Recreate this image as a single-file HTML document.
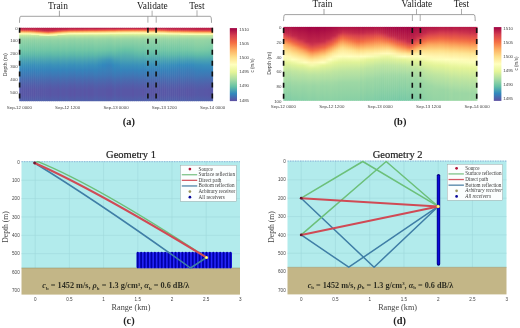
<!DOCTYPE html>
<html><head><meta charset="utf-8"><style>
html,body{margin:0;padding:0;background:#fff;width:520px;height:328px;overflow:hidden}
svg{display:block}
</style></head><body>
<svg width="520" height="328" viewBox="0 0 520 328">
<defs><linearGradient id="a0" x1="0" y1="0" x2="0" y2="1"><stop offset="0.000" stop-color="#b21747"/><stop offset="0.010" stop-color="#ba2149"/><stop offset="0.017" stop-color="#c0274a"/><stop offset="0.024" stop-color="#ca324c"/><stop offset="0.031" stop-color="#db474d"/><stop offset="0.038" stop-color="#e65848"/><stop offset="0.045" stop-color="#f57647"/><stop offset="0.052" stop-color="#fb9d59"/><stop offset="0.059" stop-color="#fdbc6d"/><stop offset="0.066" stop-color="#fed682"/><stop offset="0.073" stop-color="#fee99b"/><stop offset="0.080" stop-color="#fff9b5"/><stop offset="0.087" stop-color="#f7fcb2"/><stop offset="0.096" stop-color="#d7ef9b"/><stop offset="0.104" stop-color="#c9e99e"/><stop offset="0.113" stop-color="#bce4a0"/><stop offset="0.122" stop-color="#b5e1a2"/><stop offset="0.130" stop-color="#addea4"/><stop offset="0.139" stop-color="#a5dba4"/><stop offset="0.167" stop-color="#94d4a4"/><stop offset="0.235" stop-color="#84cea5"/><stop offset="0.303" stop-color="#73c7a5"/><stop offset="0.370" stop-color="#5fbba8"/><stop offset="0.438" stop-color="#4da6b1"/><stop offset="0.506" stop-color="#3c93b8"/><stop offset="0.576" stop-color="#3485bc"/><stop offset="0.643" stop-color="#3d7ab6"/><stop offset="0.711" stop-color="#476cb0"/><stop offset="0.779" stop-color="#5061aa"/><stop offset="0.847" stop-color="#5659a7"/><stop offset="0.915" stop-color="#5659a7"/><stop offset="1.000" stop-color="#4e63ac"/></linearGradient><linearGradient id="a1" x1="0" y1="0" x2="0" y2="1"><stop offset="0.000" stop-color="#b51a47"/><stop offset="0.010" stop-color="#bd2349"/><stop offset="0.017" stop-color="#c2294b"/><stop offset="0.024" stop-color="#cb334d"/><stop offset="0.031" stop-color="#db474d"/><stop offset="0.038" stop-color="#e75948"/><stop offset="0.045" stop-color="#f57747"/><stop offset="0.052" stop-color="#fb9d59"/><stop offset="0.059" stop-color="#fdbd6d"/><stop offset="0.066" stop-color="#fed683"/><stop offset="0.073" stop-color="#feea9b"/><stop offset="0.080" stop-color="#fffab6"/><stop offset="0.087" stop-color="#f7fcb2"/><stop offset="0.096" stop-color="#d4ee9c"/><stop offset="0.104" stop-color="#c6e89e"/><stop offset="0.113" stop-color="#bae3a1"/><stop offset="0.122" stop-color="#b2e0a3"/><stop offset="0.130" stop-color="#abdda4"/><stop offset="0.139" stop-color="#a2d9a4"/><stop offset="0.167" stop-color="#91d3a4"/><stop offset="0.235" stop-color="#81cda5"/><stop offset="0.303" stop-color="#70c6a5"/><stop offset="0.370" stop-color="#5db8a9"/><stop offset="0.438" stop-color="#4ba3b2"/><stop offset="0.506" stop-color="#3a91b9"/><stop offset="0.576" stop-color="#3683bb"/><stop offset="0.643" stop-color="#3f77b5"/><stop offset="0.711" stop-color="#496aaf"/><stop offset="0.779" stop-color="#525ea9"/><stop offset="0.847" stop-color="#5857a6"/><stop offset="0.915" stop-color="#5856a6"/><stop offset="1.000" stop-color="#5061aa"/></linearGradient><linearGradient id="a2" x1="0" y1="0" x2="0" y2="1"><stop offset="0.000" stop-color="#b41947"/><stop offset="0.010" stop-color="#bc2249"/><stop offset="0.017" stop-color="#c1284a"/><stop offset="0.024" stop-color="#c9314c"/><stop offset="0.031" stop-color="#da464d"/><stop offset="0.038" stop-color="#e65749"/><stop offset="0.045" stop-color="#f57346"/><stop offset="0.052" stop-color="#fa9a58"/><stop offset="0.059" stop-color="#fdba6b"/><stop offset="0.066" stop-color="#fed481"/><stop offset="0.073" stop-color="#fee899"/><stop offset="0.080" stop-color="#fff8b3"/><stop offset="0.087" stop-color="#f8fcb4"/><stop offset="0.096" stop-color="#d5ee9c"/><stop offset="0.104" stop-color="#c7e89e"/><stop offset="0.113" stop-color="#bae3a1"/><stop offset="0.122" stop-color="#b3e0a2"/><stop offset="0.130" stop-color="#abdda4"/><stop offset="0.139" stop-color="#a3daa4"/><stop offset="0.167" stop-color="#92d3a4"/><stop offset="0.235" stop-color="#82cda5"/><stop offset="0.303" stop-color="#71c6a5"/><stop offset="0.370" stop-color="#5eb9a9"/><stop offset="0.438" stop-color="#4ba4b1"/><stop offset="0.506" stop-color="#3b92b9"/><stop offset="0.576" stop-color="#3683bb"/><stop offset="0.643" stop-color="#3e78b5"/><stop offset="0.711" stop-color="#496aaf"/><stop offset="0.779" stop-color="#525faa"/><stop offset="0.847" stop-color="#5857a6"/><stop offset="0.915" stop-color="#5857a6"/><stop offset="1.000" stop-color="#5061ab"/></linearGradient><linearGradient id="a3" x1="0" y1="0" x2="0" y2="1"><stop offset="0.000" stop-color="#b41947"/><stop offset="0.010" stop-color="#bb2249"/><stop offset="0.017" stop-color="#c1274a"/><stop offset="0.024" stop-color="#c72f4c"/><stop offset="0.031" stop-color="#d9444d"/><stop offset="0.038" stop-color="#e55649"/><stop offset="0.045" stop-color="#f47044"/><stop offset="0.052" stop-color="#fa9756"/><stop offset="0.059" stop-color="#fdb869"/><stop offset="0.066" stop-color="#fed27f"/><stop offset="0.073" stop-color="#fee797"/><stop offset="0.080" stop-color="#fff7b1"/><stop offset="0.087" stop-color="#f9fdb6"/><stop offset="0.096" stop-color="#d5ee9b"/><stop offset="0.104" stop-color="#c7e99e"/><stop offset="0.113" stop-color="#bbe3a1"/><stop offset="0.122" stop-color="#b3e0a2"/><stop offset="0.130" stop-color="#acdda4"/><stop offset="0.139" stop-color="#a3daa4"/><stop offset="0.167" stop-color="#93d3a4"/><stop offset="0.235" stop-color="#82cda5"/><stop offset="0.303" stop-color="#72c7a5"/><stop offset="0.370" stop-color="#5eb9a9"/><stop offset="0.438" stop-color="#4ca4b1"/><stop offset="0.506" stop-color="#3b92b9"/><stop offset="0.576" stop-color="#3584bb"/><stop offset="0.643" stop-color="#3e78b6"/><stop offset="0.711" stop-color="#496baf"/><stop offset="0.779" stop-color="#515faa"/><stop offset="0.847" stop-color="#5757a6"/><stop offset="0.915" stop-color="#5757a6"/><stop offset="1.000" stop-color="#5062ab"/></linearGradient><linearGradient id="a4" x1="0" y1="0" x2="0" y2="1"><stop offset="0.000" stop-color="#b51a47"/><stop offset="0.010" stop-color="#bc2349"/><stop offset="0.017" stop-color="#c2284a"/><stop offset="0.024" stop-color="#c72f4c"/><stop offset="0.031" stop-color="#d9444e"/><stop offset="0.038" stop-color="#e45549"/><stop offset="0.045" stop-color="#f46f44"/><stop offset="0.052" stop-color="#fa9556"/><stop offset="0.059" stop-color="#fdb769"/><stop offset="0.066" stop-color="#fed17e"/><stop offset="0.073" stop-color="#fee696"/><stop offset="0.080" stop-color="#fff6b0"/><stop offset="0.087" stop-color="#f9fdb6"/><stop offset="0.096" stop-color="#d4ee9c"/><stop offset="0.104" stop-color="#c6e89e"/><stop offset="0.113" stop-color="#b9e3a1"/><stop offset="0.122" stop-color="#b2e0a3"/><stop offset="0.130" stop-color="#aadda4"/><stop offset="0.139" stop-color="#a2d9a4"/><stop offset="0.167" stop-color="#91d3a4"/><stop offset="0.235" stop-color="#80cca5"/><stop offset="0.303" stop-color="#70c6a5"/><stop offset="0.370" stop-color="#5db8a9"/><stop offset="0.438" stop-color="#4aa3b2"/><stop offset="0.506" stop-color="#3a91b9"/><stop offset="0.576" stop-color="#3682ba"/><stop offset="0.643" stop-color="#3f77b5"/><stop offset="0.711" stop-color="#4a69af"/><stop offset="0.779" stop-color="#525ea9"/><stop offset="0.847" stop-color="#5856a5"/><stop offset="0.915" stop-color="#5956a5"/><stop offset="1.000" stop-color="#5160aa"/></linearGradient><linearGradient id="a5" x1="0" y1="0" x2="0" y2="1"><stop offset="0.000" stop-color="#b41947"/><stop offset="0.010" stop-color="#bb2249"/><stop offset="0.017" stop-color="#c0274a"/><stop offset="0.024" stop-color="#c52d4b"/><stop offset="0.031" stop-color="#d7414e"/><stop offset="0.038" stop-color="#e3534a"/><stop offset="0.045" stop-color="#f26b44"/><stop offset="0.052" stop-color="#f99053"/><stop offset="0.059" stop-color="#fdb466"/><stop offset="0.066" stop-color="#fece7c"/><stop offset="0.073" stop-color="#fee492"/><stop offset="0.080" stop-color="#fff4ad"/><stop offset="0.087" stop-color="#fbfdb9"/><stop offset="0.096" stop-color="#d5ee9c"/><stop offset="0.104" stop-color="#c7e89e"/><stop offset="0.113" stop-color="#bae3a1"/><stop offset="0.122" stop-color="#b3e0a2"/><stop offset="0.130" stop-color="#abdda4"/><stop offset="0.139" stop-color="#a3daa4"/><stop offset="0.167" stop-color="#92d3a4"/><stop offset="0.235" stop-color="#81cda5"/><stop offset="0.303" stop-color="#71c6a5"/><stop offset="0.370" stop-color="#5eb9a9"/><stop offset="0.438" stop-color="#4ba4b1"/><stop offset="0.506" stop-color="#3a91b9"/><stop offset="0.576" stop-color="#3683bb"/><stop offset="0.643" stop-color="#3e78b5"/><stop offset="0.711" stop-color="#496aaf"/><stop offset="0.779" stop-color="#525faa"/><stop offset="0.847" stop-color="#5857a6"/><stop offset="0.915" stop-color="#5857a6"/><stop offset="1.000" stop-color="#5061ab"/></linearGradient><linearGradient id="a6" x1="0" y1="0" x2="0" y2="1"><stop offset="0.000" stop-color="#b41947"/><stop offset="0.010" stop-color="#bb2149"/><stop offset="0.017" stop-color="#bf264a"/><stop offset="0.024" stop-color="#c42b4b"/><stop offset="0.031" stop-color="#d33c4f"/><stop offset="0.038" stop-color="#e04e4b"/><stop offset="0.045" stop-color="#ed6346"/><stop offset="0.052" stop-color="#f7864e"/><stop offset="0.059" stop-color="#fdac60"/><stop offset="0.066" stop-color="#fdc776"/><stop offset="0.073" stop-color="#fee08b"/><stop offset="0.080" stop-color="#fff0a6"/><stop offset="0.087" stop-color="#feffbe"/><stop offset="0.096" stop-color="#eef8a5"/><stop offset="0.104" stop-color="#c7e89e"/><stop offset="0.113" stop-color="#bae3a1"/><stop offset="0.122" stop-color="#b3e0a2"/><stop offset="0.130" stop-color="#abdda4"/><stop offset="0.139" stop-color="#a3daa4"/><stop offset="0.167" stop-color="#92d3a4"/><stop offset="0.235" stop-color="#81cda5"/><stop offset="0.303" stop-color="#71c6a5"/><stop offset="0.370" stop-color="#5eb9a9"/><stop offset="0.438" stop-color="#4ba4b1"/><stop offset="0.506" stop-color="#3a91b9"/><stop offset="0.576" stop-color="#3683bb"/><stop offset="0.643" stop-color="#3e78b5"/><stop offset="0.711" stop-color="#496aaf"/><stop offset="0.779" stop-color="#525faa"/><stop offset="0.847" stop-color="#5857a6"/><stop offset="0.915" stop-color="#5857a6"/><stop offset="1.000" stop-color="#5061ab"/></linearGradient><linearGradient id="a7" x1="0" y1="0" x2="0" y2="1"><stop offset="0.000" stop-color="#b61c48"/><stop offset="0.010" stop-color="#bc2349"/><stop offset="0.017" stop-color="#c1274a"/><stop offset="0.024" stop-color="#c52c4b"/><stop offset="0.031" stop-color="#cf384e"/><stop offset="0.038" stop-color="#dd4b4c"/><stop offset="0.045" stop-color="#e95d47"/><stop offset="0.052" stop-color="#f67d4b"/><stop offset="0.059" stop-color="#fca45c"/><stop offset="0.066" stop-color="#fdc171"/><stop offset="0.073" stop-color="#fedb87"/><stop offset="0.080" stop-color="#feeda0"/><stop offset="0.087" stop-color="#fffcbb"/><stop offset="0.096" stop-color="#f1f9a9"/><stop offset="0.104" stop-color="#c5e89f"/><stop offset="0.113" stop-color="#b8e2a1"/><stop offset="0.122" stop-color="#b1dfa3"/><stop offset="0.130" stop-color="#a9dca4"/><stop offset="0.139" stop-color="#a0d9a4"/><stop offset="0.167" stop-color="#90d2a4"/><stop offset="0.235" stop-color="#7fcca5"/><stop offset="0.303" stop-color="#6fc5a5"/><stop offset="0.370" stop-color="#5cb7aa"/><stop offset="0.438" stop-color="#49a2b2"/><stop offset="0.506" stop-color="#398fba"/><stop offset="0.576" stop-color="#3781ba"/><stop offset="0.643" stop-color="#4076b4"/><stop offset="0.711" stop-color="#4a68ae"/><stop offset="0.779" stop-color="#535da9"/><stop offset="0.847" stop-color="#5955a5"/><stop offset="0.915" stop-color="#5955a5"/><stop offset="1.000" stop-color="#515faa"/></linearGradient><linearGradient id="a8" x1="0" y1="0" x2="0" y2="1"><stop offset="0.000" stop-color="#b31847"/><stop offset="0.010" stop-color="#b91f48"/><stop offset="0.017" stop-color="#bd2349"/><stop offset="0.024" stop-color="#c1284a"/><stop offset="0.031" stop-color="#c72e4c"/><stop offset="0.038" stop-color="#d9434e"/><stop offset="0.045" stop-color="#e45549"/><stop offset="0.052" stop-color="#f46f44"/><stop offset="0.059" stop-color="#fa9656"/><stop offset="0.066" stop-color="#fdb769"/><stop offset="0.073" stop-color="#fed17e"/><stop offset="0.080" stop-color="#fee696"/><stop offset="0.087" stop-color="#fff6b0"/><stop offset="0.096" stop-color="#f6fbb1"/><stop offset="0.104" stop-color="#c8e99e"/><stop offset="0.113" stop-color="#bce4a1"/><stop offset="0.122" stop-color="#b4e1a2"/><stop offset="0.130" stop-color="#addea4"/><stop offset="0.139" stop-color="#a4daa4"/><stop offset="0.167" stop-color="#93d4a4"/><stop offset="0.235" stop-color="#83cda5"/><stop offset="0.303" stop-color="#72c7a5"/><stop offset="0.370" stop-color="#5fbaa8"/><stop offset="0.438" stop-color="#4ca5b1"/><stop offset="0.506" stop-color="#3c93b9"/><stop offset="0.576" stop-color="#3584bb"/><stop offset="0.643" stop-color="#3d79b6"/><stop offset="0.711" stop-color="#486baf"/><stop offset="0.779" stop-color="#5160aa"/><stop offset="0.847" stop-color="#5758a6"/><stop offset="0.915" stop-color="#5758a6"/><stop offset="1.000" stop-color="#4f62ab"/></linearGradient><linearGradient id="a9" x1="0" y1="0" x2="0" y2="1"><stop offset="0.000" stop-color="#b31947"/><stop offset="0.010" stop-color="#b91f48"/><stop offset="0.017" stop-color="#bd2349"/><stop offset="0.024" stop-color="#c1274a"/><stop offset="0.031" stop-color="#c42b4b"/><stop offset="0.038" stop-color="#d63f4f"/><stop offset="0.045" stop-color="#e1514a"/><stop offset="0.052" stop-color="#f06744"/><stop offset="0.059" stop-color="#f88c51"/><stop offset="0.066" stop-color="#fdb163"/><stop offset="0.073" stop-color="#feca79"/><stop offset="0.080" stop-color="#fee28f"/><stop offset="0.087" stop-color="#fff2aa"/><stop offset="0.096" stop-color="#f9fdb6"/><stop offset="0.104" stop-color="#c8e99e"/><stop offset="0.113" stop-color="#bbe4a1"/><stop offset="0.122" stop-color="#b4e0a2"/><stop offset="0.130" stop-color="#acdda4"/><stop offset="0.139" stop-color="#a3daa4"/><stop offset="0.167" stop-color="#93d4a4"/><stop offset="0.235" stop-color="#82cda5"/><stop offset="0.303" stop-color="#72c7a5"/><stop offset="0.370" stop-color="#5eb9a9"/><stop offset="0.438" stop-color="#4ca5b1"/><stop offset="0.506" stop-color="#3b92b9"/><stop offset="0.576" stop-color="#3584bb"/><stop offset="0.643" stop-color="#3e79b6"/><stop offset="0.711" stop-color="#486baf"/><stop offset="0.779" stop-color="#5160aa"/><stop offset="0.847" stop-color="#5758a6"/><stop offset="0.915" stop-color="#5758a6"/><stop offset="1.000" stop-color="#4f62ab"/></linearGradient><linearGradient id="a10" x1="0" y1="0" x2="0" y2="1"><stop offset="0.000" stop-color="#b51a47"/><stop offset="0.010" stop-color="#ba2049"/><stop offset="0.017" stop-color="#be2449"/><stop offset="0.024" stop-color="#c1284a"/><stop offset="0.031" stop-color="#c52c4b"/><stop offset="0.038" stop-color="#d23a4e"/><stop offset="0.045" stop-color="#df4d4b"/><stop offset="0.052" stop-color="#ec6046"/><stop offset="0.059" stop-color="#f7824d"/><stop offset="0.066" stop-color="#fca95f"/><stop offset="0.073" stop-color="#fdc474"/><stop offset="0.080" stop-color="#fede89"/><stop offset="0.087" stop-color="#feefa3"/><stop offset="0.096" stop-color="#fcfebb"/><stop offset="0.104" stop-color="#ecf8a2"/><stop offset="0.113" stop-color="#bae3a1"/><stop offset="0.122" stop-color="#b2e0a3"/><stop offset="0.130" stop-color="#aadda4"/><stop offset="0.139" stop-color="#a2d9a4"/><stop offset="0.167" stop-color="#91d3a4"/><stop offset="0.235" stop-color="#81cca5"/><stop offset="0.303" stop-color="#70c6a5"/><stop offset="0.370" stop-color="#5db8a9"/><stop offset="0.438" stop-color="#4aa3b2"/><stop offset="0.506" stop-color="#3a91b9"/><stop offset="0.576" stop-color="#3683ba"/><stop offset="0.643" stop-color="#3f77b5"/><stop offset="0.711" stop-color="#496aaf"/><stop offset="0.779" stop-color="#525ea9"/><stop offset="0.847" stop-color="#5856a5"/><stop offset="0.915" stop-color="#5856a5"/><stop offset="1.000" stop-color="#5061aa"/></linearGradient><linearGradient id="a11" x1="0" y1="0" x2="0" y2="1"><stop offset="0.000" stop-color="#b41a47"/><stop offset="0.010" stop-color="#b91f48"/><stop offset="0.017" stop-color="#bd2349"/><stop offset="0.024" stop-color="#c0274a"/><stop offset="0.031" stop-color="#c32a4b"/><stop offset="0.038" stop-color="#cb334d"/><stop offset="0.045" stop-color="#db474d"/><stop offset="0.052" stop-color="#e75948"/><stop offset="0.059" stop-color="#f57647"/><stop offset="0.066" stop-color="#fb9d59"/><stop offset="0.073" stop-color="#fdbc6d"/><stop offset="0.080" stop-color="#fed683"/><stop offset="0.087" stop-color="#feea9b"/><stop offset="0.096" stop-color="#fffdbc"/><stop offset="0.104" stop-color="#f0f9a8"/><stop offset="0.113" stop-color="#bae3a1"/><stop offset="0.122" stop-color="#b3e0a2"/><stop offset="0.130" stop-color="#abdda4"/><stop offset="0.139" stop-color="#a2daa4"/><stop offset="0.167" stop-color="#92d3a4"/><stop offset="0.235" stop-color="#81cda5"/><stop offset="0.303" stop-color="#71c6a5"/><stop offset="0.370" stop-color="#5eb9a9"/><stop offset="0.438" stop-color="#4ba4b2"/><stop offset="0.506" stop-color="#3a91b9"/><stop offset="0.576" stop-color="#3683bb"/><stop offset="0.643" stop-color="#3f78b5"/><stop offset="0.711" stop-color="#496aaf"/><stop offset="0.779" stop-color="#525fa9"/><stop offset="0.847" stop-color="#5857a6"/><stop offset="0.915" stop-color="#5857a6"/><stop offset="1.000" stop-color="#5061ab"/></linearGradient><linearGradient id="a12" x1="0" y1="0" x2="0" y2="1"><stop offset="0.000" stop-color="#b31947"/><stop offset="0.010" stop-color="#b81e48"/><stop offset="0.017" stop-color="#bb2249"/><stop offset="0.024" stop-color="#bf254a"/><stop offset="0.031" stop-color="#c2294a"/><stop offset="0.038" stop-color="#c52c4b"/><stop offset="0.045" stop-color="#d7414e"/><stop offset="0.052" stop-color="#e3534a"/><stop offset="0.059" stop-color="#f36b44"/><stop offset="0.066" stop-color="#f99154"/><stop offset="0.073" stop-color="#fdb466"/><stop offset="0.080" stop-color="#fece7c"/><stop offset="0.087" stop-color="#fee493"/><stop offset="0.096" stop-color="#fff8b4"/><stop offset="0.104" stop-color="#f4fbaf"/><stop offset="0.113" stop-color="#bbe3a1"/><stop offset="0.122" stop-color="#b3e0a2"/><stop offset="0.130" stop-color="#acdda4"/><stop offset="0.139" stop-color="#a3daa4"/><stop offset="0.167" stop-color="#93d3a4"/><stop offset="0.235" stop-color="#82cda5"/><stop offset="0.303" stop-color="#72c7a5"/><stop offset="0.370" stop-color="#5eb9a9"/><stop offset="0.438" stop-color="#4ca5b1"/><stop offset="0.506" stop-color="#3b92b9"/><stop offset="0.576" stop-color="#3584bb"/><stop offset="0.643" stop-color="#3e79b6"/><stop offset="0.711" stop-color="#486baf"/><stop offset="0.779" stop-color="#5160aa"/><stop offset="0.847" stop-color="#5758a6"/><stop offset="0.915" stop-color="#5758a6"/><stop offset="1.000" stop-color="#4f62ab"/></linearGradient><linearGradient id="a13" x1="0" y1="0" x2="0" y2="1"><stop offset="0.000" stop-color="#b41a47"/><stop offset="0.010" stop-color="#b91f48"/><stop offset="0.017" stop-color="#bc2249"/><stop offset="0.024" stop-color="#bf254a"/><stop offset="0.031" stop-color="#c2294a"/><stop offset="0.038" stop-color="#c52c4b"/><stop offset="0.045" stop-color="#d43c4f"/><stop offset="0.052" stop-color="#e04e4b"/><stop offset="0.059" stop-color="#ee6345"/><stop offset="0.066" stop-color="#f8864f"/><stop offset="0.073" stop-color="#fdad61"/><stop offset="0.080" stop-color="#fdc776"/><stop offset="0.087" stop-color="#fee08b"/><stop offset="0.096" stop-color="#fff4ad"/><stop offset="0.104" stop-color="#f8fcb4"/><stop offset="0.113" stop-color="#bae3a1"/><stop offset="0.122" stop-color="#b3e0a2"/><stop offset="0.130" stop-color="#abdda4"/><stop offset="0.139" stop-color="#a2daa4"/><stop offset="0.167" stop-color="#92d3a4"/><stop offset="0.235" stop-color="#81cda5"/><stop offset="0.303" stop-color="#71c6a5"/><stop offset="0.370" stop-color="#5db8a9"/><stop offset="0.438" stop-color="#4ba4b2"/><stop offset="0.506" stop-color="#3a91b9"/><stop offset="0.576" stop-color="#3683bb"/><stop offset="0.643" stop-color="#3f78b5"/><stop offset="0.711" stop-color="#496aaf"/><stop offset="0.779" stop-color="#525fa9"/><stop offset="0.847" stop-color="#5857a6"/><stop offset="0.915" stop-color="#5857a6"/><stop offset="1.000" stop-color="#5061aa"/></linearGradient><linearGradient id="a14" x1="0" y1="0" x2="0" y2="1"><stop offset="0.000" stop-color="#b41a47"/><stop offset="0.010" stop-color="#b91f48"/><stop offset="0.017" stop-color="#bc2249"/><stop offset="0.024" stop-color="#bf254a"/><stop offset="0.031" stop-color="#c1284a"/><stop offset="0.038" stop-color="#c42c4b"/><stop offset="0.045" stop-color="#d0384e"/><stop offset="0.052" stop-color="#de4b4c"/><stop offset="0.059" stop-color="#ea5e47"/><stop offset="0.066" stop-color="#f77f4b"/><stop offset="0.073" stop-color="#fca65d"/><stop offset="0.080" stop-color="#fdc272"/><stop offset="0.087" stop-color="#fedc87"/><stop offset="0.096" stop-color="#fff1a8"/><stop offset="0.104" stop-color="#fafdb8"/><stop offset="0.113" stop-color="#bae3a1"/><stop offset="0.122" stop-color="#b3e0a2"/><stop offset="0.130" stop-color="#abdda4"/><stop offset="0.139" stop-color="#a2daa4"/><stop offset="0.167" stop-color="#92d3a4"/><stop offset="0.235" stop-color="#81cda5"/><stop offset="0.303" stop-color="#71c6a5"/><stop offset="0.370" stop-color="#5db8a9"/><stop offset="0.438" stop-color="#4ba4b2"/><stop offset="0.506" stop-color="#3a91b9"/><stop offset="0.576" stop-color="#3683bb"/><stop offset="0.643" stop-color="#3f78b5"/><stop offset="0.711" stop-color="#496aaf"/><stop offset="0.779" stop-color="#525fa9"/><stop offset="0.847" stop-color="#5857a6"/><stop offset="0.915" stop-color="#5857a6"/><stop offset="1.000" stop-color="#5061ab"/></linearGradient><linearGradient id="a15" x1="0" y1="0" x2="0" y2="1"><stop offset="0.000" stop-color="#b61b48"/><stop offset="0.010" stop-color="#ba2049"/><stop offset="0.017" stop-color="#bd2449"/><stop offset="0.024" stop-color="#c0274a"/><stop offset="0.031" stop-color="#c32a4b"/><stop offset="0.038" stop-color="#c62e4c"/><stop offset="0.045" stop-color="#d6404f"/><stop offset="0.052" stop-color="#e2514a"/><stop offset="0.059" stop-color="#f06744"/><stop offset="0.066" stop-color="#f88c51"/><stop offset="0.073" stop-color="#fdb164"/><stop offset="0.080" stop-color="#fecb79"/><stop offset="0.087" stop-color="#fee38f"/><stop offset="0.096" stop-color="#fff6b1"/><stop offset="0.104" stop-color="#f6fbb1"/><stop offset="0.113" stop-color="#b9e3a1"/><stop offset="0.122" stop-color="#b1dfa3"/><stop offset="0.130" stop-color="#a9dca4"/><stop offset="0.139" stop-color="#a1d9a4"/><stop offset="0.167" stop-color="#90d2a4"/><stop offset="0.235" stop-color="#7fcca5"/><stop offset="0.303" stop-color="#6fc6a5"/><stop offset="0.370" stop-color="#5cb7aa"/><stop offset="0.438" stop-color="#4aa2b2"/><stop offset="0.506" stop-color="#3990ba"/><stop offset="0.576" stop-color="#3782ba"/><stop offset="0.643" stop-color="#4076b5"/><stop offset="0.711" stop-color="#4a69ae"/><stop offset="0.779" stop-color="#535da9"/><stop offset="0.847" stop-color="#5955a5"/><stop offset="0.915" stop-color="#5955a5"/><stop offset="1.000" stop-color="#5160aa"/></linearGradient><linearGradient id="a16" x1="0" y1="0" x2="0" y2="1"><stop offset="0.000" stop-color="#b31947"/><stop offset="0.010" stop-color="#b81e48"/><stop offset="0.017" stop-color="#bb2249"/><stop offset="0.024" stop-color="#bf254a"/><stop offset="0.031" stop-color="#c2294a"/><stop offset="0.038" stop-color="#c62d4b"/><stop offset="0.045" stop-color="#d8434e"/><stop offset="0.052" stop-color="#e45449"/><stop offset="0.059" stop-color="#f46d43"/><stop offset="0.066" stop-color="#f99455"/><stop offset="0.073" stop-color="#fdb668"/><stop offset="0.080" stop-color="#fed07d"/><stop offset="0.087" stop-color="#fee695"/><stop offset="0.096" stop-color="#fffab6"/><stop offset="0.104" stop-color="#f3faad"/><stop offset="0.113" stop-color="#bbe4a1"/><stop offset="0.122" stop-color="#b3e0a2"/><stop offset="0.130" stop-color="#acdda4"/><stop offset="0.139" stop-color="#a3daa4"/><stop offset="0.167" stop-color="#93d4a4"/><stop offset="0.235" stop-color="#82cda5"/><stop offset="0.303" stop-color="#72c7a5"/><stop offset="0.370" stop-color="#5eb9a9"/><stop offset="0.438" stop-color="#4ca5b1"/><stop offset="0.506" stop-color="#3b92b9"/><stop offset="0.576" stop-color="#3584bb"/><stop offset="0.643" stop-color="#3e79b6"/><stop offset="0.711" stop-color="#486baf"/><stop offset="0.779" stop-color="#5160aa"/><stop offset="0.847" stop-color="#5758a6"/><stop offset="0.915" stop-color="#5758a6"/><stop offset="1.000" stop-color="#4f62ab"/></linearGradient><linearGradient id="a17" x1="0" y1="0" x2="0" y2="1"><stop offset="0.000" stop-color="#b41947"/><stop offset="0.010" stop-color="#b91f48"/><stop offset="0.017" stop-color="#bc2349"/><stop offset="0.024" stop-color="#c0264a"/><stop offset="0.031" stop-color="#c32a4b"/><stop offset="0.038" stop-color="#cc344d"/><stop offset="0.045" stop-color="#dc484c"/><stop offset="0.052" stop-color="#e75a48"/><stop offset="0.059" stop-color="#f67948"/><stop offset="0.066" stop-color="#fb9f5a"/><stop offset="0.073" stop-color="#fdbe6e"/><stop offset="0.080" stop-color="#fed784"/><stop offset="0.087" stop-color="#feeb9d"/><stop offset="0.096" stop-color="#fffebe"/><stop offset="0.104" stop-color="#f0f9a7"/><stop offset="0.113" stop-color="#bbe3a1"/><stop offset="0.122" stop-color="#b3e0a2"/><stop offset="0.130" stop-color="#abdda4"/><stop offset="0.139" stop-color="#a3daa4"/><stop offset="0.167" stop-color="#92d3a4"/><stop offset="0.235" stop-color="#82cda5"/><stop offset="0.303" stop-color="#71c6a5"/><stop offset="0.370" stop-color="#5eb9a9"/><stop offset="0.438" stop-color="#4ba4b1"/><stop offset="0.506" stop-color="#3b92b9"/><stop offset="0.576" stop-color="#3683bb"/><stop offset="0.643" stop-color="#3e78b5"/><stop offset="0.711" stop-color="#496aaf"/><stop offset="0.779" stop-color="#525faa"/><stop offset="0.847" stop-color="#5857a6"/><stop offset="0.915" stop-color="#5857a6"/><stop offset="1.000" stop-color="#5061ab"/></linearGradient><linearGradient id="a18" x1="0" y1="0" x2="0" y2="1"><stop offset="0.000" stop-color="#b41947"/><stop offset="0.010" stop-color="#b91f48"/><stop offset="0.017" stop-color="#bd2349"/><stop offset="0.024" stop-color="#c0274a"/><stop offset="0.031" stop-color="#c42b4b"/><stop offset="0.038" stop-color="#d33b4e"/><stop offset="0.045" stop-color="#df4e4b"/><stop offset="0.052" stop-color="#ed6246"/><stop offset="0.059" stop-color="#f7854e"/><stop offset="0.066" stop-color="#fdac60"/><stop offset="0.073" stop-color="#fdc675"/><stop offset="0.080" stop-color="#fee08b"/><stop offset="0.087" stop-color="#fff0a5"/><stop offset="0.096" stop-color="#fcfeba"/><stop offset="0.104" stop-color="#ecf7a1"/><stop offset="0.113" stop-color="#bbe3a1"/><stop offset="0.122" stop-color="#b3e0a2"/><stop offset="0.130" stop-color="#acdda4"/><stop offset="0.139" stop-color="#a3daa4"/><stop offset="0.167" stop-color="#92d3a4"/><stop offset="0.235" stop-color="#82cda5"/><stop offset="0.303" stop-color="#71c6a5"/><stop offset="0.370" stop-color="#5eb9a9"/><stop offset="0.438" stop-color="#4ba4b1"/><stop offset="0.506" stop-color="#3b92b9"/><stop offset="0.576" stop-color="#3584bb"/><stop offset="0.643" stop-color="#3e78b6"/><stop offset="0.711" stop-color="#496baf"/><stop offset="0.779" stop-color="#515faa"/><stop offset="0.847" stop-color="#5857a6"/><stop offset="0.915" stop-color="#5857a6"/><stop offset="1.000" stop-color="#5062ab"/></linearGradient><linearGradient id="a19" x1="0" y1="0" x2="0" y2="1"><stop offset="0.000" stop-color="#b61b48"/><stop offset="0.010" stop-color="#bc2249"/><stop offset="0.017" stop-color="#bf264a"/><stop offset="0.024" stop-color="#c32a4b"/><stop offset="0.031" stop-color="#c72f4c"/><stop offset="0.038" stop-color="#d9444e"/><stop offset="0.045" stop-color="#e45549"/><stop offset="0.052" stop-color="#f46e43"/><stop offset="0.059" stop-color="#f99455"/><stop offset="0.066" stop-color="#fdb768"/><stop offset="0.073" stop-color="#fed07e"/><stop offset="0.080" stop-color="#fee695"/><stop offset="0.087" stop-color="#fff6b0"/><stop offset="0.096" stop-color="#f6fcb1"/><stop offset="0.104" stop-color="#c5e89f"/><stop offset="0.113" stop-color="#b9e3a1"/><stop offset="0.122" stop-color="#b1dfa3"/><stop offset="0.130" stop-color="#a9dca4"/><stop offset="0.139" stop-color="#a1d9a4"/><stop offset="0.167" stop-color="#90d2a4"/><stop offset="0.235" stop-color="#7fcca5"/><stop offset="0.303" stop-color="#6fc5a5"/><stop offset="0.370" stop-color="#5cb7aa"/><stop offset="0.438" stop-color="#49a2b2"/><stop offset="0.506" stop-color="#3990ba"/><stop offset="0.576" stop-color="#3782ba"/><stop offset="0.643" stop-color="#4076b5"/><stop offset="0.711" stop-color="#4a69ae"/><stop offset="0.779" stop-color="#535da9"/><stop offset="0.847" stop-color="#5955a5"/><stop offset="0.915" stop-color="#5955a5"/><stop offset="1.000" stop-color="#515faa"/></linearGradient><linearGradient id="a20" x1="0" y1="0" x2="0" y2="1"><stop offset="0.000" stop-color="#b21747"/><stop offset="0.010" stop-color="#b91e48"/><stop offset="0.017" stop-color="#bd2349"/><stop offset="0.024" stop-color="#c1284a"/><stop offset="0.031" stop-color="#cb324d"/><stop offset="0.038" stop-color="#db474d"/><stop offset="0.045" stop-color="#e65848"/><stop offset="0.052" stop-color="#f57747"/><stop offset="0.059" stop-color="#fb9d59"/><stop offset="0.066" stop-color="#fdbc6d"/><stop offset="0.073" stop-color="#fed683"/><stop offset="0.080" stop-color="#feea9b"/><stop offset="0.087" stop-color="#fff9b6"/><stop offset="0.096" stop-color="#f4faad"/><stop offset="0.104" stop-color="#c9e99e"/><stop offset="0.113" stop-color="#bce4a0"/><stop offset="0.122" stop-color="#b5e1a2"/><stop offset="0.130" stop-color="#addea4"/><stop offset="0.139" stop-color="#a5dba4"/><stop offset="0.167" stop-color="#94d4a4"/><stop offset="0.235" stop-color="#84cea5"/><stop offset="0.303" stop-color="#73c7a5"/><stop offset="0.370" stop-color="#5fbba8"/><stop offset="0.438" stop-color="#4da6b1"/><stop offset="0.506" stop-color="#3c93b8"/><stop offset="0.576" stop-color="#3485bc"/><stop offset="0.643" stop-color="#3d7ab6"/><stop offset="0.711" stop-color="#476cb0"/><stop offset="0.779" stop-color="#5061aa"/><stop offset="0.847" stop-color="#5659a7"/><stop offset="0.915" stop-color="#5659a7"/><stop offset="1.000" stop-color="#4e63ac"/></linearGradient><linearGradient id="a21" x1="0" y1="0" x2="0" y2="1"><stop offset="0.000" stop-color="#b41947"/><stop offset="0.010" stop-color="#bb2149"/><stop offset="0.017" stop-color="#bf264a"/><stop offset="0.024" stop-color="#c42b4b"/><stop offset="0.031" stop-color="#d33b4e"/><stop offset="0.038" stop-color="#df4e4b"/><stop offset="0.045" stop-color="#ed6246"/><stop offset="0.052" stop-color="#f7854e"/><stop offset="0.059" stop-color="#fdab60"/><stop offset="0.066" stop-color="#fdc675"/><stop offset="0.073" stop-color="#fedf8a"/><stop offset="0.080" stop-color="#feefa5"/><stop offset="0.087" stop-color="#ffffbf"/><stop offset="0.096" stop-color="#eff9a6"/><stop offset="0.104" stop-color="#c7e89e"/><stop offset="0.113" stop-color="#bbe3a1"/><stop offset="0.122" stop-color="#b3e0a2"/><stop offset="0.130" stop-color="#abdda4"/><stop offset="0.139" stop-color="#a3daa4"/><stop offset="0.167" stop-color="#92d3a4"/><stop offset="0.235" stop-color="#82cda5"/><stop offset="0.303" stop-color="#71c6a5"/><stop offset="0.370" stop-color="#5eb9a9"/><stop offset="0.438" stop-color="#4ba4b1"/><stop offset="0.506" stop-color="#3b92b9"/><stop offset="0.576" stop-color="#3583bb"/><stop offset="0.643" stop-color="#3e78b5"/><stop offset="0.711" stop-color="#496baf"/><stop offset="0.779" stop-color="#525faa"/><stop offset="0.847" stop-color="#5857a6"/><stop offset="0.915" stop-color="#5857a6"/><stop offset="1.000" stop-color="#5061ab"/></linearGradient><linearGradient id="a22" x1="0" y1="0" x2="0" y2="1"><stop offset="0.000" stop-color="#b41a47"/><stop offset="0.010" stop-color="#bc2249"/><stop offset="0.017" stop-color="#c1274a"/><stop offset="0.024" stop-color="#c52d4b"/><stop offset="0.031" stop-color="#d7404e"/><stop offset="0.038" stop-color="#e2524a"/><stop offset="0.045" stop-color="#f16944"/><stop offset="0.052" stop-color="#f98e52"/><stop offset="0.059" stop-color="#fdb365"/><stop offset="0.066" stop-color="#fecc7a"/><stop offset="0.073" stop-color="#fee391"/><stop offset="0.080" stop-color="#fff3ab"/><stop offset="0.087" stop-color="#fcfeba"/><stop offset="0.096" stop-color="#ecf7a1"/><stop offset="0.104" stop-color="#c7e89e"/><stop offset="0.113" stop-color="#bae3a1"/><stop offset="0.122" stop-color="#b2e0a2"/><stop offset="0.130" stop-color="#abdda4"/><stop offset="0.139" stop-color="#a2daa4"/><stop offset="0.167" stop-color="#91d3a4"/><stop offset="0.235" stop-color="#81cda5"/><stop offset="0.303" stop-color="#70c6a5"/><stop offset="0.370" stop-color="#5db8a9"/><stop offset="0.438" stop-color="#4ba4b2"/><stop offset="0.506" stop-color="#3a91b9"/><stop offset="0.576" stop-color="#3683bb"/><stop offset="0.643" stop-color="#3f78b5"/><stop offset="0.711" stop-color="#496aaf"/><stop offset="0.779" stop-color="#525fa9"/><stop offset="0.847" stop-color="#5857a6"/><stop offset="0.915" stop-color="#5857a6"/><stop offset="1.000" stop-color="#5061aa"/></linearGradient><linearGradient id="a23" x1="0" y1="0" x2="0" y2="1"><stop offset="0.000" stop-color="#b21747"/><stop offset="0.010" stop-color="#ba2049"/><stop offset="0.017" stop-color="#bf254a"/><stop offset="0.024" stop-color="#c52c4b"/><stop offset="0.031" stop-color="#d8424e"/><stop offset="0.038" stop-color="#e35449"/><stop offset="0.045" stop-color="#f46d43"/><stop offset="0.052" stop-color="#f99455"/><stop offset="0.059" stop-color="#fdb668"/><stop offset="0.066" stop-color="#fecf7d"/><stop offset="0.073" stop-color="#fee694"/><stop offset="0.080" stop-color="#fff5af"/><stop offset="0.087" stop-color="#fafdb7"/><stop offset="0.096" stop-color="#d7ef9b"/><stop offset="0.104" stop-color="#c9e99e"/><stop offset="0.113" stop-color="#bde4a0"/><stop offset="0.122" stop-color="#b5e1a2"/><stop offset="0.130" stop-color="#aedea3"/><stop offset="0.139" stop-color="#a5dba4"/><stop offset="0.167" stop-color="#95d4a4"/><stop offset="0.235" stop-color="#84cea5"/><stop offset="0.303" stop-color="#74c7a5"/><stop offset="0.370" stop-color="#60bba8"/><stop offset="0.438" stop-color="#4da6b0"/><stop offset="0.506" stop-color="#3d94b8"/><stop offset="0.576" stop-color="#3486bc"/><stop offset="0.643" stop-color="#3d7ab6"/><stop offset="0.711" stop-color="#476db0"/><stop offset="0.779" stop-color="#5061ab"/><stop offset="0.847" stop-color="#5659a7"/><stop offset="0.915" stop-color="#5659a7"/><stop offset="1.000" stop-color="#4e64ac"/></linearGradient><linearGradient id="a24" x1="0" y1="0" x2="0" y2="1"><stop offset="0.000" stop-color="#b41947"/><stop offset="0.010" stop-color="#bc2349"/><stop offset="0.017" stop-color="#c2294a"/><stop offset="0.024" stop-color="#cc344d"/><stop offset="0.031" stop-color="#dc484c"/><stop offset="0.038" stop-color="#e75a48"/><stop offset="0.045" stop-color="#f67848"/><stop offset="0.052" stop-color="#fb9f5a"/><stop offset="0.059" stop-color="#fdbe6e"/><stop offset="0.066" stop-color="#fed784"/><stop offset="0.073" stop-color="#feea9c"/><stop offset="0.080" stop-color="#fffab7"/><stop offset="0.087" stop-color="#f6fbb1"/><stop offset="0.096" stop-color="#d5ee9c"/><stop offset="0.104" stop-color="#c7e89e"/><stop offset="0.113" stop-color="#bae3a1"/><stop offset="0.122" stop-color="#b3e0a2"/><stop offset="0.130" stop-color="#abdda4"/><stop offset="0.139" stop-color="#a3daa4"/><stop offset="0.167" stop-color="#92d3a4"/><stop offset="0.235" stop-color="#81cda5"/><stop offset="0.303" stop-color="#71c6a5"/><stop offset="0.370" stop-color="#5eb9a9"/><stop offset="0.438" stop-color="#4ba4b1"/><stop offset="0.506" stop-color="#3a91b9"/><stop offset="0.576" stop-color="#3683bb"/><stop offset="0.643" stop-color="#3e78b5"/><stop offset="0.711" stop-color="#496aaf"/><stop offset="0.779" stop-color="#525faa"/><stop offset="0.847" stop-color="#5857a6"/><stop offset="0.915" stop-color="#5857a6"/><stop offset="1.000" stop-color="#5061ab"/></linearGradient><linearGradient id="a25" x1="0" y1="0" x2="0" y2="1"><stop offset="0.000" stop-color="#b61b48"/><stop offset="0.010" stop-color="#be254a"/><stop offset="0.017" stop-color="#c42b4b"/><stop offset="0.024" stop-color="#cf384e"/><stop offset="0.031" stop-color="#dd4b4c"/><stop offset="0.038" stop-color="#e95d47"/><stop offset="0.045" stop-color="#f67d4b"/><stop offset="0.052" stop-color="#fca45c"/><stop offset="0.059" stop-color="#fdc171"/><stop offset="0.066" stop-color="#fedb87"/><stop offset="0.073" stop-color="#feeda0"/><stop offset="0.080" stop-color="#fffcbb"/><stop offset="0.087" stop-color="#f4fbae"/><stop offset="0.096" stop-color="#d3ed9c"/><stop offset="0.104" stop-color="#c5e89f"/><stop offset="0.113" stop-color="#b9e3a1"/><stop offset="0.122" stop-color="#b1dfa3"/><stop offset="0.130" stop-color="#a9dca4"/><stop offset="0.139" stop-color="#a1d9a4"/><stop offset="0.167" stop-color="#90d2a4"/><stop offset="0.235" stop-color="#7fcca5"/><stop offset="0.303" stop-color="#6fc6a5"/><stop offset="0.370" stop-color="#5cb7aa"/><stop offset="0.438" stop-color="#4aa2b2"/><stop offset="0.506" stop-color="#3990ba"/><stop offset="0.576" stop-color="#3782ba"/><stop offset="0.643" stop-color="#4076b5"/><stop offset="0.711" stop-color="#4a69ae"/><stop offset="0.779" stop-color="#535da9"/><stop offset="0.847" stop-color="#5955a5"/><stop offset="0.915" stop-color="#5955a5"/><stop offset="1.000" stop-color="#5160aa"/></linearGradient><linearGradient id="a26" x1="0" y1="0" x2="0" y2="1"><stop offset="0.000" stop-color="#b41a47"/><stop offset="0.010" stop-color="#bd2349"/><stop offset="0.017" stop-color="#c32a4b"/><stop offset="0.024" stop-color="#cf374e"/><stop offset="0.031" stop-color="#dd4a4c"/><stop offset="0.038" stop-color="#e95d47"/><stop offset="0.045" stop-color="#f67d4b"/><stop offset="0.052" stop-color="#fca45c"/><stop offset="0.059" stop-color="#fdc171"/><stop offset="0.066" stop-color="#fedb86"/><stop offset="0.073" stop-color="#feeda0"/><stop offset="0.080" stop-color="#fffcbb"/><stop offset="0.087" stop-color="#f4fbae"/><stop offset="0.096" stop-color="#d4ee9c"/><stop offset="0.104" stop-color="#c7e89e"/><stop offset="0.113" stop-color="#bae3a1"/><stop offset="0.122" stop-color="#b2e0a3"/><stop offset="0.130" stop-color="#abdda4"/><stop offset="0.139" stop-color="#a2daa4"/><stop offset="0.167" stop-color="#91d3a4"/><stop offset="0.235" stop-color="#81cda5"/><stop offset="0.303" stop-color="#70c6a5"/><stop offset="0.370" stop-color="#5db8a9"/><stop offset="0.438" stop-color="#4ba4b2"/><stop offset="0.506" stop-color="#3a91b9"/><stop offset="0.576" stop-color="#3683bb"/><stop offset="0.643" stop-color="#3f77b5"/><stop offset="0.711" stop-color="#496aaf"/><stop offset="0.779" stop-color="#525fa9"/><stop offset="0.847" stop-color="#5857a6"/><stop offset="0.915" stop-color="#5857a6"/><stop offset="1.000" stop-color="#5061aa"/></linearGradient><linearGradient id="a27" x1="0" y1="0" x2="0" y2="1"><stop offset="0.000" stop-color="#b71c48"/><stop offset="0.010" stop-color="#bf264a"/><stop offset="0.017" stop-color="#c52c4b"/><stop offset="0.024" stop-color="#d23a4e"/><stop offset="0.031" stop-color="#df4d4b"/><stop offset="0.038" stop-color="#eb6046"/><stop offset="0.045" stop-color="#f7814c"/><stop offset="0.052" stop-color="#fca85e"/><stop offset="0.059" stop-color="#fdc473"/><stop offset="0.066" stop-color="#fedd89"/><stop offset="0.073" stop-color="#feeea3"/><stop offset="0.080" stop-color="#fffebd"/><stop offset="0.087" stop-color="#f3faac"/><stop offset="0.096" stop-color="#d2ed9c"/><stop offset="0.104" stop-color="#c4e79f"/><stop offset="0.113" stop-color="#b8e2a1"/><stop offset="0.122" stop-color="#b0dfa3"/><stop offset="0.130" stop-color="#a8dca4"/><stop offset="0.139" stop-color="#9fd8a4"/><stop offset="0.167" stop-color="#8fd2a4"/><stop offset="0.235" stop-color="#7ecca5"/><stop offset="0.303" stop-color="#6ec5a5"/><stop offset="0.370" stop-color="#5bb6aa"/><stop offset="0.438" stop-color="#49a1b3"/><stop offset="0.506" stop-color="#388fba"/><stop offset="0.576" stop-color="#3881ba"/><stop offset="0.643" stop-color="#4075b4"/><stop offset="0.711" stop-color="#4b68ae"/><stop offset="0.779" stop-color="#545ca8"/><stop offset="0.847" stop-color="#5a54a5"/><stop offset="0.915" stop-color="#5a54a5"/><stop offset="1.000" stop-color="#525fa9"/></linearGradient><linearGradient id="a28" x1="0" y1="0" x2="0" y2="1"><stop offset="0.000" stop-color="#b31847"/><stop offset="0.010" stop-color="#bc2249"/><stop offset="0.017" stop-color="#c2284a"/><stop offset="0.024" stop-color="#cf374e"/><stop offset="0.031" stop-color="#dd4a4c"/><stop offset="0.038" stop-color="#ea5e47"/><stop offset="0.045" stop-color="#f67e4b"/><stop offset="0.052" stop-color="#fca55d"/><stop offset="0.059" stop-color="#fdc271"/><stop offset="0.066" stop-color="#fedb87"/><stop offset="0.073" stop-color="#feeda0"/><stop offset="0.080" stop-color="#fffdbb"/><stop offset="0.087" stop-color="#f4fbae"/><stop offset="0.096" stop-color="#d6ee9b"/><stop offset="0.104" stop-color="#c8e99e"/><stop offset="0.113" stop-color="#bce4a1"/><stop offset="0.122" stop-color="#b4e1a2"/><stop offset="0.130" stop-color="#addea4"/><stop offset="0.139" stop-color="#a4daa4"/><stop offset="0.167" stop-color="#93d4a4"/><stop offset="0.235" stop-color="#83cda5"/><stop offset="0.303" stop-color="#72c7a5"/><stop offset="0.370" stop-color="#5fbaa8"/><stop offset="0.438" stop-color="#4ca5b1"/><stop offset="0.506" stop-color="#3c93b9"/><stop offset="0.576" stop-color="#3585bb"/><stop offset="0.643" stop-color="#3d79b6"/><stop offset="0.711" stop-color="#486cb0"/><stop offset="0.779" stop-color="#5160aa"/><stop offset="0.847" stop-color="#5758a6"/><stop offset="0.915" stop-color="#5758a6"/><stop offset="1.000" stop-color="#4f62ab"/></linearGradient><linearGradient id="a29" x1="0" y1="0" x2="0" y2="1"><stop offset="0.000" stop-color="#b41a47"/><stop offset="0.010" stop-color="#bd2449"/><stop offset="0.017" stop-color="#c32a4b"/><stop offset="0.024" stop-color="#d13a4e"/><stop offset="0.031" stop-color="#df4c4b"/><stop offset="0.038" stop-color="#eb6046"/><stop offset="0.045" stop-color="#f7824d"/><stop offset="0.052" stop-color="#fca95e"/><stop offset="0.059" stop-color="#fdc473"/><stop offset="0.066" stop-color="#fede89"/><stop offset="0.073" stop-color="#feeea3"/><stop offset="0.080" stop-color="#fffebe"/><stop offset="0.087" stop-color="#f3faac"/><stop offset="0.096" stop-color="#d4ee9c"/><stop offset="0.104" stop-color="#c7e89e"/><stop offset="0.113" stop-color="#bae3a1"/><stop offset="0.122" stop-color="#b2e0a3"/><stop offset="0.130" stop-color="#abdda4"/><stop offset="0.139" stop-color="#a2d9a4"/><stop offset="0.167" stop-color="#91d3a4"/><stop offset="0.235" stop-color="#81cda5"/><stop offset="0.303" stop-color="#70c6a5"/><stop offset="0.370" stop-color="#5db8a9"/><stop offset="0.438" stop-color="#4ba3b2"/><stop offset="0.506" stop-color="#3a91b9"/><stop offset="0.576" stop-color="#3683bb"/><stop offset="0.643" stop-color="#3f77b5"/><stop offset="0.711" stop-color="#496aaf"/><stop offset="0.779" stop-color="#525fa9"/><stop offset="0.847" stop-color="#5857a6"/><stop offset="0.915" stop-color="#5857a6"/><stop offset="1.000" stop-color="#5061aa"/></linearGradient><linearGradient id="a30" x1="0" y1="0" x2="0" y2="1"><stop offset="0.000" stop-color="#b51a47"/><stop offset="0.010" stop-color="#be244a"/><stop offset="0.017" stop-color="#c42b4b"/><stop offset="0.024" stop-color="#d23b4e"/><stop offset="0.031" stop-color="#df4d4b"/><stop offset="0.038" stop-color="#ec6146"/><stop offset="0.045" stop-color="#f7844d"/><stop offset="0.052" stop-color="#fdaa5f"/><stop offset="0.059" stop-color="#fdc575"/><stop offset="0.066" stop-color="#fedf8a"/><stop offset="0.073" stop-color="#feefa4"/><stop offset="0.080" stop-color="#ffffbf"/><stop offset="0.087" stop-color="#f2faab"/><stop offset="0.096" stop-color="#d4ee9c"/><stop offset="0.104" stop-color="#c6e89e"/><stop offset="0.113" stop-color="#b9e3a1"/><stop offset="0.122" stop-color="#b2e0a3"/><stop offset="0.130" stop-color="#aadda4"/><stop offset="0.139" stop-color="#a2d9a4"/><stop offset="0.167" stop-color="#91d3a4"/><stop offset="0.235" stop-color="#80cca5"/><stop offset="0.303" stop-color="#70c6a5"/><stop offset="0.370" stop-color="#5db8a9"/><stop offset="0.438" stop-color="#4aa3b2"/><stop offset="0.506" stop-color="#3a91b9"/><stop offset="0.576" stop-color="#3682ba"/><stop offset="0.643" stop-color="#3f77b5"/><stop offset="0.711" stop-color="#4a69af"/><stop offset="0.779" stop-color="#525ea9"/><stop offset="0.847" stop-color="#5856a5"/><stop offset="0.915" stop-color="#5856a5"/><stop offset="1.000" stop-color="#5160aa"/></linearGradient><linearGradient id="a31" x1="0" y1="0" x2="0" y2="1"><stop offset="0.000" stop-color="#b31847"/><stop offset="0.010" stop-color="#bc2249"/><stop offset="0.017" stop-color="#c2294b"/><stop offset="0.024" stop-color="#d13a4e"/><stop offset="0.031" stop-color="#de4c4b"/><stop offset="0.038" stop-color="#ec6146"/><stop offset="0.045" stop-color="#f7834d"/><stop offset="0.052" stop-color="#fcaa5f"/><stop offset="0.059" stop-color="#fdc474"/><stop offset="0.066" stop-color="#fede89"/><stop offset="0.073" stop-color="#feefa3"/><stop offset="0.080" stop-color="#fffebe"/><stop offset="0.087" stop-color="#f3faac"/><stop offset="0.096" stop-color="#d6ee9b"/><stop offset="0.104" stop-color="#c8e99e"/><stop offset="0.113" stop-color="#bce4a1"/><stop offset="0.122" stop-color="#b4e1a2"/><stop offset="0.130" stop-color="#addea4"/><stop offset="0.139" stop-color="#a4daa4"/><stop offset="0.167" stop-color="#93d4a4"/><stop offset="0.235" stop-color="#83cda5"/><stop offset="0.303" stop-color="#72c7a5"/><stop offset="0.370" stop-color="#5fbaa8"/><stop offset="0.438" stop-color="#4ca5b1"/><stop offset="0.506" stop-color="#3c93b9"/><stop offset="0.576" stop-color="#3585bb"/><stop offset="0.643" stop-color="#3d79b6"/><stop offset="0.711" stop-color="#486cb0"/><stop offset="0.779" stop-color="#5160aa"/><stop offset="0.847" stop-color="#5758a6"/><stop offset="0.915" stop-color="#5758a6"/><stop offset="1.000" stop-color="#4f62ab"/></linearGradient><linearGradient id="a32" x1="0" y1="0" x2="0" y2="1"><stop offset="0.000" stop-color="#b61b48"/><stop offset="0.010" stop-color="#bf264a"/><stop offset="0.017" stop-color="#c52d4b"/><stop offset="0.024" stop-color="#d53e4f"/><stop offset="0.031" stop-color="#e1504b"/><stop offset="0.038" stop-color="#ee6445"/><stop offset="0.045" stop-color="#f8884f"/><stop offset="0.052" stop-color="#fdae61"/><stop offset="0.059" stop-color="#fec877"/><stop offset="0.066" stop-color="#fee18d"/><stop offset="0.073" stop-color="#fff1a7"/><stop offset="0.080" stop-color="#fefebd"/><stop offset="0.087" stop-color="#f1f9a9"/><stop offset="0.096" stop-color="#d3ed9c"/><stop offset="0.104" stop-color="#c5e89f"/><stop offset="0.113" stop-color="#b8e2a1"/><stop offset="0.122" stop-color="#b1dfa3"/><stop offset="0.130" stop-color="#a9dca4"/><stop offset="0.139" stop-color="#a0d9a4"/><stop offset="0.167" stop-color="#90d2a4"/><stop offset="0.235" stop-color="#7fcca5"/><stop offset="0.303" stop-color="#6fc5a5"/><stop offset="0.370" stop-color="#5cb7aa"/><stop offset="0.438" stop-color="#49a2b2"/><stop offset="0.506" stop-color="#3990ba"/><stop offset="0.576" stop-color="#3781ba"/><stop offset="0.643" stop-color="#4076b5"/><stop offset="0.711" stop-color="#4a68ae"/><stop offset="0.779" stop-color="#535da9"/><stop offset="0.847" stop-color="#5955a5"/><stop offset="0.915" stop-color="#5955a5"/><stop offset="1.000" stop-color="#515faa"/></linearGradient><linearGradient id="a33" x1="0" y1="0" x2="0" y2="1"><stop offset="0.000" stop-color="#b31947"/><stop offset="0.010" stop-color="#bd2349"/><stop offset="0.017" stop-color="#c32a4b"/><stop offset="0.024" stop-color="#d33c4f"/><stop offset="0.031" stop-color="#e04e4b"/><stop offset="0.038" stop-color="#ee6345"/><stop offset="0.045" stop-color="#f8864f"/><stop offset="0.052" stop-color="#fdad61"/><stop offset="0.059" stop-color="#fdc776"/><stop offset="0.066" stop-color="#fee08b"/><stop offset="0.073" stop-color="#fff0a6"/><stop offset="0.080" stop-color="#feffbe"/><stop offset="0.087" stop-color="#f1faaa"/><stop offset="0.096" stop-color="#d5ee9b"/><stop offset="0.104" stop-color="#c8e99e"/><stop offset="0.113" stop-color="#bbe4a1"/><stop offset="0.122" stop-color="#b3e0a2"/><stop offset="0.130" stop-color="#acdda4"/><stop offset="0.139" stop-color="#a3daa4"/><stop offset="0.167" stop-color="#93d3a4"/><stop offset="0.235" stop-color="#82cda5"/><stop offset="0.303" stop-color="#72c7a5"/><stop offset="0.370" stop-color="#5eb9a9"/><stop offset="0.438" stop-color="#4ca4b1"/><stop offset="0.506" stop-color="#3b92b9"/><stop offset="0.576" stop-color="#3584bb"/><stop offset="0.643" stop-color="#3e79b6"/><stop offset="0.711" stop-color="#486baf"/><stop offset="0.779" stop-color="#5160aa"/><stop offset="0.847" stop-color="#5758a6"/><stop offset="0.915" stop-color="#5758a6"/><stop offset="1.000" stop-color="#4f62ab"/></linearGradient><linearGradient id="a34" x1="0" y1="0" x2="0" y2="1"><stop offset="0.000" stop-color="#b61c48"/><stop offset="0.010" stop-color="#c0274a"/><stop offset="0.017" stop-color="#c62e4b"/><stop offset="0.024" stop-color="#d6404f"/><stop offset="0.031" stop-color="#e2514a"/><stop offset="0.038" stop-color="#f06745"/><stop offset="0.045" stop-color="#f88b51"/><stop offset="0.052" stop-color="#fdb163"/><stop offset="0.059" stop-color="#feca79"/><stop offset="0.066" stop-color="#fee28f"/><stop offset="0.073" stop-color="#fff2aa"/><stop offset="0.080" stop-color="#fcfebb"/><stop offset="0.087" stop-color="#f0f9a7"/><stop offset="0.096" stop-color="#d2ed9c"/><stop offset="0.104" stop-color="#c5e79f"/><stop offset="0.113" stop-color="#b8e2a1"/><stop offset="0.122" stop-color="#b0dfa3"/><stop offset="0.130" stop-color="#a9dca4"/><stop offset="0.139" stop-color="#a0d9a4"/><stop offset="0.167" stop-color="#8fd2a4"/><stop offset="0.235" stop-color="#7fcca5"/><stop offset="0.303" stop-color="#6ec5a5"/><stop offset="0.370" stop-color="#5bb6aa"/><stop offset="0.438" stop-color="#49a1b3"/><stop offset="0.506" stop-color="#388fba"/><stop offset="0.576" stop-color="#3781ba"/><stop offset="0.643" stop-color="#4076b4"/><stop offset="0.711" stop-color="#4b68ae"/><stop offset="0.779" stop-color="#535da8"/><stop offset="0.847" stop-color="#5a55a5"/><stop offset="0.915" stop-color="#5a55a5"/><stop offset="1.000" stop-color="#525faa"/></linearGradient><linearGradient id="a35" x1="0" y1="0" x2="0" y2="1"><stop offset="0.000" stop-color="#b51a47"/><stop offset="0.010" stop-color="#be254a"/><stop offset="0.017" stop-color="#c52c4b"/><stop offset="0.024" stop-color="#d63f4f"/><stop offset="0.031" stop-color="#e1514a"/><stop offset="0.038" stop-color="#f06745"/><stop offset="0.045" stop-color="#f88b51"/><stop offset="0.052" stop-color="#fdb063"/><stop offset="0.059" stop-color="#feca79"/><stop offset="0.066" stop-color="#fee28f"/><stop offset="0.073" stop-color="#fff2a9"/><stop offset="0.080" stop-color="#fdfebb"/><stop offset="0.087" stop-color="#f0f9a7"/><stop offset="0.096" stop-color="#d4ee9c"/><stop offset="0.104" stop-color="#c6e89e"/><stop offset="0.113" stop-color="#bae3a1"/><stop offset="0.122" stop-color="#b2e0a3"/><stop offset="0.130" stop-color="#aadda4"/><stop offset="0.139" stop-color="#a2d9a4"/><stop offset="0.167" stop-color="#91d3a4"/><stop offset="0.235" stop-color="#81cca5"/><stop offset="0.303" stop-color="#70c6a5"/><stop offset="0.370" stop-color="#5db8a9"/><stop offset="0.438" stop-color="#4aa3b2"/><stop offset="0.506" stop-color="#3990ba"/><stop offset="0.576" stop-color="#3682ba"/><stop offset="0.643" stop-color="#3f77b5"/><stop offset="0.711" stop-color="#496aaf"/><stop offset="0.779" stop-color="#525ea9"/><stop offset="0.847" stop-color="#5856a5"/><stop offset="0.915" stop-color="#5856a5"/><stop offset="1.000" stop-color="#5160aa"/></linearGradient><linearGradient id="a36" x1="0" y1="0" x2="0" y2="1"><stop offset="0.000" stop-color="#b51b48"/><stop offset="0.010" stop-color="#bf264a"/><stop offset="0.017" stop-color="#c62d4b"/><stop offset="0.024" stop-color="#d6404e"/><stop offset="0.031" stop-color="#e2524a"/><stop offset="0.038" stop-color="#f16844"/><stop offset="0.045" stop-color="#f88d52"/><stop offset="0.052" stop-color="#fdb264"/><stop offset="0.059" stop-color="#fecc7a"/><stop offset="0.066" stop-color="#fee390"/><stop offset="0.073" stop-color="#fff3ab"/><stop offset="0.080" stop-color="#fcfeba"/><stop offset="0.087" stop-color="#eff9a6"/><stop offset="0.096" stop-color="#d3ed9c"/><stop offset="0.104" stop-color="#c6e89f"/><stop offset="0.113" stop-color="#b9e3a1"/><stop offset="0.122" stop-color="#b1e0a3"/><stop offset="0.130" stop-color="#aadca4"/><stop offset="0.139" stop-color="#a1d9a4"/><stop offset="0.167" stop-color="#90d3a4"/><stop offset="0.235" stop-color="#80cca5"/><stop offset="0.303" stop-color="#6fc6a5"/><stop offset="0.370" stop-color="#5cb7aa"/><stop offset="0.438" stop-color="#49a1b3"/><stop offset="0.506" stop-color="#388fba"/><stop offset="0.576" stop-color="#3782ba"/><stop offset="0.643" stop-color="#3f77b5"/><stop offset="0.711" stop-color="#4a69ae"/><stop offset="0.779" stop-color="#535ea9"/><stop offset="0.847" stop-color="#5956a5"/><stop offset="0.915" stop-color="#5956a5"/><stop offset="1.000" stop-color="#5160aa"/></linearGradient><linearGradient id="a37" x1="0" y1="0" x2="0" y2="1"><stop offset="0.000" stop-color="#b21847"/><stop offset="0.010" stop-color="#bc2349"/><stop offset="0.017" stop-color="#c32a4b"/><stop offset="0.024" stop-color="#d53e4f"/><stop offset="0.031" stop-color="#e1504a"/><stop offset="0.038" stop-color="#f06745"/><stop offset="0.045" stop-color="#f88b51"/><stop offset="0.052" stop-color="#fdb063"/><stop offset="0.059" stop-color="#feca78"/><stop offset="0.066" stop-color="#fee28f"/><stop offset="0.073" stop-color="#fff2a9"/><stop offset="0.080" stop-color="#fdfebb"/><stop offset="0.087" stop-color="#f0f9a8"/><stop offset="0.096" stop-color="#d6ef9b"/><stop offset="0.104" stop-color="#c9e99e"/><stop offset="0.113" stop-color="#bce4a1"/><stop offset="0.122" stop-color="#b5e1a2"/><stop offset="0.130" stop-color="#addea4"/><stop offset="0.139" stop-color="#a5dba4"/><stop offset="0.167" stop-color="#94d4a4"/><stop offset="0.235" stop-color="#83cea5"/><stop offset="0.303" stop-color="#73c7a5"/><stop offset="0.370" stop-color="#5ebaa8"/><stop offset="0.438" stop-color="#4ba3b2"/><stop offset="0.506" stop-color="#3a91b9"/><stop offset="0.576" stop-color="#3584bb"/><stop offset="0.643" stop-color="#3d7ab6"/><stop offset="0.711" stop-color="#486cb0"/><stop offset="0.779" stop-color="#5061aa"/><stop offset="0.847" stop-color="#5759a7"/><stop offset="0.915" stop-color="#5759a7"/><stop offset="1.000" stop-color="#4f63ab"/></linearGradient><linearGradient id="a38" x1="0" y1="0" x2="0" y2="1"><stop offset="0.000" stop-color="#b21747"/><stop offset="0.010" stop-color="#bc2249"/><stop offset="0.017" stop-color="#c32a4b"/><stop offset="0.024" stop-color="#d63f4f"/><stop offset="0.031" stop-color="#e1504a"/><stop offset="0.038" stop-color="#f06844"/><stop offset="0.045" stop-color="#f88c51"/><stop offset="0.052" stop-color="#fdb164"/><stop offset="0.059" stop-color="#fecb79"/><stop offset="0.066" stop-color="#fee38f"/><stop offset="0.073" stop-color="#fff2aa"/><stop offset="0.080" stop-color="#fcfebb"/><stop offset="0.087" stop-color="#f0f9a7"/><stop offset="0.096" stop-color="#d7ef9b"/><stop offset="0.104" stop-color="#c9e99e"/><stop offset="0.113" stop-color="#bce4a0"/><stop offset="0.122" stop-color="#b5e1a2"/><stop offset="0.130" stop-color="#addea4"/><stop offset="0.139" stop-color="#a5dba4"/><stop offset="0.167" stop-color="#94d4a4"/><stop offset="0.235" stop-color="#84cea5"/><stop offset="0.303" stop-color="#73c7a5"/><stop offset="0.370" stop-color="#5eb9a9"/><stop offset="0.438" stop-color="#4aa2b2"/><stop offset="0.506" stop-color="#3990ba"/><stop offset="0.576" stop-color="#3584bb"/><stop offset="0.643" stop-color="#3d7ab6"/><stop offset="0.711" stop-color="#476cb0"/><stop offset="0.779" stop-color="#5061ab"/><stop offset="0.847" stop-color="#5659a7"/><stop offset="0.915" stop-color="#5659a7"/><stop offset="1.000" stop-color="#4e63ac"/></linearGradient><linearGradient id="a39" x1="0" y1="0" x2="0" y2="1"><stop offset="0.000" stop-color="#b41a47"/><stop offset="0.010" stop-color="#bf254a"/><stop offset="0.017" stop-color="#c52d4b"/><stop offset="0.024" stop-color="#d7424e"/><stop offset="0.031" stop-color="#e3534a"/><stop offset="0.038" stop-color="#f26b44"/><stop offset="0.045" stop-color="#f99153"/><stop offset="0.052" stop-color="#fdb466"/><stop offset="0.059" stop-color="#fece7c"/><stop offset="0.066" stop-color="#fee493"/><stop offset="0.073" stop-color="#fff4ad"/><stop offset="0.080" stop-color="#fbfdb9"/><stop offset="0.087" stop-color="#eef8a5"/><stop offset="0.096" stop-color="#d4ee9c"/><stop offset="0.104" stop-color="#c7e89e"/><stop offset="0.113" stop-color="#bae3a1"/><stop offset="0.122" stop-color="#b2e0a2"/><stop offset="0.130" stop-color="#abdda4"/><stop offset="0.139" stop-color="#a2daa4"/><stop offset="0.167" stop-color="#92d3a4"/><stop offset="0.235" stop-color="#81cda5"/><stop offset="0.303" stop-color="#70c6a5"/><stop offset="0.370" stop-color="#5bb6aa"/><stop offset="0.438" stop-color="#469eb4"/><stop offset="0.506" stop-color="#368cbb"/><stop offset="0.576" stop-color="#3781ba"/><stop offset="0.643" stop-color="#3f77b5"/><stop offset="0.711" stop-color="#496aaf"/><stop offset="0.779" stop-color="#525fa9"/><stop offset="0.847" stop-color="#5857a6"/><stop offset="0.915" stop-color="#5857a6"/><stop offset="1.000" stop-color="#5061aa"/></linearGradient><linearGradient id="a40" x1="0" y1="0" x2="0" y2="1"><stop offset="0.000" stop-color="#b31847"/><stop offset="0.010" stop-color="#be2449"/><stop offset="0.017" stop-color="#c42c4b"/><stop offset="0.024" stop-color="#d7414e"/><stop offset="0.031" stop-color="#e3534a"/><stop offset="0.038" stop-color="#f36b44"/><stop offset="0.045" stop-color="#f99153"/><stop offset="0.052" stop-color="#fdb466"/><stop offset="0.059" stop-color="#fece7b"/><stop offset="0.066" stop-color="#fee492"/><stop offset="0.073" stop-color="#fff4ad"/><stop offset="0.080" stop-color="#fbfdb9"/><stop offset="0.087" stop-color="#eef8a5"/><stop offset="0.096" stop-color="#d6ee9b"/><stop offset="0.104" stop-color="#c8e99e"/><stop offset="0.113" stop-color="#bbe4a1"/><stop offset="0.122" stop-color="#b4e1a2"/><stop offset="0.130" stop-color="#acdea4"/><stop offset="0.139" stop-color="#a4daa4"/><stop offset="0.167" stop-color="#93d4a4"/><stop offset="0.235" stop-color="#83cda5"/><stop offset="0.303" stop-color="#72c7a5"/><stop offset="0.370" stop-color="#5cb7aa"/><stop offset="0.438" stop-color="#459db4"/><stop offset="0.506" stop-color="#358cbc"/><stop offset="0.576" stop-color="#3782ba"/><stop offset="0.643" stop-color="#3e79b6"/><stop offset="0.711" stop-color="#486baf"/><stop offset="0.779" stop-color="#5160aa"/><stop offset="0.847" stop-color="#5758a6"/><stop offset="0.915" stop-color="#5758a6"/><stop offset="1.000" stop-color="#4f62ab"/></linearGradient><linearGradient id="a41" x1="0" y1="0" x2="0" y2="1"><stop offset="0.000" stop-color="#b41a47"/><stop offset="0.010" stop-color="#bf254a"/><stop offset="0.017" stop-color="#c62d4b"/><stop offset="0.024" stop-color="#d8434e"/><stop offset="0.031" stop-color="#e45449"/><stop offset="0.038" stop-color="#f46d43"/><stop offset="0.045" stop-color="#f99355"/><stop offset="0.052" stop-color="#fdb668"/><stop offset="0.059" stop-color="#fed07d"/><stop offset="0.066" stop-color="#fee694"/><stop offset="0.073" stop-color="#fff5af"/><stop offset="0.080" stop-color="#fafdb7"/><stop offset="0.087" stop-color="#edf8a3"/><stop offset="0.096" stop-color="#d4ee9c"/><stop offset="0.104" stop-color="#c7e89e"/><stop offset="0.113" stop-color="#bae3a1"/><stop offset="0.122" stop-color="#b3e0a2"/><stop offset="0.130" stop-color="#abdda4"/><stop offset="0.139" stop-color="#a2daa4"/><stop offset="0.167" stop-color="#92d3a4"/><stop offset="0.235" stop-color="#81cda5"/><stop offset="0.303" stop-color="#70c6a5"/><stop offset="0.370" stop-color="#5ab5ab"/><stop offset="0.438" stop-color="#429ab6"/><stop offset="0.506" stop-color="#3288bd"/><stop offset="0.576" stop-color="#3880b9"/><stop offset="0.643" stop-color="#3f77b5"/><stop offset="0.711" stop-color="#496aaf"/><stop offset="0.779" stop-color="#525fa9"/><stop offset="0.847" stop-color="#5857a6"/><stop offset="0.915" stop-color="#5857a6"/><stop offset="1.000" stop-color="#5061ab"/></linearGradient><linearGradient id="a42" x1="0" y1="0" x2="0" y2="1"><stop offset="0.000" stop-color="#b31947"/><stop offset="0.010" stop-color="#be254a"/><stop offset="0.017" stop-color="#c62d4b"/><stop offset="0.024" stop-color="#d8434e"/><stop offset="0.031" stop-color="#e45449"/><stop offset="0.038" stop-color="#f46d43"/><stop offset="0.045" stop-color="#f99455"/><stop offset="0.052" stop-color="#fdb668"/><stop offset="0.059" stop-color="#fed07d"/><stop offset="0.066" stop-color="#fee695"/><stop offset="0.073" stop-color="#fff6af"/><stop offset="0.080" stop-color="#fafdb7"/><stop offset="0.087" stop-color="#edf8a3"/><stop offset="0.096" stop-color="#d5ee9b"/><stop offset="0.104" stop-color="#c8e99e"/><stop offset="0.113" stop-color="#bbe4a1"/><stop offset="0.122" stop-color="#b4e0a2"/><stop offset="0.130" stop-color="#acdda4"/><stop offset="0.139" stop-color="#a3daa4"/><stop offset="0.167" stop-color="#93d4a4"/><stop offset="0.235" stop-color="#82cda5"/><stop offset="0.303" stop-color="#71c6a5"/><stop offset="0.370" stop-color="#5ab5ab"/><stop offset="0.438" stop-color="#4199b6"/><stop offset="0.506" stop-color="#3288bd"/><stop offset="0.576" stop-color="#3881ba"/><stop offset="0.643" stop-color="#3e78b6"/><stop offset="0.711" stop-color="#486baf"/><stop offset="0.779" stop-color="#5160aa"/><stop offset="0.847" stop-color="#5758a6"/><stop offset="0.915" stop-color="#5758a6"/><stop offset="1.000" stop-color="#4f62ab"/></linearGradient><linearGradient id="a43" x1="0" y1="0" x2="0" y2="1"><stop offset="0.000" stop-color="#b51a47"/><stop offset="0.010" stop-color="#c0264a"/><stop offset="0.017" stop-color="#c8304c"/><stop offset="0.024" stop-color="#d9454d"/><stop offset="0.031" stop-color="#e55649"/><stop offset="0.038" stop-color="#f47145"/><stop offset="0.045" stop-color="#fa9756"/><stop offset="0.052" stop-color="#fdb96a"/><stop offset="0.059" stop-color="#fed27f"/><stop offset="0.066" stop-color="#fee797"/><stop offset="0.073" stop-color="#fff7b2"/><stop offset="0.080" stop-color="#f9fcb5"/><stop offset="0.087" stop-color="#ecf7a1"/><stop offset="0.096" stop-color="#d4ee9c"/><stop offset="0.104" stop-color="#c6e89e"/><stop offset="0.113" stop-color="#b9e3a1"/><stop offset="0.122" stop-color="#b2e0a3"/><stop offset="0.130" stop-color="#aadda4"/><stop offset="0.139" stop-color="#a2d9a4"/><stop offset="0.167" stop-color="#91d3a4"/><stop offset="0.235" stop-color="#80cca5"/><stop offset="0.303" stop-color="#6fc5a5"/><stop offset="0.370" stop-color="#58b3ab"/><stop offset="0.438" stop-color="#3f96b7"/><stop offset="0.506" stop-color="#3485bc"/><stop offset="0.576" stop-color="#397fb9"/><stop offset="0.643" stop-color="#3f77b5"/><stop offset="0.711" stop-color="#4a69af"/><stop offset="0.779" stop-color="#525ea9"/><stop offset="0.847" stop-color="#5856a5"/><stop offset="0.915" stop-color="#5956a5"/><stop offset="1.000" stop-color="#5160aa"/></linearGradient><linearGradient id="a44" x1="0" y1="0" x2="0" y2="1"><stop offset="0.000" stop-color="#b61b48"/><stop offset="0.010" stop-color="#c1284a"/><stop offset="0.017" stop-color="#ca324c"/><stop offset="0.024" stop-color="#da464d"/><stop offset="0.031" stop-color="#e65848"/><stop offset="0.038" stop-color="#f57346"/><stop offset="0.045" stop-color="#fa9a58"/><stop offset="0.052" stop-color="#fdbb6c"/><stop offset="0.059" stop-color="#fed481"/><stop offset="0.066" stop-color="#fee899"/><stop offset="0.073" stop-color="#fff8b4"/><stop offset="0.080" stop-color="#f8fcb4"/><stop offset="0.087" stop-color="#ebf7a0"/><stop offset="0.096" stop-color="#d3ed9c"/><stop offset="0.104" stop-color="#c5e89f"/><stop offset="0.113" stop-color="#b8e2a1"/><stop offset="0.122" stop-color="#b1dfa3"/><stop offset="0.130" stop-color="#a9dca4"/><stop offset="0.139" stop-color="#a0d9a4"/><stop offset="0.167" stop-color="#90d2a4"/><stop offset="0.235" stop-color="#7fcca5"/><stop offset="0.303" stop-color="#6dc5a5"/><stop offset="0.370" stop-color="#57b1ac"/><stop offset="0.438" stop-color="#3e95b8"/><stop offset="0.506" stop-color="#3584bb"/><stop offset="0.576" stop-color="#3a7eb8"/><stop offset="0.643" stop-color="#4076b4"/><stop offset="0.711" stop-color="#4a68ae"/><stop offset="0.779" stop-color="#535da9"/><stop offset="0.847" stop-color="#5955a5"/><stop offset="0.915" stop-color="#5955a5"/><stop offset="1.000" stop-color="#515faa"/></linearGradient><linearGradient id="a45" x1="0" y1="0" x2="0" y2="1"><stop offset="0.000" stop-color="#b61c48"/><stop offset="0.010" stop-color="#c1284a"/><stop offset="0.017" stop-color="#cb334d"/><stop offset="0.024" stop-color="#db474d"/><stop offset="0.031" stop-color="#e75948"/><stop offset="0.038" stop-color="#f57647"/><stop offset="0.045" stop-color="#fb9c59"/><stop offset="0.052" stop-color="#fdbc6d"/><stop offset="0.059" stop-color="#fed682"/><stop offset="0.066" stop-color="#fee99b"/><stop offset="0.073" stop-color="#fff9b5"/><stop offset="0.080" stop-color="#f7fcb2"/><stop offset="0.087" stop-color="#e0f399"/><stop offset="0.096" stop-color="#d2ed9c"/><stop offset="0.104" stop-color="#c5e89f"/><stop offset="0.113" stop-color="#b8e2a1"/><stop offset="0.122" stop-color="#b1dfa3"/><stop offset="0.130" stop-color="#a9dca4"/><stop offset="0.139" stop-color="#a0d9a4"/><stop offset="0.167" stop-color="#8fd2a4"/><stop offset="0.235" stop-color="#7fcca5"/><stop offset="0.303" stop-color="#6cc4a5"/><stop offset="0.370" stop-color="#57b1ac"/><stop offset="0.438" stop-color="#3e96b7"/><stop offset="0.506" stop-color="#3585bb"/><stop offset="0.576" stop-color="#3a7eb8"/><stop offset="0.643" stop-color="#4076b4"/><stop offset="0.711" stop-color="#4a68ae"/><stop offset="0.779" stop-color="#535da9"/><stop offset="0.847" stop-color="#5955a5"/><stop offset="0.915" stop-color="#5955a5"/><stop offset="1.000" stop-color="#525faa"/></linearGradient><linearGradient id="a46" x1="0" y1="0" x2="0" y2="1"><stop offset="0.000" stop-color="#b41947"/><stop offset="0.010" stop-color="#bf264a"/><stop offset="0.017" stop-color="#cb334d"/><stop offset="0.024" stop-color="#db474d"/><stop offset="0.031" stop-color="#e65848"/><stop offset="0.038" stop-color="#f57647"/><stop offset="0.045" stop-color="#fb9d59"/><stop offset="0.052" stop-color="#fdbc6d"/><stop offset="0.059" stop-color="#fed682"/><stop offset="0.066" stop-color="#fee99b"/><stop offset="0.073" stop-color="#fff9b5"/><stop offset="0.080" stop-color="#f7fcb2"/><stop offset="0.087" stop-color="#e3f499"/><stop offset="0.096" stop-color="#d5ee9b"/><stop offset="0.104" stop-color="#c7e99e"/><stop offset="0.113" stop-color="#bbe3a1"/><stop offset="0.122" stop-color="#b3e0a2"/><stop offset="0.130" stop-color="#acdda4"/><stop offset="0.139" stop-color="#a3daa4"/><stop offset="0.167" stop-color="#92d3a4"/><stop offset="0.235" stop-color="#81cda5"/><stop offset="0.303" stop-color="#6fc5a5"/><stop offset="0.370" stop-color="#59b4ab"/><stop offset="0.438" stop-color="#429ab6"/><stop offset="0.506" stop-color="#3389bd"/><stop offset="0.576" stop-color="#3881ba"/><stop offset="0.643" stop-color="#3e78b5"/><stop offset="0.711" stop-color="#496baf"/><stop offset="0.779" stop-color="#515faa"/><stop offset="0.847" stop-color="#5757a6"/><stop offset="0.915" stop-color="#5857a6"/><stop offset="1.000" stop-color="#5062ab"/></linearGradient><linearGradient id="a47" x1="0" y1="0" x2="0" y2="1"><stop offset="0.000" stop-color="#b21747"/><stop offset="0.010" stop-color="#be244a"/><stop offset="0.017" stop-color="#cb324d"/><stop offset="0.024" stop-color="#db474d"/><stop offset="0.031" stop-color="#e65848"/><stop offset="0.038" stop-color="#f57748"/><stop offset="0.045" stop-color="#fb9e5a"/><stop offset="0.052" stop-color="#fdbd6d"/><stop offset="0.059" stop-color="#fed683"/><stop offset="0.066" stop-color="#feea9b"/><stop offset="0.073" stop-color="#fffab6"/><stop offset="0.080" stop-color="#f7fcb2"/><stop offset="0.087" stop-color="#e5f598"/><stop offset="0.096" stop-color="#d7ef9b"/><stop offset="0.104" stop-color="#cae99e"/><stop offset="0.113" stop-color="#bde4a0"/><stop offset="0.122" stop-color="#b5e1a2"/><stop offset="0.130" stop-color="#aedea3"/><stop offset="0.139" stop-color="#a6dba4"/><stop offset="0.167" stop-color="#95d4a4"/><stop offset="0.235" stop-color="#84cea5"/><stop offset="0.303" stop-color="#70c6a5"/><stop offset="0.370" stop-color="#5bb6aa"/><stop offset="0.438" stop-color="#469eb4"/><stop offset="0.506" stop-color="#368dbb"/><stop offset="0.576" stop-color="#3584bb"/><stop offset="0.643" stop-color="#3d7ab6"/><stop offset="0.711" stop-color="#476db0"/><stop offset="0.779" stop-color="#5062ab"/><stop offset="0.847" stop-color="#565aa7"/><stop offset="0.915" stop-color="#565aa7"/><stop offset="1.000" stop-color="#4e64ac"/></linearGradient><linearGradient id="a48" x1="0" y1="0" x2="0" y2="1"><stop offset="0.000" stop-color="#b41947"/><stop offset="0.010" stop-color="#c1274a"/><stop offset="0.017" stop-color="#cf374d"/><stop offset="0.024" stop-color="#dd4a4c"/><stop offset="0.031" stop-color="#e95d47"/><stop offset="0.038" stop-color="#f67d4a"/><stop offset="0.045" stop-color="#fca45c"/><stop offset="0.052" stop-color="#fdc171"/><stop offset="0.059" stop-color="#feda86"/><stop offset="0.066" stop-color="#feeca0"/><stop offset="0.073" stop-color="#fffcba"/><stop offset="0.080" stop-color="#f5fbaf"/><stop offset="0.087" stop-color="#e2f499"/><stop offset="0.096" stop-color="#d5ee9b"/><stop offset="0.104" stop-color="#c7e99e"/><stop offset="0.113" stop-color="#bbe3a1"/><stop offset="0.122" stop-color="#b3e0a2"/><stop offset="0.130" stop-color="#acdda4"/><stop offset="0.139" stop-color="#a3daa4"/><stop offset="0.167" stop-color="#92d3a4"/><stop offset="0.235" stop-color="#80cca5"/><stop offset="0.303" stop-color="#6cc4a5"/><stop offset="0.370" stop-color="#59b3ab"/><stop offset="0.438" stop-color="#459eb4"/><stop offset="0.506" stop-color="#368cbb"/><stop offset="0.576" stop-color="#3782ba"/><stop offset="0.643" stop-color="#3e78b5"/><stop offset="0.711" stop-color="#496baf"/><stop offset="0.779" stop-color="#515faa"/><stop offset="0.847" stop-color="#5857a6"/><stop offset="0.915" stop-color="#5857a6"/><stop offset="1.000" stop-color="#5062ab"/></linearGradient><linearGradient id="a49" x1="0" y1="0" x2="0" y2="1"><stop offset="0.000" stop-color="#b51a47"/><stop offset="0.010" stop-color="#c2294b"/><stop offset="0.017" stop-color="#d13a4e"/><stop offset="0.024" stop-color="#de4c4b"/><stop offset="0.031" stop-color="#eb6046"/><stop offset="0.038" stop-color="#f7824d"/><stop offset="0.045" stop-color="#fca85e"/><stop offset="0.052" stop-color="#fdc473"/><stop offset="0.059" stop-color="#fedd89"/><stop offset="0.066" stop-color="#feeea3"/><stop offset="0.073" stop-color="#fffebd"/><stop offset="0.080" stop-color="#f3faac"/><stop offset="0.087" stop-color="#e2f399"/><stop offset="0.096" stop-color="#d4ee9c"/><stop offset="0.104" stop-color="#c6e89e"/><stop offset="0.113" stop-color="#bae3a1"/><stop offset="0.122" stop-color="#b2e0a3"/><stop offset="0.130" stop-color="#abdda4"/><stop offset="0.139" stop-color="#a2d9a4"/><stop offset="0.167" stop-color="#91d3a4"/><stop offset="0.235" stop-color="#7fcca5"/><stop offset="0.303" stop-color="#69c3a5"/><stop offset="0.370" stop-color="#57b2ac"/><stop offset="0.438" stop-color="#469eb4"/><stop offset="0.506" stop-color="#378dbb"/><stop offset="0.576" stop-color="#3782ba"/><stop offset="0.643" stop-color="#3f77b5"/><stop offset="0.711" stop-color="#496aaf"/><stop offset="0.779" stop-color="#525ea9"/><stop offset="0.847" stop-color="#5856a6"/><stop offset="0.915" stop-color="#5856a5"/><stop offset="1.000" stop-color="#5061aa"/></linearGradient><linearGradient id="a50" x1="0" y1="0" x2="0" y2="1"><stop offset="0.000" stop-color="#b21747"/><stop offset="0.010" stop-color="#bf264a"/><stop offset="0.017" stop-color="#cf374e"/><stop offset="0.024" stop-color="#dd4a4c"/><stop offset="0.031" stop-color="#ea5e47"/><stop offset="0.038" stop-color="#f77f4b"/><stop offset="0.045" stop-color="#fca65d"/><stop offset="0.052" stop-color="#fdc272"/><stop offset="0.059" stop-color="#fedc87"/><stop offset="0.066" stop-color="#feeda1"/><stop offset="0.073" stop-color="#fffdbb"/><stop offset="0.080" stop-color="#f4fbae"/><stop offset="0.087" stop-color="#e4f498"/><stop offset="0.096" stop-color="#d7ef9b"/><stop offset="0.104" stop-color="#c9e99e"/><stop offset="0.113" stop-color="#bde4a0"/><stop offset="0.122" stop-color="#b5e1a2"/><stop offset="0.130" stop-color="#aedea3"/><stop offset="0.139" stop-color="#a5dba4"/><stop offset="0.167" stop-color="#94d4a4"/><stop offset="0.235" stop-color="#82cda5"/><stop offset="0.303" stop-color="#6bc4a5"/><stop offset="0.370" stop-color="#59b4ab"/><stop offset="0.438" stop-color="#4aa2b2"/><stop offset="0.506" stop-color="#3a91b9"/><stop offset="0.576" stop-color="#3485bb"/><stop offset="0.643" stop-color="#3d7ab6"/><stop offset="0.711" stop-color="#476db0"/><stop offset="0.779" stop-color="#5061ab"/><stop offset="0.847" stop-color="#5659a7"/><stop offset="0.915" stop-color="#5659a7"/><stop offset="1.000" stop-color="#4e63ac"/></linearGradient><linearGradient id="a51" x1="0" y1="0" x2="0" y2="1"><stop offset="0.000" stop-color="#b41947"/><stop offset="0.010" stop-color="#c1284a"/><stop offset="0.017" stop-color="#d13a4e"/><stop offset="0.024" stop-color="#de4c4b"/><stop offset="0.031" stop-color="#ec6046"/><stop offset="0.038" stop-color="#f7824d"/><stop offset="0.045" stop-color="#fca95f"/><stop offset="0.052" stop-color="#fdc474"/><stop offset="0.059" stop-color="#fede89"/><stop offset="0.066" stop-color="#feeea3"/><stop offset="0.073" stop-color="#fffebe"/><stop offset="0.080" stop-color="#f3faac"/><stop offset="0.087" stop-color="#e2f499"/><stop offset="0.096" stop-color="#d5ee9b"/><stop offset="0.104" stop-color="#c7e99e"/><stop offset="0.113" stop-color="#bbe3a1"/><stop offset="0.122" stop-color="#b3e0a2"/><stop offset="0.130" stop-color="#acdda4"/><stop offset="0.139" stop-color="#a3daa4"/><stop offset="0.167" stop-color="#92d3a4"/><stop offset="0.235" stop-color="#7fcca5"/><stop offset="0.303" stop-color="#68c3a5"/><stop offset="0.370" stop-color="#57b2ac"/><stop offset="0.438" stop-color="#49a1b3"/><stop offset="0.506" stop-color="#3a90ba"/><stop offset="0.576" stop-color="#3683bb"/><stop offset="0.643" stop-color="#3e78b6"/><stop offset="0.711" stop-color="#496baf"/><stop offset="0.779" stop-color="#515faa"/><stop offset="0.847" stop-color="#5857a6"/><stop offset="0.915" stop-color="#5857a6"/><stop offset="1.000" stop-color="#5062ab"/></linearGradient><linearGradient id="a52" x1="0" y1="0" x2="0" y2="1"><stop offset="0.000" stop-color="#b41947"/><stop offset="0.010" stop-color="#c2294a"/><stop offset="0.017" stop-color="#d23a4e"/><stop offset="0.024" stop-color="#df4d4b"/><stop offset="0.031" stop-color="#ec6146"/><stop offset="0.038" stop-color="#f7834d"/><stop offset="0.045" stop-color="#fcaa5f"/><stop offset="0.052" stop-color="#fdc574"/><stop offset="0.059" stop-color="#fede8a"/><stop offset="0.066" stop-color="#feefa4"/><stop offset="0.073" stop-color="#ffffbe"/><stop offset="0.080" stop-color="#f3faac"/><stop offset="0.087" stop-color="#e2f399"/><stop offset="0.096" stop-color="#d5ee9c"/><stop offset="0.104" stop-color="#c7e89e"/><stop offset="0.113" stop-color="#bae3a1"/><stop offset="0.122" stop-color="#b3e0a2"/><stop offset="0.130" stop-color="#abdda4"/><stop offset="0.139" stop-color="#a3daa4"/><stop offset="0.167" stop-color="#92d3a4"/><stop offset="0.235" stop-color="#7fcca5"/><stop offset="0.303" stop-color="#67c2a5"/><stop offset="0.370" stop-color="#57b1ac"/><stop offset="0.438" stop-color="#49a2b2"/><stop offset="0.506" stop-color="#3a91b9"/><stop offset="0.576" stop-color="#3683bb"/><stop offset="0.643" stop-color="#3e78b5"/><stop offset="0.711" stop-color="#496aaf"/><stop offset="0.779" stop-color="#525faa"/><stop offset="0.847" stop-color="#5857a6"/><stop offset="0.915" stop-color="#5857a6"/><stop offset="1.000" stop-color="#5061ab"/></linearGradient><linearGradient id="a53" x1="0" y1="0" x2="0" y2="1"><stop offset="0.000" stop-color="#b41947"/><stop offset="0.010" stop-color="#c2294a"/><stop offset="0.017" stop-color="#d23b4e"/><stop offset="0.024" stop-color="#df4d4b"/><stop offset="0.031" stop-color="#ec6146"/><stop offset="0.038" stop-color="#f7844d"/><stop offset="0.045" stop-color="#fcaa5f"/><stop offset="0.052" stop-color="#fdc574"/><stop offset="0.059" stop-color="#fedf8a"/><stop offset="0.066" stop-color="#feefa4"/><stop offset="0.073" stop-color="#ffffbf"/><stop offset="0.080" stop-color="#f2faab"/><stop offset="0.087" stop-color="#e2f499"/><stop offset="0.096" stop-color="#d5ee9b"/><stop offset="0.104" stop-color="#c7e99e"/><stop offset="0.113" stop-color="#bbe3a1"/><stop offset="0.122" stop-color="#b3e0a2"/><stop offset="0.130" stop-color="#acdda4"/><stop offset="0.139" stop-color="#a3daa4"/><stop offset="0.167" stop-color="#92d3a4"/><stop offset="0.235" stop-color="#7fcca5"/><stop offset="0.303" stop-color="#68c3a5"/><stop offset="0.370" stop-color="#58b2ac"/><stop offset="0.438" stop-color="#4aa2b2"/><stop offset="0.506" stop-color="#3a91b9"/><stop offset="0.576" stop-color="#3584bb"/><stop offset="0.643" stop-color="#3e78b6"/><stop offset="0.711" stop-color="#496baf"/><stop offset="0.779" stop-color="#515faa"/><stop offset="0.847" stop-color="#5857a6"/><stop offset="0.915" stop-color="#5857a6"/><stop offset="1.000" stop-color="#5062ab"/></linearGradient><linearGradient id="a54" x1="0" y1="0" x2="0" y2="1"><stop offset="0.000" stop-color="#b41a47"/><stop offset="0.010" stop-color="#c2294b"/><stop offset="0.017" stop-color="#d33c4e"/><stop offset="0.024" stop-color="#df4e4b"/><stop offset="0.031" stop-color="#ed6246"/><stop offset="0.038" stop-color="#f7854e"/><stop offset="0.045" stop-color="#fdac60"/><stop offset="0.052" stop-color="#fdc675"/><stop offset="0.059" stop-color="#fee08b"/><stop offset="0.066" stop-color="#fff0a5"/><stop offset="0.073" stop-color="#ffffbf"/><stop offset="0.080" stop-color="#f2faab"/><stop offset="0.087" stop-color="#e2f399"/><stop offset="0.096" stop-color="#d4ee9c"/><stop offset="0.104" stop-color="#c7e89e"/><stop offset="0.113" stop-color="#bae3a1"/><stop offset="0.122" stop-color="#b3e0a2"/><stop offset="0.130" stop-color="#abdda4"/><stop offset="0.139" stop-color="#a2daa4"/><stop offset="0.167" stop-color="#92d3a4"/><stop offset="0.235" stop-color="#7fcca5"/><stop offset="0.303" stop-color="#68c3a5"/><stop offset="0.370" stop-color="#58b2ab"/><stop offset="0.438" stop-color="#4aa2b2"/><stop offset="0.506" stop-color="#3a91b9"/><stop offset="0.576" stop-color="#3683bb"/><stop offset="0.643" stop-color="#3f78b5"/><stop offset="0.711" stop-color="#496aaf"/><stop offset="0.779" stop-color="#525faa"/><stop offset="0.847" stop-color="#5857a6"/><stop offset="0.915" stop-color="#5857a6"/><stop offset="1.000" stop-color="#5061ab"/></linearGradient><linearGradient id="a55" x1="0" y1="0" x2="0" y2="1"><stop offset="0.000" stop-color="#b41a47"/><stop offset="0.010" stop-color="#c32a4b"/><stop offset="0.017" stop-color="#d33c4f"/><stop offset="0.024" stop-color="#e04e4b"/><stop offset="0.031" stop-color="#ed6346"/><stop offset="0.038" stop-color="#f7864e"/><stop offset="0.045" stop-color="#fdad60"/><stop offset="0.052" stop-color="#fdc776"/><stop offset="0.059" stop-color="#fee08b"/><stop offset="0.066" stop-color="#fff0a6"/><stop offset="0.073" stop-color="#feffbe"/><stop offset="0.080" stop-color="#f2faaa"/><stop offset="0.087" stop-color="#e2f399"/><stop offset="0.096" stop-color="#d4ee9c"/><stop offset="0.104" stop-color="#c7e89e"/><stop offset="0.113" stop-color="#bae3a1"/><stop offset="0.122" stop-color="#b2e0a2"/><stop offset="0.130" stop-color="#abdda4"/><stop offset="0.139" stop-color="#a2daa4"/><stop offset="0.167" stop-color="#91d3a4"/><stop offset="0.235" stop-color="#7fcca5"/><stop offset="0.303" stop-color="#6ac3a5"/><stop offset="0.370" stop-color="#59b3ab"/><stop offset="0.438" stop-color="#4aa2b2"/><stop offset="0.506" stop-color="#3a91b9"/><stop offset="0.576" stop-color="#3683bb"/><stop offset="0.643" stop-color="#3f78b5"/><stop offset="0.711" stop-color="#496aaf"/><stop offset="0.779" stop-color="#525fa9"/><stop offset="0.847" stop-color="#5857a6"/><stop offset="0.915" stop-color="#5857a6"/><stop offset="1.000" stop-color="#5061aa"/></linearGradient><linearGradient id="a56" x1="0" y1="0" x2="0" y2="1"><stop offset="0.000" stop-color="#b61b48"/><stop offset="0.010" stop-color="#c42b4b"/><stop offset="0.017" stop-color="#d53e4f"/><stop offset="0.024" stop-color="#e1504b"/><stop offset="0.031" stop-color="#ee6545"/><stop offset="0.038" stop-color="#f8884f"/><stop offset="0.045" stop-color="#fdaf61"/><stop offset="0.052" stop-color="#fec877"/><stop offset="0.059" stop-color="#fee18d"/><stop offset="0.066" stop-color="#fff1a7"/><stop offset="0.073" stop-color="#fefebd"/><stop offset="0.080" stop-color="#f1f9a9"/><stop offset="0.087" stop-color="#e0f399"/><stop offset="0.096" stop-color="#d3ed9c"/><stop offset="0.104" stop-color="#c5e89f"/><stop offset="0.113" stop-color="#b9e3a1"/><stop offset="0.122" stop-color="#b1dfa3"/><stop offset="0.130" stop-color="#a9dca4"/><stop offset="0.139" stop-color="#a1d9a4"/><stop offset="0.167" stop-color="#90d2a4"/><stop offset="0.235" stop-color="#7ecba5"/><stop offset="0.303" stop-color="#6ac3a5"/><stop offset="0.370" stop-color="#59b3ab"/><stop offset="0.438" stop-color="#49a1b2"/><stop offset="0.506" stop-color="#3990ba"/><stop offset="0.576" stop-color="#3782ba"/><stop offset="0.643" stop-color="#4076b5"/><stop offset="0.711" stop-color="#4a69ae"/><stop offset="0.779" stop-color="#535da9"/><stop offset="0.847" stop-color="#5955a5"/><stop offset="0.915" stop-color="#5955a5"/><stop offset="1.000" stop-color="#5160aa"/></linearGradient><linearGradient id="a57" x1="0" y1="0" x2="0" y2="1"><stop offset="0.000" stop-color="#b31947"/><stop offset="0.010" stop-color="#c2294b"/><stop offset="0.017" stop-color="#d33c4f"/><stop offset="0.024" stop-color="#e04e4b"/><stop offset="0.031" stop-color="#ee6345"/><stop offset="0.038" stop-color="#f7864f"/><stop offset="0.045" stop-color="#fdad61"/><stop offset="0.052" stop-color="#fdc776"/><stop offset="0.059" stop-color="#fee08b"/><stop offset="0.066" stop-color="#fff0a6"/><stop offset="0.073" stop-color="#feffbe"/><stop offset="0.080" stop-color="#f2faaa"/><stop offset="0.087" stop-color="#e3f499"/><stop offset="0.096" stop-color="#d5ee9b"/><stop offset="0.104" stop-color="#c8e99e"/><stop offset="0.113" stop-color="#bbe3a1"/><stop offset="0.122" stop-color="#b3e0a2"/><stop offset="0.130" stop-color="#acdda4"/><stop offset="0.139" stop-color="#a3daa4"/><stop offset="0.167" stop-color="#93d3a4"/><stop offset="0.235" stop-color="#81cda5"/><stop offset="0.303" stop-color="#6ec5a5"/><stop offset="0.370" stop-color="#5cb7aa"/><stop offset="0.438" stop-color="#4ba4b1"/><stop offset="0.506" stop-color="#3b92b9"/><stop offset="0.576" stop-color="#3584bb"/><stop offset="0.643" stop-color="#3e79b6"/><stop offset="0.711" stop-color="#486baf"/><stop offset="0.779" stop-color="#5160aa"/><stop offset="0.847" stop-color="#5758a6"/><stop offset="0.915" stop-color="#5758a6"/><stop offset="1.000" stop-color="#4f62ab"/></linearGradient><linearGradient id="a58" x1="0" y1="0" x2="0" y2="1"><stop offset="0.000" stop-color="#b41a47"/><stop offset="0.010" stop-color="#c32a4b"/><stop offset="0.017" stop-color="#d43d4f"/><stop offset="0.024" stop-color="#e04f4b"/><stop offset="0.031" stop-color="#ee6445"/><stop offset="0.038" stop-color="#f8884f"/><stop offset="0.045" stop-color="#fdae61"/><stop offset="0.052" stop-color="#fec877"/><stop offset="0.059" stop-color="#fee18c"/><stop offset="0.066" stop-color="#fff1a7"/><stop offset="0.073" stop-color="#feffbd"/><stop offset="0.080" stop-color="#f1f9a9"/><stop offset="0.087" stop-color="#e2f399"/><stop offset="0.096" stop-color="#d4ee9c"/><stop offset="0.104" stop-color="#c7e89e"/><stop offset="0.113" stop-color="#bae3a1"/><stop offset="0.122" stop-color="#b3e0a2"/><stop offset="0.130" stop-color="#abdda4"/><stop offset="0.139" stop-color="#a2daa4"/><stop offset="0.167" stop-color="#92d3a4"/><stop offset="0.235" stop-color="#81cca5"/><stop offset="0.303" stop-color="#6fc5a5"/><stop offset="0.370" stop-color="#5cb7aa"/><stop offset="0.438" stop-color="#4ba3b2"/><stop offset="0.506" stop-color="#3a91b9"/><stop offset="0.576" stop-color="#3683bb"/><stop offset="0.643" stop-color="#3e78b5"/><stop offset="0.711" stop-color="#496aaf"/><stop offset="0.779" stop-color="#525faa"/><stop offset="0.847" stop-color="#5857a6"/><stop offset="0.915" stop-color="#5857a6"/><stop offset="1.000" stop-color="#5061ab"/></linearGradient><linearGradient id="a59" x1="0" y1="0" x2="0" y2="1"><stop offset="0.000" stop-color="#b31847"/><stop offset="0.010" stop-color="#c2284a"/><stop offset="0.017" stop-color="#d33c4f"/><stop offset="0.024" stop-color="#e04e4b"/><stop offset="0.031" stop-color="#ee6445"/><stop offset="0.038" stop-color="#f8874f"/><stop offset="0.045" stop-color="#fdad61"/><stop offset="0.052" stop-color="#fec776"/><stop offset="0.059" stop-color="#fee08c"/><stop offset="0.066" stop-color="#fff0a6"/><stop offset="0.073" stop-color="#feffbe"/><stop offset="0.080" stop-color="#f1faaa"/><stop offset="0.087" stop-color="#e4f499"/><stop offset="0.096" stop-color="#d6ee9b"/><stop offset="0.104" stop-color="#c8e99e"/><stop offset="0.113" stop-color="#bce4a1"/><stop offset="0.122" stop-color="#b4e1a2"/><stop offset="0.130" stop-color="#addea4"/><stop offset="0.139" stop-color="#a4daa4"/><stop offset="0.167" stop-color="#94d4a4"/><stop offset="0.235" stop-color="#83cda5"/><stop offset="0.303" stop-color="#71c6a5"/><stop offset="0.370" stop-color="#5eb9a9"/><stop offset="0.438" stop-color="#4ca5b1"/><stop offset="0.506" stop-color="#3c93b9"/><stop offset="0.576" stop-color="#3585bb"/><stop offset="0.643" stop-color="#3d79b6"/><stop offset="0.711" stop-color="#486cb0"/><stop offset="0.779" stop-color="#5160aa"/><stop offset="0.847" stop-color="#5758a6"/><stop offset="0.915" stop-color="#5758a6"/><stop offset="1.000" stop-color="#4f63ab"/></linearGradient><linearGradient id="a60" x1="0" y1="0" x2="0" y2="1"><stop offset="0.000" stop-color="#b41a47"/><stop offset="0.010" stop-color="#c32a4b"/><stop offset="0.017" stop-color="#d53e4f"/><stop offset="0.024" stop-color="#e04f4b"/><stop offset="0.031" stop-color="#ee6545"/><stop offset="0.038" stop-color="#f8884f"/><stop offset="0.045" stop-color="#fdaf61"/><stop offset="0.052" stop-color="#fec877"/><stop offset="0.059" stop-color="#fee18d"/><stop offset="0.066" stop-color="#fff1a7"/><stop offset="0.073" stop-color="#fefebd"/><stop offset="0.080" stop-color="#f1f9a9"/><stop offset="0.087" stop-color="#e2f399"/><stop offset="0.096" stop-color="#d4ee9c"/><stop offset="0.104" stop-color="#c7e89e"/><stop offset="0.113" stop-color="#bae3a1"/><stop offset="0.122" stop-color="#b2e0a2"/><stop offset="0.130" stop-color="#abdda4"/><stop offset="0.139" stop-color="#a2daa4"/><stop offset="0.167" stop-color="#91d3a4"/><stop offset="0.235" stop-color="#81cca5"/><stop offset="0.303" stop-color="#70c6a5"/><stop offset="0.370" stop-color="#5db8a9"/><stop offset="0.438" stop-color="#4ba3b2"/><stop offset="0.506" stop-color="#3a91b9"/><stop offset="0.576" stop-color="#3683bb"/><stop offset="0.643" stop-color="#3f78b5"/><stop offset="0.711" stop-color="#496aaf"/><stop offset="0.779" stop-color="#525fa9"/><stop offset="0.847" stop-color="#5857a6"/><stop offset="0.915" stop-color="#5857a6"/><stop offset="1.000" stop-color="#5061aa"/></linearGradient><linearGradient id="a61" x1="0" y1="0" x2="0" y2="1"><stop offset="0.000" stop-color="#b61c48"/><stop offset="0.010" stop-color="#c42c4b"/><stop offset="0.017" stop-color="#d53e4f"/><stop offset="0.024" stop-color="#e1504a"/><stop offset="0.031" stop-color="#ee6445"/><stop offset="0.038" stop-color="#f8884f"/><stop offset="0.045" stop-color="#fdae61"/><stop offset="0.052" stop-color="#fec877"/><stop offset="0.059" stop-color="#fee18d"/><stop offset="0.066" stop-color="#fff1a7"/><stop offset="0.073" stop-color="#fefebd"/><stop offset="0.080" stop-color="#f1f9a9"/><stop offset="0.087" stop-color="#e0f399"/><stop offset="0.096" stop-color="#d2ed9c"/><stop offset="0.104" stop-color="#c5e79f"/><stop offset="0.113" stop-color="#b8e2a1"/><stop offset="0.122" stop-color="#b1dfa3"/><stop offset="0.130" stop-color="#a9dca4"/><stop offset="0.139" stop-color="#a0d9a4"/><stop offset="0.167" stop-color="#8fd2a4"/><stop offset="0.235" stop-color="#7fcca5"/><stop offset="0.303" stop-color="#6ec5a5"/><stop offset="0.370" stop-color="#5bb6aa"/><stop offset="0.438" stop-color="#49a2b2"/><stop offset="0.506" stop-color="#388fba"/><stop offset="0.576" stop-color="#3781ba"/><stop offset="0.643" stop-color="#4076b4"/><stop offset="0.711" stop-color="#4b68ae"/><stop offset="0.779" stop-color="#535da9"/><stop offset="0.847" stop-color="#5955a5"/><stop offset="0.915" stop-color="#5a55a5"/><stop offset="1.000" stop-color="#525faa"/></linearGradient><linearGradient id="a62" x1="0" y1="0" x2="0" y2="1"><stop offset="0.000" stop-color="#b41a47"/><stop offset="0.010" stop-color="#c2294a"/><stop offset="0.017" stop-color="#d23a4e"/><stop offset="0.024" stop-color="#df4d4b"/><stop offset="0.031" stop-color="#ec6146"/><stop offset="0.038" stop-color="#f7834d"/><stop offset="0.045" stop-color="#fcaa5f"/><stop offset="0.052" stop-color="#fdc574"/><stop offset="0.059" stop-color="#fede8a"/><stop offset="0.066" stop-color="#feefa4"/><stop offset="0.073" stop-color="#ffffbe"/><stop offset="0.080" stop-color="#f3faac"/><stop offset="0.087" stop-color="#e2f399"/><stop offset="0.096" stop-color="#d4ee9c"/><stop offset="0.104" stop-color="#c7e89e"/><stop offset="0.113" stop-color="#bae3a1"/><stop offset="0.122" stop-color="#b3e0a2"/><stop offset="0.130" stop-color="#abdda4"/><stop offset="0.139" stop-color="#a2daa4"/><stop offset="0.167" stop-color="#92d3a4"/><stop offset="0.235" stop-color="#81cda5"/><stop offset="0.303" stop-color="#71c6a5"/><stop offset="0.370" stop-color="#5db9a9"/><stop offset="0.438" stop-color="#4ba4b1"/><stop offset="0.506" stop-color="#3a91b9"/><stop offset="0.576" stop-color="#3683bb"/><stop offset="0.643" stop-color="#3e78b5"/><stop offset="0.711" stop-color="#496aaf"/><stop offset="0.779" stop-color="#525faa"/><stop offset="0.847" stop-color="#5857a6"/><stop offset="0.915" stop-color="#5857a6"/><stop offset="1.000" stop-color="#5061ab"/></linearGradient><linearGradient id="a63" x1="0" y1="0" x2="0" y2="1"><stop offset="0.000" stop-color="#b21747"/><stop offset="0.010" stop-color="#c0264a"/><stop offset="0.017" stop-color="#cf374d"/><stop offset="0.024" stop-color="#dd4a4c"/><stop offset="0.031" stop-color="#ea5e47"/><stop offset="0.038" stop-color="#f67e4b"/><stop offset="0.045" stop-color="#fca55d"/><stop offset="0.052" stop-color="#fdc171"/><stop offset="0.059" stop-color="#fedb87"/><stop offset="0.066" stop-color="#feeda0"/><stop offset="0.073" stop-color="#fffdbb"/><stop offset="0.080" stop-color="#f4fbae"/><stop offset="0.087" stop-color="#e4f498"/><stop offset="0.096" stop-color="#d7ef9b"/><stop offset="0.104" stop-color="#c9e99e"/><stop offset="0.113" stop-color="#bce4a0"/><stop offset="0.122" stop-color="#b5e1a2"/><stop offset="0.130" stop-color="#addea4"/><stop offset="0.139" stop-color="#a5dba4"/><stop offset="0.167" stop-color="#94d4a4"/><stop offset="0.235" stop-color="#84cea5"/><stop offset="0.303" stop-color="#73c7a5"/><stop offset="0.370" stop-color="#5fbba8"/><stop offset="0.438" stop-color="#4da6b1"/><stop offset="0.506" stop-color="#3c93b8"/><stop offset="0.576" stop-color="#3485bc"/><stop offset="0.643" stop-color="#3d7ab6"/><stop offset="0.711" stop-color="#476cb0"/><stop offset="0.779" stop-color="#5061aa"/><stop offset="0.847" stop-color="#5659a7"/><stop offset="0.915" stop-color="#5659a7"/><stop offset="1.000" stop-color="#4e63ac"/></linearGradient><linearGradient id="a64" x1="0" y1="0" x2="0" y2="1"><stop offset="0.000" stop-color="#b41a47"/><stop offset="0.010" stop-color="#c1284a"/><stop offset="0.017" stop-color="#d0384e"/><stop offset="0.024" stop-color="#de4b4c"/><stop offset="0.031" stop-color="#ea5e47"/><stop offset="0.038" stop-color="#f67f4b"/><stop offset="0.045" stop-color="#fca65d"/><stop offset="0.052" stop-color="#fdc272"/><stop offset="0.059" stop-color="#fedc87"/><stop offset="0.066" stop-color="#feeda1"/><stop offset="0.073" stop-color="#fffdbc"/><stop offset="0.080" stop-color="#f4fbae"/><stop offset="0.087" stop-color="#e2f399"/><stop offset="0.096" stop-color="#d4ee9c"/><stop offset="0.104" stop-color="#c7e89e"/><stop offset="0.113" stop-color="#bae3a1"/><stop offset="0.122" stop-color="#b2e0a2"/><stop offset="0.130" stop-color="#abdda4"/><stop offset="0.139" stop-color="#a2daa4"/><stop offset="0.167" stop-color="#91d3a4"/><stop offset="0.235" stop-color="#81cda5"/><stop offset="0.303" stop-color="#70c6a5"/><stop offset="0.370" stop-color="#5db8a9"/><stop offset="0.438" stop-color="#4ba3b2"/><stop offset="0.506" stop-color="#3a91b9"/><stop offset="0.576" stop-color="#3683bb"/><stop offset="0.643" stop-color="#3f77b5"/><stop offset="0.711" stop-color="#496aaf"/><stop offset="0.779" stop-color="#525fa9"/><stop offset="0.847" stop-color="#5857a6"/><stop offset="0.915" stop-color="#5857a6"/><stop offset="1.000" stop-color="#5061aa"/></linearGradient><linearGradient id="a65" x1="0" y1="0" x2="0" y2="1"><stop offset="0.000" stop-color="#b51a47"/><stop offset="0.010" stop-color="#c2294a"/><stop offset="0.017" stop-color="#cf374e"/><stop offset="0.024" stop-color="#dd4b4c"/><stop offset="0.031" stop-color="#e95d47"/><stop offset="0.038" stop-color="#f67d4b"/><stop offset="0.045" stop-color="#fca45c"/><stop offset="0.052" stop-color="#fdc171"/><stop offset="0.059" stop-color="#fedb86"/><stop offset="0.066" stop-color="#feeca0"/><stop offset="0.073" stop-color="#fffcba"/><stop offset="0.080" stop-color="#f4fbae"/><stop offset="0.087" stop-color="#e1f399"/><stop offset="0.096" stop-color="#d4ed9c"/><stop offset="0.104" stop-color="#c6e89f"/><stop offset="0.113" stop-color="#b9e3a1"/><stop offset="0.122" stop-color="#b2e0a3"/><stop offset="0.130" stop-color="#aadda4"/><stop offset="0.139" stop-color="#a1d9a4"/><stop offset="0.167" stop-color="#91d3a4"/><stop offset="0.235" stop-color="#80cca5"/><stop offset="0.303" stop-color="#70c6a5"/><stop offset="0.370" stop-color="#5db8a9"/><stop offset="0.438" stop-color="#4aa3b2"/><stop offset="0.506" stop-color="#3990ba"/><stop offset="0.576" stop-color="#3782ba"/><stop offset="0.643" stop-color="#3f77b5"/><stop offset="0.711" stop-color="#4a69ae"/><stop offset="0.779" stop-color="#525ea9"/><stop offset="0.847" stop-color="#5956a5"/><stop offset="0.915" stop-color="#5956a5"/><stop offset="1.000" stop-color="#5160aa"/></linearGradient><linearGradient id="a66" x1="0" y1="0" x2="0" y2="1"><stop offset="0.000" stop-color="#b51b48"/><stop offset="0.010" stop-color="#c2284a"/><stop offset="0.017" stop-color="#ce364d"/><stop offset="0.024" stop-color="#dd4a4c"/><stop offset="0.031" stop-color="#e85b47"/><stop offset="0.038" stop-color="#f67b4a"/><stop offset="0.045" stop-color="#fba25c"/><stop offset="0.052" stop-color="#fdc070"/><stop offset="0.059" stop-color="#fed985"/><stop offset="0.066" stop-color="#feec9f"/><stop offset="0.073" stop-color="#fffcb9"/><stop offset="0.080" stop-color="#f5fbaf"/><stop offset="0.087" stop-color="#e1f399"/><stop offset="0.096" stop-color="#d3ed9c"/><stop offset="0.104" stop-color="#c6e89f"/><stop offset="0.113" stop-color="#b9e3a1"/><stop offset="0.122" stop-color="#b1e0a3"/><stop offset="0.130" stop-color="#aadca4"/><stop offset="0.139" stop-color="#a1d9a4"/><stop offset="0.167" stop-color="#90d3a4"/><stop offset="0.235" stop-color="#80cca5"/><stop offset="0.303" stop-color="#6fc6a5"/><stop offset="0.370" stop-color="#5cb7a9"/><stop offset="0.438" stop-color="#4aa2b2"/><stop offset="0.506" stop-color="#3990ba"/><stop offset="0.576" stop-color="#3782ba"/><stop offset="0.643" stop-color="#4077b5"/><stop offset="0.711" stop-color="#4a69ae"/><stop offset="0.779" stop-color="#535ea9"/><stop offset="0.847" stop-color="#5956a5"/><stop offset="0.915" stop-color="#5956a5"/><stop offset="1.000" stop-color="#5160aa"/></linearGradient><linearGradient id="a67" x1="0" y1="0" x2="0" y2="1"><stop offset="0.000" stop-color="#b51b47"/><stop offset="0.010" stop-color="#c1284a"/><stop offset="0.017" stop-color="#cd354d"/><stop offset="0.024" stop-color="#dc494c"/><stop offset="0.031" stop-color="#e85a48"/><stop offset="0.038" stop-color="#f67948"/><stop offset="0.045" stop-color="#fba05a"/><stop offset="0.052" stop-color="#fdbe6f"/><stop offset="0.059" stop-color="#fed884"/><stop offset="0.066" stop-color="#feeb9d"/><stop offset="0.073" stop-color="#fffbb7"/><stop offset="0.080" stop-color="#f6fbb1"/><stop offset="0.087" stop-color="#e1f399"/><stop offset="0.096" stop-color="#d3ed9c"/><stop offset="0.104" stop-color="#c6e89f"/><stop offset="0.113" stop-color="#b9e3a1"/><stop offset="0.122" stop-color="#b2e0a3"/><stop offset="0.130" stop-color="#aadda4"/><stop offset="0.139" stop-color="#a1d9a4"/><stop offset="0.167" stop-color="#91d3a4"/><stop offset="0.235" stop-color="#80cca5"/><stop offset="0.303" stop-color="#70c6a5"/><stop offset="0.370" stop-color="#5db7a9"/><stop offset="0.438" stop-color="#4aa3b2"/><stop offset="0.506" stop-color="#3990ba"/><stop offset="0.576" stop-color="#3782ba"/><stop offset="0.643" stop-color="#3f77b5"/><stop offset="0.711" stop-color="#4a69ae"/><stop offset="0.779" stop-color="#535ea9"/><stop offset="0.847" stop-color="#5956a5"/><stop offset="0.915" stop-color="#5956a5"/><stop offset="1.000" stop-color="#5160aa"/></linearGradient><linearGradient id="a68" x1="0" y1="0" x2="0" y2="1"><stop offset="0.000" stop-color="#b41a47"/><stop offset="0.010" stop-color="#c0274a"/><stop offset="0.017" stop-color="#cb334d"/><stop offset="0.024" stop-color="#db474d"/><stop offset="0.031" stop-color="#e65848"/><stop offset="0.038" stop-color="#f57647"/><stop offset="0.045" stop-color="#fb9c59"/><stop offset="0.052" stop-color="#fdbc6d"/><stop offset="0.059" stop-color="#fed582"/><stop offset="0.066" stop-color="#fee99b"/><stop offset="0.073" stop-color="#fff9b5"/><stop offset="0.080" stop-color="#f7fcb2"/><stop offset="0.087" stop-color="#e2f399"/><stop offset="0.096" stop-color="#d4ee9c"/><stop offset="0.104" stop-color="#c7e89e"/><stop offset="0.113" stop-color="#bae3a1"/><stop offset="0.122" stop-color="#b2e0a2"/><stop offset="0.130" stop-color="#abdda4"/><stop offset="0.139" stop-color="#a2daa4"/><stop offset="0.167" stop-color="#92d3a4"/><stop offset="0.235" stop-color="#81cda5"/><stop offset="0.303" stop-color="#71c6a5"/><stop offset="0.370" stop-color="#5db8a9"/><stop offset="0.438" stop-color="#4aa3b2"/><stop offset="0.506" stop-color="#3a91b9"/><stop offset="0.576" stop-color="#3682ba"/><stop offset="0.643" stop-color="#3f77b5"/><stop offset="0.711" stop-color="#496aaf"/><stop offset="0.779" stop-color="#525fa9"/><stop offset="0.847" stop-color="#5857a6"/><stop offset="0.915" stop-color="#5857a6"/><stop offset="1.000" stop-color="#5061aa"/></linearGradient><linearGradient id="a69" x1="0" y1="0" x2="0" y2="1"><stop offset="0.000" stop-color="#b51b48"/><stop offset="0.010" stop-color="#c1274a"/><stop offset="0.017" stop-color="#cb324d"/><stop offset="0.024" stop-color="#db474d"/><stop offset="0.031" stop-color="#e65848"/><stop offset="0.038" stop-color="#f57446"/><stop offset="0.045" stop-color="#fa9b58"/><stop offset="0.052" stop-color="#fdbb6c"/><stop offset="0.059" stop-color="#fed582"/><stop offset="0.066" stop-color="#fee99a"/><stop offset="0.073" stop-color="#fff9b4"/><stop offset="0.080" stop-color="#f7fcb3"/><stop offset="0.087" stop-color="#ebf79f"/><stop offset="0.096" stop-color="#d3ed9c"/><stop offset="0.104" stop-color="#c6e89f"/><stop offset="0.113" stop-color="#b9e3a1"/><stop offset="0.122" stop-color="#b1e0a3"/><stop offset="0.130" stop-color="#aadda4"/><stop offset="0.139" stop-color="#a1d9a4"/><stop offset="0.167" stop-color="#90d3a4"/><stop offset="0.235" stop-color="#80cca5"/><stop offset="0.303" stop-color="#6fc6a5"/><stop offset="0.370" stop-color="#5cb7a9"/><stop offset="0.438" stop-color="#49a2b2"/><stop offset="0.506" stop-color="#388fba"/><stop offset="0.576" stop-color="#3781ba"/><stop offset="0.643" stop-color="#4076b5"/><stop offset="0.711" stop-color="#4a69ae"/><stop offset="0.779" stop-color="#535ea9"/><stop offset="0.847" stop-color="#5956a5"/><stop offset="0.915" stop-color="#5956a5"/><stop offset="1.000" stop-color="#5160aa"/></linearGradient><linearGradient id="a70" x1="0" y1="0" x2="0" y2="1"><stop offset="0.000" stop-color="#b21847"/><stop offset="0.010" stop-color="#bd2449"/><stop offset="0.017" stop-color="#c52c4b"/><stop offset="0.024" stop-color="#d8424e"/><stop offset="0.031" stop-color="#e3534a"/><stop offset="0.038" stop-color="#f46c43"/><stop offset="0.045" stop-color="#f99354"/><stop offset="0.052" stop-color="#fdb567"/><stop offset="0.059" stop-color="#fecf7d"/><stop offset="0.066" stop-color="#fee594"/><stop offset="0.073" stop-color="#fff5ae"/><stop offset="0.080" stop-color="#fafdb8"/><stop offset="0.087" stop-color="#edf8a4"/><stop offset="0.096" stop-color="#d6ef9b"/><stop offset="0.104" stop-color="#c9e99e"/><stop offset="0.113" stop-color="#bce4a1"/><stop offset="0.122" stop-color="#b5e1a2"/><stop offset="0.130" stop-color="#addea4"/><stop offset="0.139" stop-color="#a5dba4"/><stop offset="0.167" stop-color="#94d4a4"/><stop offset="0.235" stop-color="#84cea5"/><stop offset="0.303" stop-color="#73c7a5"/><stop offset="0.370" stop-color="#5fbaa8"/><stop offset="0.438" stop-color="#4ca5b1"/><stop offset="0.506" stop-color="#3b92b9"/><stop offset="0.576" stop-color="#3584bb"/><stop offset="0.643" stop-color="#3d79b6"/><stop offset="0.711" stop-color="#486cb0"/><stop offset="0.779" stop-color="#5061aa"/><stop offset="0.847" stop-color="#5659a7"/><stop offset="0.915" stop-color="#5759a7"/><stop offset="1.000" stop-color="#4f63ab"/></linearGradient><linearGradient id="a71" x1="0" y1="0" x2="0" y2="1"><stop offset="0.000" stop-color="#b41a47"/><stop offset="0.010" stop-color="#be254a"/><stop offset="0.017" stop-color="#c52c4b"/><stop offset="0.024" stop-color="#d7404e"/><stop offset="0.031" stop-color="#e2524a"/><stop offset="0.038" stop-color="#f16944"/><stop offset="0.045" stop-color="#f98e52"/><stop offset="0.052" stop-color="#fdb365"/><stop offset="0.059" stop-color="#fecc7a"/><stop offset="0.066" stop-color="#fee491"/><stop offset="0.073" stop-color="#fff3ac"/><stop offset="0.080" stop-color="#fcfeba"/><stop offset="0.087" stop-color="#eff9a6"/><stop offset="0.096" stop-color="#d4ee9c"/><stop offset="0.104" stop-color="#c7e89e"/><stop offset="0.113" stop-color="#bae3a1"/><stop offset="0.122" stop-color="#b3e0a2"/><stop offset="0.130" stop-color="#abdda4"/><stop offset="0.139" stop-color="#a2daa4"/><stop offset="0.167" stop-color="#92d3a4"/><stop offset="0.235" stop-color="#81cda5"/><stop offset="0.303" stop-color="#71c6a5"/><stop offset="0.370" stop-color="#5db8a9"/><stop offset="0.438" stop-color="#4aa3b2"/><stop offset="0.506" stop-color="#3990ba"/><stop offset="0.576" stop-color="#3782ba"/><stop offset="0.643" stop-color="#3f77b5"/><stop offset="0.711" stop-color="#496aaf"/><stop offset="0.779" stop-color="#525fa9"/><stop offset="0.847" stop-color="#5857a6"/><stop offset="0.915" stop-color="#5857a6"/><stop offset="1.000" stop-color="#5061aa"/></linearGradient><linearGradient id="a72" x1="0" y1="0" x2="0" y2="1"><stop offset="0.000" stop-color="#b41947"/><stop offset="0.010" stop-color="#bd2449"/><stop offset="0.017" stop-color="#c42b4b"/><stop offset="0.024" stop-color="#d43d4f"/><stop offset="0.031" stop-color="#e04f4b"/><stop offset="0.038" stop-color="#ee6445"/><stop offset="0.045" stop-color="#f8874f"/><stop offset="0.052" stop-color="#fdae61"/><stop offset="0.059" stop-color="#fec776"/><stop offset="0.066" stop-color="#fee18c"/><stop offset="0.073" stop-color="#fff0a7"/><stop offset="0.080" stop-color="#feffbd"/><stop offset="0.087" stop-color="#f1f9aa"/><stop offset="0.096" stop-color="#d5ee9c"/><stop offset="0.104" stop-color="#c7e89e"/><stop offset="0.113" stop-color="#bbe3a1"/><stop offset="0.122" stop-color="#b3e0a2"/><stop offset="0.130" stop-color="#abdda4"/><stop offset="0.139" stop-color="#a3daa4"/><stop offset="0.167" stop-color="#92d3a4"/><stop offset="0.235" stop-color="#82cda5"/><stop offset="0.303" stop-color="#71c6a5"/><stop offset="0.370" stop-color="#5eb9a9"/><stop offset="0.438" stop-color="#4aa3b2"/><stop offset="0.506" stop-color="#3990ba"/><stop offset="0.576" stop-color="#3782ba"/><stop offset="0.643" stop-color="#3f78b5"/><stop offset="0.711" stop-color="#496aaf"/><stop offset="0.779" stop-color="#525faa"/><stop offset="0.847" stop-color="#5857a6"/><stop offset="0.915" stop-color="#5857a6"/><stop offset="1.000" stop-color="#5061ab"/></linearGradient><linearGradient id="a73" x1="0" y1="0" x2="0" y2="1"><stop offset="0.000" stop-color="#b21847"/><stop offset="0.010" stop-color="#bb2149"/><stop offset="0.017" stop-color="#c1284a"/><stop offset="0.024" stop-color="#cf374e"/><stop offset="0.031" stop-color="#dd4a4c"/><stop offset="0.038" stop-color="#ea5e47"/><stop offset="0.045" stop-color="#f67f4b"/><stop offset="0.052" stop-color="#fca55d"/><stop offset="0.059" stop-color="#fdc271"/><stop offset="0.066" stop-color="#fedb87"/><stop offset="0.073" stop-color="#feeda0"/><stop offset="0.080" stop-color="#fffdbb"/><stop offset="0.087" stop-color="#f4fbae"/><stop offset="0.096" stop-color="#d6ef9b"/><stop offset="0.104" stop-color="#c9e99e"/><stop offset="0.113" stop-color="#bce4a1"/><stop offset="0.122" stop-color="#b5e1a2"/><stop offset="0.130" stop-color="#addea4"/><stop offset="0.139" stop-color="#a5dba4"/><stop offset="0.167" stop-color="#94d4a4"/><stop offset="0.235" stop-color="#84cea5"/><stop offset="0.303" stop-color="#73c7a5"/><stop offset="0.370" stop-color="#5fbaa8"/><stop offset="0.438" stop-color="#4ba4b1"/><stop offset="0.506" stop-color="#3a91b9"/><stop offset="0.576" stop-color="#3683bb"/><stop offset="0.643" stop-color="#3e79b6"/><stop offset="0.711" stop-color="#486cb0"/><stop offset="0.779" stop-color="#5061aa"/><stop offset="0.847" stop-color="#5759a7"/><stop offset="0.915" stop-color="#5759a7"/><stop offset="1.000" stop-color="#4f63ab"/></linearGradient><linearGradient id="a74" x1="0" y1="0" x2="0" y2="1"><stop offset="0.000" stop-color="#b21847"/><stop offset="0.010" stop-color="#bb2149"/><stop offset="0.017" stop-color="#c0274a"/><stop offset="0.024" stop-color="#cb334d"/><stop offset="0.031" stop-color="#db474d"/><stop offset="0.038" stop-color="#e75948"/><stop offset="0.045" stop-color="#f67848"/><stop offset="0.052" stop-color="#fb9f5a"/><stop offset="0.059" stop-color="#fdbd6e"/><stop offset="0.066" stop-color="#fed783"/><stop offset="0.073" stop-color="#feea9c"/><stop offset="0.080" stop-color="#fffab7"/><stop offset="0.087" stop-color="#f6fcb1"/><stop offset="0.096" stop-color="#d6ef9b"/><stop offset="0.104" stop-color="#c9e99e"/><stop offset="0.113" stop-color="#bce4a1"/><stop offset="0.122" stop-color="#b5e1a2"/><stop offset="0.130" stop-color="#addea4"/><stop offset="0.139" stop-color="#a5dba4"/><stop offset="0.167" stop-color="#94d4a4"/><stop offset="0.235" stop-color="#84cea5"/><stop offset="0.303" stop-color="#73c7a5"/><stop offset="0.370" stop-color="#5fbaa8"/><stop offset="0.438" stop-color="#4ba4b1"/><stop offset="0.506" stop-color="#3990ba"/><stop offset="0.576" stop-color="#3683ba"/><stop offset="0.643" stop-color="#3e79b6"/><stop offset="0.711" stop-color="#486cb0"/><stop offset="0.779" stop-color="#5061aa"/><stop offset="0.847" stop-color="#5659a7"/><stop offset="0.915" stop-color="#5759a7"/><stop offset="1.000" stop-color="#4f63ab"/></linearGradient><linearGradient id="a75" x1="0" y1="0" x2="0" y2="1"><stop offset="0.000" stop-color="#b41a47"/><stop offset="0.010" stop-color="#bc2349"/><stop offset="0.017" stop-color="#c2294a"/><stop offset="0.024" stop-color="#cc344d"/><stop offset="0.031" stop-color="#db484d"/><stop offset="0.038" stop-color="#e75948"/><stop offset="0.045" stop-color="#f57748"/><stop offset="0.052" stop-color="#fb9e5a"/><stop offset="0.059" stop-color="#fdbd6e"/><stop offset="0.066" stop-color="#fed783"/><stop offset="0.073" stop-color="#feea9c"/><stop offset="0.080" stop-color="#fffab6"/><stop offset="0.087" stop-color="#f6fcb2"/><stop offset="0.096" stop-color="#d4ee9c"/><stop offset="0.104" stop-color="#c7e89e"/><stop offset="0.113" stop-color="#bae3a1"/><stop offset="0.122" stop-color="#b3e0a2"/><stop offset="0.130" stop-color="#abdda4"/><stop offset="0.139" stop-color="#a2daa4"/><stop offset="0.167" stop-color="#92d3a4"/><stop offset="0.235" stop-color="#81cda5"/><stop offset="0.303" stop-color="#71c6a5"/><stop offset="0.370" stop-color="#5db8a9"/><stop offset="0.438" stop-color="#49a2b2"/><stop offset="0.506" stop-color="#378dbb"/><stop offset="0.576" stop-color="#3880b9"/><stop offset="0.643" stop-color="#3f77b5"/><stop offset="0.711" stop-color="#496aaf"/><stop offset="0.779" stop-color="#525fa9"/><stop offset="0.847" stop-color="#5857a6"/><stop offset="0.915" stop-color="#5857a6"/><stop offset="1.000" stop-color="#5061ab"/></linearGradient><linearGradient id="a76" x1="0" y1="0" x2="0" y2="1"><stop offset="0.000" stop-color="#b41947"/><stop offset="0.010" stop-color="#bc2249"/><stop offset="0.017" stop-color="#c1284a"/><stop offset="0.024" stop-color="#ca314c"/><stop offset="0.031" stop-color="#da464d"/><stop offset="0.038" stop-color="#e65749"/><stop offset="0.045" stop-color="#f57446"/><stop offset="0.052" stop-color="#fa9b58"/><stop offset="0.059" stop-color="#fdbb6c"/><stop offset="0.066" stop-color="#fed481"/><stop offset="0.073" stop-color="#fee899"/><stop offset="0.080" stop-color="#fff8b4"/><stop offset="0.087" stop-color="#f8fcb3"/><stop offset="0.096" stop-color="#d5ee9b"/><stop offset="0.104" stop-color="#c7e99e"/><stop offset="0.113" stop-color="#bbe3a1"/><stop offset="0.122" stop-color="#b3e0a2"/><stop offset="0.130" stop-color="#acdda4"/><stop offset="0.139" stop-color="#a3daa4"/><stop offset="0.167" stop-color="#93d3a4"/><stop offset="0.235" stop-color="#82cda5"/><stop offset="0.303" stop-color="#72c7a5"/><stop offset="0.370" stop-color="#5eb9a9"/><stop offset="0.438" stop-color="#49a2b2"/><stop offset="0.506" stop-color="#378dbb"/><stop offset="0.576" stop-color="#3880b9"/><stop offset="0.643" stop-color="#3f77b5"/><stop offset="0.711" stop-color="#496baf"/><stop offset="0.779" stop-color="#515faa"/><stop offset="0.847" stop-color="#5857a6"/><stop offset="0.915" stop-color="#5857a6"/><stop offset="1.000" stop-color="#5062ab"/></linearGradient><linearGradient id="a77" x1="0" y1="0" x2="0" y2="1"><stop offset="0.000" stop-color="#b31947"/><stop offset="0.010" stop-color="#bb2149"/><stop offset="0.017" stop-color="#c0274a"/><stop offset="0.024" stop-color="#c82f4c"/><stop offset="0.031" stop-color="#d9444d"/><stop offset="0.038" stop-color="#e55649"/><stop offset="0.045" stop-color="#f47045"/><stop offset="0.052" stop-color="#fa9756"/><stop offset="0.059" stop-color="#fdb86a"/><stop offset="0.066" stop-color="#fed27f"/><stop offset="0.073" stop-color="#fee797"/><stop offset="0.080" stop-color="#fff7b1"/><stop offset="0.087" stop-color="#f9fdb5"/><stop offset="0.096" stop-color="#d5ee9b"/><stop offset="0.104" stop-color="#c8e99e"/><stop offset="0.113" stop-color="#bbe4a1"/><stop offset="0.122" stop-color="#b4e1a2"/><stop offset="0.130" stop-color="#acdea4"/><stop offset="0.139" stop-color="#a4daa4"/><stop offset="0.167" stop-color="#93d4a4"/><stop offset="0.235" stop-color="#83cda5"/><stop offset="0.303" stop-color="#72c7a5"/><stop offset="0.370" stop-color="#5eb9a9"/><stop offset="0.438" stop-color="#49a2b2"/><stop offset="0.506" stop-color="#378dbb"/><stop offset="0.576" stop-color="#3880b9"/><stop offset="0.643" stop-color="#3f77b5"/><stop offset="0.711" stop-color="#486baf"/><stop offset="0.779" stop-color="#5160aa"/><stop offset="0.847" stop-color="#5758a6"/><stop offset="0.915" stop-color="#5758a6"/><stop offset="1.000" stop-color="#4f62ab"/></linearGradient><linearGradient id="a78" x1="0" y1="0" x2="0" y2="1"><stop offset="0.000" stop-color="#b41a47"/><stop offset="0.010" stop-color="#bc2249"/><stop offset="0.017" stop-color="#c1284a"/><stop offset="0.024" stop-color="#c72e4c"/><stop offset="0.031" stop-color="#d9444e"/><stop offset="0.038" stop-color="#e45549"/><stop offset="0.045" stop-color="#f46f44"/><stop offset="0.052" stop-color="#fa9556"/><stop offset="0.059" stop-color="#fdb769"/><stop offset="0.066" stop-color="#fed17e"/><stop offset="0.073" stop-color="#fee696"/><stop offset="0.080" stop-color="#fff6b0"/><stop offset="0.087" stop-color="#f9fdb6"/><stop offset="0.096" stop-color="#d4ee9c"/><stop offset="0.104" stop-color="#c7e89e"/><stop offset="0.113" stop-color="#bae3a1"/><stop offset="0.122" stop-color="#b3e0a2"/><stop offset="0.130" stop-color="#abdda4"/><stop offset="0.139" stop-color="#a3daa4"/><stop offset="0.167" stop-color="#92d3a4"/><stop offset="0.235" stop-color="#82cda5"/><stop offset="0.303" stop-color="#71c6a5"/><stop offset="0.370" stop-color="#5db8a9"/><stop offset="0.438" stop-color="#48a1b3"/><stop offset="0.506" stop-color="#358cbc"/><stop offset="0.576" stop-color="#397fb9"/><stop offset="0.643" stop-color="#4076b5"/><stop offset="0.711" stop-color="#496aaf"/><stop offset="0.779" stop-color="#525fa9"/><stop offset="0.847" stop-color="#5857a6"/><stop offset="0.915" stop-color="#5857a6"/><stop offset="1.000" stop-color="#5061ab"/></linearGradient><linearGradient id="a79" x1="0" y1="0" x2="0" y2="1"><stop offset="0.000" stop-color="#b61c48"/><stop offset="0.010" stop-color="#bd2449"/><stop offset="0.017" stop-color="#c2294b"/><stop offset="0.024" stop-color="#c72f4c"/><stop offset="0.031" stop-color="#d9444e"/><stop offset="0.038" stop-color="#e45549"/><stop offset="0.045" stop-color="#f46e43"/><stop offset="0.052" stop-color="#f99555"/><stop offset="0.059" stop-color="#fdb769"/><stop offset="0.066" stop-color="#fed17e"/><stop offset="0.073" stop-color="#fee695"/><stop offset="0.080" stop-color="#fff6b0"/><stop offset="0.087" stop-color="#f9fdb6"/><stop offset="0.096" stop-color="#d3ed9c"/><stop offset="0.104" stop-color="#c5e89f"/><stop offset="0.113" stop-color="#b8e2a1"/><stop offset="0.122" stop-color="#b1dfa3"/><stop offset="0.130" stop-color="#a9dca4"/><stop offset="0.139" stop-color="#a0d9a4"/><stop offset="0.167" stop-color="#90d2a4"/><stop offset="0.235" stop-color="#80cca5"/><stop offset="0.303" stop-color="#70c6a5"/><stop offset="0.370" stop-color="#5bb6aa"/><stop offset="0.438" stop-color="#469eb4"/><stop offset="0.506" stop-color="#3389bc"/><stop offset="0.576" stop-color="#3b7db8"/><stop offset="0.643" stop-color="#4174b4"/><stop offset="0.711" stop-color="#4b68ae"/><stop offset="0.779" stop-color="#535da9"/><stop offset="0.847" stop-color="#5955a5"/><stop offset="0.915" stop-color="#5955a5"/><stop offset="1.000" stop-color="#515faa"/></linearGradient><linearGradient id="a80" x1="0" y1="0" x2="0" y2="1"><stop offset="0.000" stop-color="#b31947"/><stop offset="0.010" stop-color="#bb2149"/><stop offset="0.017" stop-color="#c0264a"/><stop offset="0.024" stop-color="#c42c4b"/><stop offset="0.031" stop-color="#d6404e"/><stop offset="0.038" stop-color="#e2524a"/><stop offset="0.045" stop-color="#f16944"/><stop offset="0.052" stop-color="#f98e52"/><stop offset="0.059" stop-color="#fdb365"/><stop offset="0.066" stop-color="#fecc7a"/><stop offset="0.073" stop-color="#fee491"/><stop offset="0.080" stop-color="#fff3ab"/><stop offset="0.087" stop-color="#fcfeba"/><stop offset="0.096" stop-color="#ecf7a1"/><stop offset="0.104" stop-color="#c8e99e"/><stop offset="0.113" stop-color="#bbe4a1"/><stop offset="0.122" stop-color="#b4e1a2"/><stop offset="0.130" stop-color="#acdea4"/><stop offset="0.139" stop-color="#a4daa4"/><stop offset="0.167" stop-color="#94d4a4"/><stop offset="0.235" stop-color="#84cea5"/><stop offset="0.303" stop-color="#73c7a5"/><stop offset="0.370" stop-color="#5eb9a9"/><stop offset="0.438" stop-color="#49a1b3"/><stop offset="0.506" stop-color="#358cbb"/><stop offset="0.576" stop-color="#397fb9"/><stop offset="0.643" stop-color="#3f77b5"/><stop offset="0.711" stop-color="#496baf"/><stop offset="0.779" stop-color="#5160aa"/><stop offset="0.847" stop-color="#5758a6"/><stop offset="0.915" stop-color="#5758a6"/><stop offset="1.000" stop-color="#4f62ab"/></linearGradient><linearGradient id="a81" x1="0" y1="0" x2="0" y2="1"><stop offset="0.000" stop-color="#b31847"/><stop offset="0.010" stop-color="#ba2049"/><stop offset="0.017" stop-color="#bf264a"/><stop offset="0.024" stop-color="#c42b4b"/><stop offset="0.031" stop-color="#d53f4f"/><stop offset="0.038" stop-color="#e1504a"/><stop offset="0.045" stop-color="#f06745"/><stop offset="0.052" stop-color="#f88b51"/><stop offset="0.059" stop-color="#fdb063"/><stop offset="0.066" stop-color="#feca79"/><stop offset="0.073" stop-color="#fee28f"/><stop offset="0.080" stop-color="#fff2a9"/><stop offset="0.087" stop-color="#fdfebb"/><stop offset="0.096" stop-color="#edf8a3"/><stop offset="0.104" stop-color="#c8e99e"/><stop offset="0.113" stop-color="#bce4a1"/><stop offset="0.122" stop-color="#b4e1a2"/><stop offset="0.130" stop-color="#addea4"/><stop offset="0.139" stop-color="#a4daa4"/><stop offset="0.167" stop-color="#94d4a4"/><stop offset="0.235" stop-color="#85cea5"/><stop offset="0.303" stop-color="#74c8a5"/><stop offset="0.370" stop-color="#5fbaa8"/><stop offset="0.438" stop-color="#49a1b3"/><stop offset="0.506" stop-color="#358cbb"/><stop offset="0.576" stop-color="#397fb9"/><stop offset="0.643" stop-color="#3f77b5"/><stop offset="0.711" stop-color="#486baf"/><stop offset="0.779" stop-color="#5160aa"/><stop offset="0.847" stop-color="#5758a6"/><stop offset="0.915" stop-color="#5758a6"/><stop offset="1.000" stop-color="#4f62ab"/></linearGradient><linearGradient id="a82" x1="0" y1="0" x2="0" y2="1"><stop offset="0.000" stop-color="#b41947"/><stop offset="0.010" stop-color="#bb2149"/><stop offset="0.017" stop-color="#bf264a"/><stop offset="0.024" stop-color="#c42b4b"/><stop offset="0.031" stop-color="#d53e4f"/><stop offset="0.038" stop-color="#e04f4b"/><stop offset="0.045" stop-color="#ef6545"/><stop offset="0.052" stop-color="#f88950"/><stop offset="0.059" stop-color="#fdaf62"/><stop offset="0.066" stop-color="#fec977"/><stop offset="0.073" stop-color="#fee18d"/><stop offset="0.080" stop-color="#fff1a8"/><stop offset="0.087" stop-color="#fdfebd"/><stop offset="0.096" stop-color="#eef8a4"/><stop offset="0.104" stop-color="#c8e99e"/><stop offset="0.113" stop-color="#bbe4a1"/><stop offset="0.122" stop-color="#b4e1a2"/><stop offset="0.130" stop-color="#acdea4"/><stop offset="0.139" stop-color="#a4daa4"/><stop offset="0.167" stop-color="#94d4a4"/><stop offset="0.235" stop-color="#85cea5"/><stop offset="0.303" stop-color="#74c8a5"/><stop offset="0.370" stop-color="#5eb9a9"/><stop offset="0.438" stop-color="#48a1b3"/><stop offset="0.506" stop-color="#358bbc"/><stop offset="0.576" stop-color="#397fb9"/><stop offset="0.643" stop-color="#3f77b5"/><stop offset="0.711" stop-color="#496aaf"/><stop offset="0.779" stop-color="#515faa"/><stop offset="0.847" stop-color="#5758a6"/><stop offset="0.915" stop-color="#5757a6"/><stop offset="1.000" stop-color="#5062ab"/></linearGradient><linearGradient id="a83" x1="0" y1="0" x2="0" y2="1"><stop offset="0.000" stop-color="#b51b47"/><stop offset="0.010" stop-color="#bc2249"/><stop offset="0.017" stop-color="#c1274a"/><stop offset="0.024" stop-color="#c52c4b"/><stop offset="0.031" stop-color="#d53e4f"/><stop offset="0.038" stop-color="#e04f4b"/><stop offset="0.045" stop-color="#ee6445"/><stop offset="0.052" stop-color="#f8884f"/><stop offset="0.059" stop-color="#fdae61"/><stop offset="0.066" stop-color="#fec877"/><stop offset="0.073" stop-color="#fee18c"/><stop offset="0.080" stop-color="#fff1a7"/><stop offset="0.087" stop-color="#feffbd"/><stop offset="0.096" stop-color="#eef8a4"/><stop offset="0.104" stop-color="#c6e89e"/><stop offset="0.113" stop-color="#bae3a1"/><stop offset="0.122" stop-color="#b2e0a3"/><stop offset="0.130" stop-color="#abdda4"/><stop offset="0.139" stop-color="#a2daa4"/><stop offset="0.167" stop-color="#92d3a4"/><stop offset="0.235" stop-color="#84cea5"/><stop offset="0.303" stop-color="#73c7a5"/><stop offset="0.370" stop-color="#5db8a9"/><stop offset="0.438" stop-color="#479fb3"/><stop offset="0.506" stop-color="#348abc"/><stop offset="0.576" stop-color="#3a7db8"/><stop offset="0.643" stop-color="#4175b4"/><stop offset="0.711" stop-color="#4a69ae"/><stop offset="0.779" stop-color="#525ea9"/><stop offset="0.847" stop-color="#5956a5"/><stop offset="0.915" stop-color="#5956a5"/><stop offset="1.000" stop-color="#5160aa"/></linearGradient><linearGradient id="a84" x1="0" y1="0" x2="0" y2="1"><stop offset="0.000" stop-color="#b41a47"/><stop offset="0.010" stop-color="#bb2149"/><stop offset="0.017" stop-color="#c0264a"/><stop offset="0.024" stop-color="#c42b4b"/><stop offset="0.031" stop-color="#d23b4e"/><stop offset="0.038" stop-color="#df4d4b"/><stop offset="0.045" stop-color="#ec6246"/><stop offset="0.052" stop-color="#f7844e"/><stop offset="0.059" stop-color="#fdab5f"/><stop offset="0.066" stop-color="#fdc575"/><stop offset="0.073" stop-color="#fedf8a"/><stop offset="0.080" stop-color="#feefa4"/><stop offset="0.087" stop-color="#ffffbf"/><stop offset="0.096" stop-color="#eff9a6"/><stop offset="0.104" stop-color="#c7e89e"/><stop offset="0.113" stop-color="#bbe3a1"/><stop offset="0.122" stop-color="#b3e0a2"/><stop offset="0.130" stop-color="#acdda4"/><stop offset="0.139" stop-color="#a3daa4"/><stop offset="0.167" stop-color="#94d4a4"/><stop offset="0.235" stop-color="#86cea5"/><stop offset="0.303" stop-color="#75c8a5"/><stop offset="0.370" stop-color="#5ebaa9"/><stop offset="0.438" stop-color="#48a0b3"/><stop offset="0.506" stop-color="#358bbc"/><stop offset="0.576" stop-color="#3a7eb8"/><stop offset="0.643" stop-color="#4076b4"/><stop offset="0.711" stop-color="#496aaf"/><stop offset="0.779" stop-color="#525fa9"/><stop offset="0.847" stop-color="#5857a6"/><stop offset="0.915" stop-color="#5857a6"/><stop offset="1.000" stop-color="#5061ab"/></linearGradient><linearGradient id="a85" x1="0" y1="0" x2="0" y2="1"><stop offset="0.000" stop-color="#b51a47"/><stop offset="0.010" stop-color="#bb2249"/><stop offset="0.017" stop-color="#c0264a"/><stop offset="0.024" stop-color="#c42b4b"/><stop offset="0.031" stop-color="#d23a4e"/><stop offset="0.038" stop-color="#df4d4b"/><stop offset="0.045" stop-color="#ec6146"/><stop offset="0.052" stop-color="#f7834d"/><stop offset="0.059" stop-color="#fca95f"/><stop offset="0.066" stop-color="#fdc474"/><stop offset="0.073" stop-color="#fede89"/><stop offset="0.080" stop-color="#feefa3"/><stop offset="0.087" stop-color="#fffebe"/><stop offset="0.096" stop-color="#f0f9a7"/><stop offset="0.104" stop-color="#c7e89e"/><stop offset="0.113" stop-color="#bae3a1"/><stop offset="0.122" stop-color="#b3e0a2"/><stop offset="0.130" stop-color="#abdda4"/><stop offset="0.139" stop-color="#a3daa4"/><stop offset="0.167" stop-color="#93d4a4"/><stop offset="0.235" stop-color="#86cea5"/><stop offset="0.303" stop-color="#76c8a5"/><stop offset="0.370" stop-color="#5eb9a9"/><stop offset="0.438" stop-color="#48a0b3"/><stop offset="0.506" stop-color="#358bbc"/><stop offset="0.576" stop-color="#3a7eb8"/><stop offset="0.643" stop-color="#4076b4"/><stop offset="0.711" stop-color="#4a69ae"/><stop offset="0.779" stop-color="#525ea9"/><stop offset="0.847" stop-color="#5856a5"/><stop offset="0.915" stop-color="#5856a5"/><stop offset="1.000" stop-color="#5061aa"/></linearGradient><linearGradient id="a86" x1="0" y1="0" x2="0" y2="1"><stop offset="0.000" stop-color="#b41a47"/><stop offset="0.010" stop-color="#bb2149"/><stop offset="0.017" stop-color="#bf264a"/><stop offset="0.024" stop-color="#c42b4b"/><stop offset="0.031" stop-color="#d1394e"/><stop offset="0.038" stop-color="#de4c4b"/><stop offset="0.045" stop-color="#eb5f46"/><stop offset="0.052" stop-color="#f7814c"/><stop offset="0.059" stop-color="#fca85e"/><stop offset="0.066" stop-color="#fdc373"/><stop offset="0.073" stop-color="#fedd88"/><stop offset="0.080" stop-color="#feeea2"/><stop offset="0.087" stop-color="#fffebd"/><stop offset="0.096" stop-color="#f0f9a8"/><stop offset="0.104" stop-color="#c7e89e"/><stop offset="0.113" stop-color="#bbe3a1"/><stop offset="0.122" stop-color="#b3e0a2"/><stop offset="0.130" stop-color="#acdda4"/><stop offset="0.139" stop-color="#a4daa4"/><stop offset="0.167" stop-color="#94d4a4"/><stop offset="0.235" stop-color="#87cfa5"/><stop offset="0.303" stop-color="#77c9a5"/><stop offset="0.370" stop-color="#5fbaa8"/><stop offset="0.438" stop-color="#48a1b3"/><stop offset="0.506" stop-color="#358cbb"/><stop offset="0.576" stop-color="#397fb9"/><stop offset="0.643" stop-color="#4076b5"/><stop offset="0.711" stop-color="#496aaf"/><stop offset="0.779" stop-color="#525fa9"/><stop offset="0.847" stop-color="#5857a6"/><stop offset="0.915" stop-color="#5857a6"/><stop offset="1.000" stop-color="#5061aa"/></linearGradient><linearGradient id="a87" x1="0" y1="0" x2="0" y2="1"><stop offset="0.000" stop-color="#b31847"/><stop offset="0.010" stop-color="#b91f48"/><stop offset="0.017" stop-color="#be2449"/><stop offset="0.024" stop-color="#c2294a"/><stop offset="0.031" stop-color="#ce374d"/><stop offset="0.038" stop-color="#dd4a4c"/><stop offset="0.045" stop-color="#e95d47"/><stop offset="0.052" stop-color="#f67d4b"/><stop offset="0.059" stop-color="#fca45c"/><stop offset="0.066" stop-color="#fdc171"/><stop offset="0.073" stop-color="#feda86"/><stop offset="0.080" stop-color="#feeca0"/><stop offset="0.087" stop-color="#fffcba"/><stop offset="0.096" stop-color="#f1faaa"/><stop offset="0.104" stop-color="#c9e99e"/><stop offset="0.113" stop-color="#bde4a0"/><stop offset="0.122" stop-color="#b5e1a2"/><stop offset="0.130" stop-color="#aedea3"/><stop offset="0.139" stop-color="#a6dba4"/><stop offset="0.167" stop-color="#97d5a4"/><stop offset="0.235" stop-color="#8ad0a4"/><stop offset="0.303" stop-color="#7acaa5"/><stop offset="0.370" stop-color="#61bca7"/><stop offset="0.438" stop-color="#4aa3b2"/><stop offset="0.506" stop-color="#388eba"/><stop offset="0.576" stop-color="#3781ba"/><stop offset="0.643" stop-color="#3e78b5"/><stop offset="0.711" stop-color="#486cb0"/><stop offset="0.779" stop-color="#5160aa"/><stop offset="0.847" stop-color="#5759a7"/><stop offset="0.915" stop-color="#5758a6"/><stop offset="1.000" stop-color="#4f63ab"/></linearGradient><linearGradient id="a88" x1="0" y1="0" x2="0" y2="1"><stop offset="0.000" stop-color="#b21847"/><stop offset="0.010" stop-color="#b91f48"/><stop offset="0.017" stop-color="#bd2449"/><stop offset="0.024" stop-color="#c2284a"/><stop offset="0.031" stop-color="#cd354d"/><stop offset="0.038" stop-color="#dc494c"/><stop offset="0.045" stop-color="#e95c47"/><stop offset="0.052" stop-color="#f67c4a"/><stop offset="0.059" stop-color="#fba25c"/><stop offset="0.066" stop-color="#fdc070"/><stop offset="0.073" stop-color="#fed985"/><stop offset="0.080" stop-color="#feec9e"/><stop offset="0.087" stop-color="#fffbb9"/><stop offset="0.096" stop-color="#f2faab"/><stop offset="0.104" stop-color="#c9e99e"/><stop offset="0.113" stop-color="#bde4a0"/><stop offset="0.122" stop-color="#b6e1a2"/><stop offset="0.130" stop-color="#aedea3"/><stop offset="0.139" stop-color="#a6dba4"/><stop offset="0.167" stop-color="#97d5a4"/><stop offset="0.235" stop-color="#8bd0a4"/><stop offset="0.303" stop-color="#7bcaa5"/><stop offset="0.370" stop-color="#62bda7"/><stop offset="0.438" stop-color="#4ba4b1"/><stop offset="0.506" stop-color="#388fba"/><stop offset="0.576" stop-color="#3782ba"/><stop offset="0.643" stop-color="#3e79b6"/><stop offset="0.711" stop-color="#486cb0"/><stop offset="0.779" stop-color="#5061aa"/><stop offset="0.847" stop-color="#5659a7"/><stop offset="0.915" stop-color="#5659a7"/><stop offset="1.000" stop-color="#4f63ab"/></linearGradient><linearGradient id="a89" x1="0" y1="0" x2="0" y2="1"><stop offset="0.000" stop-color="#b31947"/><stop offset="0.010" stop-color="#ba2049"/><stop offset="0.017" stop-color="#be254a"/><stop offset="0.024" stop-color="#c2294b"/><stop offset="0.031" stop-color="#ce364d"/><stop offset="0.038" stop-color="#dc494c"/><stop offset="0.045" stop-color="#e85c47"/><stop offset="0.052" stop-color="#f67c4a"/><stop offset="0.059" stop-color="#fba25c"/><stop offset="0.066" stop-color="#fdc070"/><stop offset="0.073" stop-color="#fed985"/><stop offset="0.080" stop-color="#feec9e"/><stop offset="0.087" stop-color="#fffbb9"/><stop offset="0.096" stop-color="#f2faab"/><stop offset="0.104" stop-color="#c8e99e"/><stop offset="0.113" stop-color="#bce4a1"/><stop offset="0.122" stop-color="#b5e1a2"/><stop offset="0.130" stop-color="#addea4"/><stop offset="0.139" stop-color="#a5dba4"/><stop offset="0.167" stop-color="#96d5a4"/><stop offset="0.235" stop-color="#8ad0a4"/><stop offset="0.303" stop-color="#7acaa5"/><stop offset="0.370" stop-color="#61bca7"/><stop offset="0.438" stop-color="#4ba3b2"/><stop offset="0.506" stop-color="#388fba"/><stop offset="0.576" stop-color="#3781ba"/><stop offset="0.643" stop-color="#3f78b5"/><stop offset="0.711" stop-color="#486baf"/><stop offset="0.779" stop-color="#5160aa"/><stop offset="0.847" stop-color="#5758a6"/><stop offset="0.915" stop-color="#5758a6"/><stop offset="1.000" stop-color="#4f62ab"/></linearGradient><linearGradient id="a90" x1="0" y1="0" x2="0" y2="1"><stop offset="0.000" stop-color="#b31947"/><stop offset="0.010" stop-color="#ba2049"/><stop offset="0.017" stop-color="#be254a"/><stop offset="0.024" stop-color="#c2294b"/><stop offset="0.031" stop-color="#cd354d"/><stop offset="0.038" stop-color="#dc494c"/><stop offset="0.045" stop-color="#e85b48"/><stop offset="0.052" stop-color="#f67a49"/><stop offset="0.059" stop-color="#fba15b"/><stop offset="0.066" stop-color="#fdbf6f"/><stop offset="0.073" stop-color="#fed885"/><stop offset="0.080" stop-color="#feeb9e"/><stop offset="0.087" stop-color="#fffbb8"/><stop offset="0.096" stop-color="#f2faab"/><stop offset="0.104" stop-color="#c8e99e"/><stop offset="0.113" stop-color="#bce4a1"/><stop offset="0.122" stop-color="#b4e1a2"/><stop offset="0.130" stop-color="#addea4"/><stop offset="0.139" stop-color="#a5dba4"/><stop offset="0.167" stop-color="#96d5a4"/><stop offset="0.235" stop-color="#89d0a4"/><stop offset="0.303" stop-color="#79caa5"/><stop offset="0.370" stop-color="#61bca7"/><stop offset="0.438" stop-color="#4ba4b2"/><stop offset="0.506" stop-color="#388fba"/><stop offset="0.576" stop-color="#3782ba"/><stop offset="0.643" stop-color="#3f78b5"/><stop offset="0.711" stop-color="#496baf"/><stop offset="0.779" stop-color="#5160aa"/><stop offset="0.847" stop-color="#5758a6"/><stop offset="0.915" stop-color="#5758a6"/><stop offset="1.000" stop-color="#4f62ab"/></linearGradient><linearGradient id="a91" x1="0" y1="0" x2="0" y2="1"><stop offset="0.000" stop-color="#b31947"/><stop offset="0.010" stop-color="#ba2049"/><stop offset="0.017" stop-color="#be244a"/><stop offset="0.024" stop-color="#c2294b"/><stop offset="0.031" stop-color="#cc344d"/><stop offset="0.038" stop-color="#dc484c"/><stop offset="0.045" stop-color="#e75a48"/><stop offset="0.052" stop-color="#f67948"/><stop offset="0.059" stop-color="#fba05a"/><stop offset="0.066" stop-color="#fdbe6e"/><stop offset="0.073" stop-color="#fed784"/><stop offset="0.080" stop-color="#feea9d"/><stop offset="0.087" stop-color="#fffab7"/><stop offset="0.096" stop-color="#f3faac"/><stop offset="0.104" stop-color="#c8e99e"/><stop offset="0.113" stop-color="#bce4a1"/><stop offset="0.122" stop-color="#b5e1a2"/><stop offset="0.130" stop-color="#addea4"/><stop offset="0.139" stop-color="#a5dba4"/><stop offset="0.167" stop-color="#96d5a4"/><stop offset="0.235" stop-color="#89d0a4"/><stop offset="0.303" stop-color="#79caa5"/><stop offset="0.370" stop-color="#61bca7"/><stop offset="0.438" stop-color="#4ba4b1"/><stop offset="0.506" stop-color="#3990ba"/><stop offset="0.576" stop-color="#3682ba"/><stop offset="0.643" stop-color="#3e78b5"/><stop offset="0.711" stop-color="#486baf"/><stop offset="0.779" stop-color="#5160aa"/><stop offset="0.847" stop-color="#5758a6"/><stop offset="0.915" stop-color="#5758a6"/><stop offset="1.000" stop-color="#4f62ab"/></linearGradient><linearGradient id="a92" x1="0" y1="0" x2="0" y2="1"><stop offset="0.000" stop-color="#b41947"/><stop offset="0.010" stop-color="#ba2049"/><stop offset="0.017" stop-color="#bf254a"/><stop offset="0.024" stop-color="#c32a4b"/><stop offset="0.031" stop-color="#cc344d"/><stop offset="0.038" stop-color="#dc484c"/><stop offset="0.045" stop-color="#e75a48"/><stop offset="0.052" stop-color="#f67848"/><stop offset="0.059" stop-color="#fb9f5a"/><stop offset="0.066" stop-color="#fdbe6e"/><stop offset="0.073" stop-color="#fed784"/><stop offset="0.080" stop-color="#feea9c"/><stop offset="0.087" stop-color="#fffab7"/><stop offset="0.096" stop-color="#f3faac"/><stop offset="0.104" stop-color="#c8e99e"/><stop offset="0.113" stop-color="#bbe4a1"/><stop offset="0.122" stop-color="#b4e1a2"/><stop offset="0.130" stop-color="#acdea4"/><stop offset="0.139" stop-color="#a4daa4"/><stop offset="0.167" stop-color="#95d4a4"/><stop offset="0.235" stop-color="#88cfa5"/><stop offset="0.303" stop-color="#78c9a5"/><stop offset="0.370" stop-color="#60bba8"/><stop offset="0.438" stop-color="#4ba4b2"/><stop offset="0.506" stop-color="#3990ba"/><stop offset="0.576" stop-color="#3782ba"/><stop offset="0.643" stop-color="#3f77b5"/><stop offset="0.711" stop-color="#496aaf"/><stop offset="0.779" stop-color="#525faa"/><stop offset="0.847" stop-color="#5857a6"/><stop offset="0.915" stop-color="#5857a6"/><stop offset="1.000" stop-color="#5061ab"/></linearGradient><linearGradient id="a93" x1="0" y1="0" x2="0" y2="1"><stop offset="0.000" stop-color="#b41947"/><stop offset="0.010" stop-color="#ba2049"/><stop offset="0.017" stop-color="#bf254a"/><stop offset="0.024" stop-color="#c32a4b"/><stop offset="0.031" stop-color="#cc334d"/><stop offset="0.038" stop-color="#db474d"/><stop offset="0.045" stop-color="#e75948"/><stop offset="0.052" stop-color="#f57748"/><stop offset="0.059" stop-color="#fb9e5a"/><stop offset="0.066" stop-color="#fdbd6e"/><stop offset="0.073" stop-color="#fed683"/><stop offset="0.080" stop-color="#feea9c"/><stop offset="0.087" stop-color="#fffab6"/><stop offset="0.096" stop-color="#f3faad"/><stop offset="0.104" stop-color="#c7e99e"/><stop offset="0.113" stop-color="#bbe3a1"/><stop offset="0.122" stop-color="#b4e0a2"/><stop offset="0.130" stop-color="#acdda4"/><stop offset="0.139" stop-color="#a4daa4"/><stop offset="0.167" stop-color="#94d4a4"/><stop offset="0.235" stop-color="#87cfa5"/><stop offset="0.303" stop-color="#77c9a5"/><stop offset="0.370" stop-color="#60bba8"/><stop offset="0.438" stop-color="#4ba4b2"/><stop offset="0.506" stop-color="#3990ba"/><stop offset="0.576" stop-color="#3782ba"/><stop offset="0.643" stop-color="#3f77b5"/><stop offset="0.711" stop-color="#496aaf"/><stop offset="0.779" stop-color="#525faa"/><stop offset="0.847" stop-color="#5857a6"/><stop offset="0.915" stop-color="#5857a6"/><stop offset="1.000" stop-color="#5061ab"/></linearGradient><linearGradient id="a94" x1="0" y1="0" x2="0" y2="1"><stop offset="0.000" stop-color="#b51a47"/><stop offset="0.010" stop-color="#bb2149"/><stop offset="0.017" stop-color="#bf264a"/><stop offset="0.024" stop-color="#c32a4b"/><stop offset="0.031" stop-color="#cb334d"/><stop offset="0.038" stop-color="#db474d"/><stop offset="0.045" stop-color="#e75948"/><stop offset="0.052" stop-color="#f57747"/><stop offset="0.059" stop-color="#fb9d59"/><stop offset="0.066" stop-color="#fdbd6d"/><stop offset="0.073" stop-color="#fed683"/><stop offset="0.080" stop-color="#feea9b"/><stop offset="0.087" stop-color="#fffab6"/><stop offset="0.096" stop-color="#f4faad"/><stop offset="0.104" stop-color="#c7e89e"/><stop offset="0.113" stop-color="#bae3a1"/><stop offset="0.122" stop-color="#b3e0a2"/><stop offset="0.130" stop-color="#abdda4"/><stop offset="0.139" stop-color="#a3daa4"/><stop offset="0.167" stop-color="#93d4a4"/><stop offset="0.235" stop-color="#85cea5"/><stop offset="0.303" stop-color="#75c8a5"/><stop offset="0.370" stop-color="#5fbaa8"/><stop offset="0.438" stop-color="#4aa3b2"/><stop offset="0.506" stop-color="#3990ba"/><stop offset="0.576" stop-color="#3782ba"/><stop offset="0.643" stop-color="#3f77b5"/><stop offset="0.711" stop-color="#4a6aaf"/><stop offset="0.779" stop-color="#525ea9"/><stop offset="0.847" stop-color="#5856a5"/><stop offset="0.915" stop-color="#5856a5"/><stop offset="1.000" stop-color="#5160aa"/></linearGradient><linearGradient id="a95" x1="0" y1="0" x2="0" y2="1"><stop offset="0.000" stop-color="#b41947"/><stop offset="0.010" stop-color="#ba2049"/><stop offset="0.017" stop-color="#be254a"/><stop offset="0.024" stop-color="#c2294b"/><stop offset="0.031" stop-color="#ca324c"/><stop offset="0.038" stop-color="#da464d"/><stop offset="0.045" stop-color="#e65848"/><stop offset="0.052" stop-color="#f57546"/><stop offset="0.059" stop-color="#fa9b58"/><stop offset="0.066" stop-color="#fdbb6c"/><stop offset="0.073" stop-color="#fed581"/><stop offset="0.080" stop-color="#fee99a"/><stop offset="0.087" stop-color="#fff9b4"/><stop offset="0.096" stop-color="#f4fbae"/><stop offset="0.104" stop-color="#c7e99e"/><stop offset="0.113" stop-color="#bbe3a1"/><stop offset="0.122" stop-color="#b3e0a2"/><stop offset="0.130" stop-color="#acdda4"/><stop offset="0.139" stop-color="#a4daa4"/><stop offset="0.167" stop-color="#94d4a4"/><stop offset="0.235" stop-color="#85cea5"/><stop offset="0.303" stop-color="#75c8a5"/><stop offset="0.370" stop-color="#5fbaa8"/><stop offset="0.438" stop-color="#4ba4b1"/><stop offset="0.506" stop-color="#3a91b9"/><stop offset="0.576" stop-color="#3683ba"/><stop offset="0.643" stop-color="#3f78b5"/><stop offset="0.711" stop-color="#496aaf"/><stop offset="0.779" stop-color="#525faa"/><stop offset="0.847" stop-color="#5857a6"/><stop offset="0.915" stop-color="#5857a6"/><stop offset="1.000" stop-color="#5061ab"/></linearGradient><linearGradient id="b0" x1="0" y1="0" x2="0" y2="1"><stop offset="0.000" stop-color="#ab0f45"/><stop offset="0.040" stop-color="#b51b47"/><stop offset="0.080" stop-color="#bf264a"/><stop offset="0.120" stop-color="#da454d"/><stop offset="0.160" stop-color="#ee6445"/><stop offset="0.200" stop-color="#f98f53"/><stop offset="0.240" stop-color="#fdb566"/><stop offset="0.280" stop-color="#fecb79"/><stop offset="0.320" stop-color="#fee18d"/><stop offset="0.360" stop-color="#feeea2"/><stop offset="0.400" stop-color="#fffab7"/><stop offset="0.440" stop-color="#f5fbb0"/><stop offset="0.480" stop-color="#e7f599"/><stop offset="0.520" stop-color="#daf09a"/><stop offset="0.560" stop-color="#cdeb9d"/><stop offset="0.600" stop-color="#c0e5a0"/><stop offset="0.650" stop-color="#b6e2a2"/><stop offset="0.700" stop-color="#addea4"/><stop offset="0.750" stop-color="#a2d9a4"/><stop offset="0.800" stop-color="#9bd7a4"/><stop offset="0.850" stop-color="#95d5a4"/><stop offset="0.900" stop-color="#90d2a4"/><stop offset="0.950" stop-color="#8ad0a4"/><stop offset="1.000" stop-color="#84cea5"/></linearGradient><linearGradient id="b1" x1="0" y1="0" x2="0" y2="1"><stop offset="0.000" stop-color="#ac1045"/><stop offset="0.040" stop-color="#b61b48"/><stop offset="0.080" stop-color="#bf264a"/><stop offset="0.120" stop-color="#d6404f"/><stop offset="0.160" stop-color="#ea5d47"/><stop offset="0.200" stop-color="#f7844e"/><stop offset="0.240" stop-color="#fdb063"/><stop offset="0.280" stop-color="#fec776"/><stop offset="0.320" stop-color="#fede89"/><stop offset="0.360" stop-color="#feeca0"/><stop offset="0.400" stop-color="#fff9b5"/><stop offset="0.440" stop-color="#f6fcb2"/><stop offset="0.480" stop-color="#e7f599"/><stop offset="0.520" stop-color="#d9f09b"/><stop offset="0.560" stop-color="#cbea9d"/><stop offset="0.600" stop-color="#bee5a0"/><stop offset="0.650" stop-color="#b4e1a2"/><stop offset="0.700" stop-color="#abdda4"/><stop offset="0.750" stop-color="#a0d9a4"/><stop offset="0.800" stop-color="#99d6a4"/><stop offset="0.850" stop-color="#93d4a4"/><stop offset="0.900" stop-color="#8dd1a4"/><stop offset="0.950" stop-color="#88cfa5"/><stop offset="1.000" stop-color="#82cda5"/></linearGradient><linearGradient id="b2" x1="0" y1="0" x2="0" y2="1"><stop offset="0.000" stop-color="#ab0f45"/><stop offset="0.040" stop-color="#b41a47"/><stop offset="0.080" stop-color="#be2449"/><stop offset="0.120" stop-color="#cf374e"/><stop offset="0.160" stop-color="#e55649"/><stop offset="0.200" stop-color="#f57748"/><stop offset="0.240" stop-color="#fca55d"/><stop offset="0.280" stop-color="#fdc171"/><stop offset="0.320" stop-color="#fed985"/><stop offset="0.360" stop-color="#feea9b"/><stop offset="0.400" stop-color="#fff7b1"/><stop offset="0.440" stop-color="#f9fdb5"/><stop offset="0.480" stop-color="#e9f69c"/><stop offset="0.520" stop-color="#daf09a"/><stop offset="0.560" stop-color="#ccea9d"/><stop offset="0.600" stop-color="#bee5a0"/><stop offset="0.650" stop-color="#b4e1a2"/><stop offset="0.700" stop-color="#abdda4"/><stop offset="0.750" stop-color="#a0d9a4"/><stop offset="0.800" stop-color="#99d6a4"/><stop offset="0.850" stop-color="#93d4a4"/><stop offset="0.900" stop-color="#8dd1a4"/><stop offset="0.950" stop-color="#88cfa5"/><stop offset="1.000" stop-color="#82cda5"/></linearGradient><linearGradient id="b3" x1="0" y1="0" x2="0" y2="1"><stop offset="0.000" stop-color="#ac1145"/><stop offset="0.040" stop-color="#b51b48"/><stop offset="0.080" stop-color="#be254a"/><stop offset="0.120" stop-color="#ca324c"/><stop offset="0.160" stop-color="#e1504a"/><stop offset="0.200" stop-color="#f46d43"/><stop offset="0.240" stop-color="#fa9b58"/><stop offset="0.280" stop-color="#fdbd6e"/><stop offset="0.320" stop-color="#fed582"/><stop offset="0.360" stop-color="#fee899"/><stop offset="0.400" stop-color="#fff6af"/><stop offset="0.440" stop-color="#fafdb8"/><stop offset="0.480" stop-color="#eaf69e"/><stop offset="0.520" stop-color="#d9f09b"/><stop offset="0.560" stop-color="#cbea9e"/><stop offset="0.600" stop-color="#bde4a0"/><stop offset="0.650" stop-color="#b2e0a3"/><stop offset="0.700" stop-color="#a8dca4"/><stop offset="0.750" stop-color="#9dd8a4"/><stop offset="0.800" stop-color="#96d5a4"/><stop offset="0.850" stop-color="#90d3a4"/><stop offset="0.900" stop-color="#8bd0a4"/><stop offset="0.950" stop-color="#85cea5"/><stop offset="1.000" stop-color="#80cca5"/></linearGradient><linearGradient id="b4" x1="0" y1="0" x2="0" y2="1"><stop offset="0.000" stop-color="#a80c44"/><stop offset="0.040" stop-color="#b11646"/><stop offset="0.080" stop-color="#ba2049"/><stop offset="0.120" stop-color="#c2294b"/><stop offset="0.160" stop-color="#db474d"/><stop offset="0.200" stop-color="#ec6246"/><stop offset="0.240" stop-color="#f88b51"/><stop offset="0.280" stop-color="#fdb466"/><stop offset="0.320" stop-color="#fecc7a"/><stop offset="0.360" stop-color="#fee390"/><stop offset="0.400" stop-color="#fff1a8"/><stop offset="0.440" stop-color="#ffffbe"/><stop offset="0.480" stop-color="#edf8a3"/><stop offset="0.520" stop-color="#ddf19a"/><stop offset="0.560" stop-color="#cfec9d"/><stop offset="0.600" stop-color="#c1e6a0"/><stop offset="0.650" stop-color="#b6e1a2"/><stop offset="0.700" stop-color="#acdea4"/><stop offset="0.750" stop-color="#a2d9a4"/><stop offset="0.800" stop-color="#9ad6a4"/><stop offset="0.850" stop-color="#94d4a4"/><stop offset="0.900" stop-color="#8fd2a4"/><stop offset="0.950" stop-color="#89d0a4"/><stop offset="1.000" stop-color="#84cea5"/></linearGradient><linearGradient id="b5" x1="0" y1="0" x2="0" y2="1"><stop offset="0.000" stop-color="#a70c44"/><stop offset="0.040" stop-color="#b01546"/><stop offset="0.080" stop-color="#b81e48"/><stop offset="0.120" stop-color="#c1284a"/><stop offset="0.160" stop-color="#d7404e"/><stop offset="0.200" stop-color="#e85a48"/><stop offset="0.240" stop-color="#f67e4b"/><stop offset="0.280" stop-color="#fdac60"/><stop offset="0.320" stop-color="#fdc675"/><stop offset="0.360" stop-color="#fedf8a"/><stop offset="0.400" stop-color="#feefa3"/><stop offset="0.440" stop-color="#fffdbc"/><stop offset="0.480" stop-color="#eff9a6"/><stop offset="0.520" stop-color="#def29a"/><stop offset="0.560" stop-color="#d0ec9d"/><stop offset="0.600" stop-color="#c1e6a0"/><stop offset="0.650" stop-color="#b6e1a2"/><stop offset="0.700" stop-color="#acdea4"/><stop offset="0.750" stop-color="#a2d9a4"/><stop offset="0.800" stop-color="#9ad6a4"/><stop offset="0.850" stop-color="#94d4a4"/><stop offset="0.900" stop-color="#8fd2a4"/><stop offset="0.950" stop-color="#89d0a4"/><stop offset="1.000" stop-color="#84cea5"/></linearGradient><linearGradient id="b6" x1="0" y1="0" x2="0" y2="1"><stop offset="0.000" stop-color="#a70b44"/><stop offset="0.040" stop-color="#af1446"/><stop offset="0.080" stop-color="#b71d48"/><stop offset="0.120" stop-color="#bf264a"/><stop offset="0.160" stop-color="#d0384e"/><stop offset="0.200" stop-color="#e3534a"/><stop offset="0.240" stop-color="#f57145"/><stop offset="0.280" stop-color="#fb9f5a"/><stop offset="0.320" stop-color="#fdc070"/><stop offset="0.360" stop-color="#feda86"/><stop offset="0.400" stop-color="#feec9f"/><stop offset="0.440" stop-color="#fffbb8"/><stop offset="0.480" stop-color="#f2faaa"/><stop offset="0.520" stop-color="#e0f399"/><stop offset="0.560" stop-color="#d1ec9c"/><stop offset="0.600" stop-color="#c2e69f"/><stop offset="0.650" stop-color="#b6e2a2"/><stop offset="0.700" stop-color="#addea4"/><stop offset="0.750" stop-color="#a2d9a4"/><stop offset="0.800" stop-color="#9ad6a4"/><stop offset="0.850" stop-color="#94d4a4"/><stop offset="0.900" stop-color="#8fd2a4"/><stop offset="0.950" stop-color="#89d0a4"/><stop offset="1.000" stop-color="#84cea5"/></linearGradient><linearGradient id="b7" x1="0" y1="0" x2="0" y2="1"><stop offset="0.000" stop-color="#a50944"/><stop offset="0.040" stop-color="#ad1146"/><stop offset="0.080" stop-color="#b41a47"/><stop offset="0.120" stop-color="#bc2249"/><stop offset="0.160" stop-color="#c62e4c"/><stop offset="0.200" stop-color="#de4b4c"/><stop offset="0.240" stop-color="#ef6645"/><stop offset="0.280" stop-color="#f99154"/><stop offset="0.320" stop-color="#fdb869"/><stop offset="0.360" stop-color="#fed380"/><stop offset="0.400" stop-color="#fee899"/><stop offset="0.440" stop-color="#fff8b3"/><stop offset="0.480" stop-color="#f5fbaf"/><stop offset="0.520" stop-color="#e3f499"/><stop offset="0.560" stop-color="#d3ed9c"/><stop offset="0.600" stop-color="#c4e79f"/><stop offset="0.650" stop-color="#b8e2a1"/><stop offset="0.700" stop-color="#aedea3"/><stop offset="0.750" stop-color="#a3daa4"/><stop offset="0.800" stop-color="#9bd7a4"/><stop offset="0.850" stop-color="#96d5a4"/><stop offset="0.900" stop-color="#90d3a4"/><stop offset="0.950" stop-color="#8bd1a4"/><stop offset="1.000" stop-color="#86cea5"/></linearGradient><linearGradient id="b8" x1="0" y1="0" x2="0" y2="1"><stop offset="0.000" stop-color="#a40843"/><stop offset="0.040" stop-color="#ac1045"/><stop offset="0.080" stop-color="#b31847"/><stop offset="0.120" stop-color="#ba2049"/><stop offset="0.160" stop-color="#c2294a"/><stop offset="0.200" stop-color="#d9444d"/><stop offset="0.240" stop-color="#ea5e47"/><stop offset="0.280" stop-color="#f7844e"/><stop offset="0.320" stop-color="#fdb063"/><stop offset="0.360" stop-color="#fecc7b"/><stop offset="0.400" stop-color="#fee594"/><stop offset="0.440" stop-color="#fff5ae"/><stop offset="0.480" stop-color="#f8fcb4"/><stop offset="0.520" stop-color="#e5f498"/><stop offset="0.560" stop-color="#d5ee9b"/><stop offset="0.600" stop-color="#c6e89f"/><stop offset="0.650" stop-color="#b8e2a1"/><stop offset="0.700" stop-color="#afdea3"/><stop offset="0.750" stop-color="#a4daa4"/><stop offset="0.800" stop-color="#9bd7a4"/><stop offset="0.850" stop-color="#96d5a4"/><stop offset="0.900" stop-color="#91d3a4"/><stop offset="0.950" stop-color="#8cd1a4"/><stop offset="1.000" stop-color="#87cfa5"/></linearGradient><linearGradient id="b9" x1="0" y1="0" x2="0" y2="1"><stop offset="0.000" stop-color="#a50944"/><stop offset="0.040" stop-color="#ac1145"/><stop offset="0.080" stop-color="#b31947"/><stop offset="0.120" stop-color="#ba2049"/><stop offset="0.160" stop-color="#c1284a"/><stop offset="0.200" stop-color="#d53e4f"/><stop offset="0.240" stop-color="#e65848"/><stop offset="0.280" stop-color="#f67949"/><stop offset="0.320" stop-color="#fca75e"/><stop offset="0.360" stop-color="#fdc776"/><stop offset="0.400" stop-color="#fee28f"/><stop offset="0.440" stop-color="#fff3ab"/><stop offset="0.480" stop-color="#fafdb7"/><stop offset="0.520" stop-color="#e5f498"/><stop offset="0.560" stop-color="#d5ee9b"/><stop offset="0.600" stop-color="#c5e89f"/><stop offset="0.650" stop-color="#b7e2a2"/><stop offset="0.700" stop-color="#addea4"/><stop offset="0.750" stop-color="#a2daa4"/><stop offset="0.800" stop-color="#9ad6a4"/><stop offset="0.850" stop-color="#94d4a4"/><stop offset="0.900" stop-color="#8fd2a4"/><stop offset="0.950" stop-color="#8ad0a4"/><stop offset="1.000" stop-color="#85cea5"/></linearGradient><linearGradient id="b10" x1="0" y1="0" x2="0" y2="1"><stop offset="0.000" stop-color="#a40843"/><stop offset="0.040" stop-color="#ab0f45"/><stop offset="0.080" stop-color="#b21747"/><stop offset="0.120" stop-color="#b91e48"/><stop offset="0.160" stop-color="#bf264a"/><stop offset="0.200" stop-color="#cc344d"/><stop offset="0.240" stop-color="#e1514a"/><stop offset="0.280" stop-color="#f36c43"/><stop offset="0.320" stop-color="#fa9a58"/><stop offset="0.360" stop-color="#fdbf6f"/><stop offset="0.400" stop-color="#fedd89"/><stop offset="0.440" stop-color="#fff0a6"/><stop offset="0.480" stop-color="#fefebd"/><stop offset="0.520" stop-color="#e8f69b"/><stop offset="0.560" stop-color="#d7ef9b"/><stop offset="0.600" stop-color="#c7e89e"/><stop offset="0.650" stop-color="#b8e2a1"/><stop offset="0.700" stop-color="#aedea3"/><stop offset="0.750" stop-color="#a3daa4"/><stop offset="0.800" stop-color="#9ad6a4"/><stop offset="0.850" stop-color="#95d4a4"/><stop offset="0.900" stop-color="#90d2a4"/><stop offset="0.950" stop-color="#8bd1a4"/><stop offset="1.000" stop-color="#86cfa5"/></linearGradient><linearGradient id="b11" x1="0" y1="0" x2="0" y2="1"><stop offset="0.000" stop-color="#a30643"/><stop offset="0.040" stop-color="#a90e45"/><stop offset="0.080" stop-color="#b01546"/><stop offset="0.120" stop-color="#b71c48"/><stop offset="0.160" stop-color="#bd2449"/><stop offset="0.200" stop-color="#c42b4b"/><stop offset="0.240" stop-color="#dc494c"/><stop offset="0.280" stop-color="#ed6346"/><stop offset="0.320" stop-color="#f88d52"/><stop offset="0.360" stop-color="#fdb768"/><stop offset="0.400" stop-color="#fed683"/><stop offset="0.440" stop-color="#feeca0"/><stop offset="0.480" stop-color="#fffdbc"/><stop offset="0.520" stop-color="#ebf7a0"/><stop offset="0.560" stop-color="#d9f09b"/><stop offset="0.600" stop-color="#c9e99e"/><stop offset="0.650" stop-color="#b9e3a1"/><stop offset="0.700" stop-color="#afdfa3"/><stop offset="0.750" stop-color="#a4daa4"/><stop offset="0.800" stop-color="#9bd7a4"/><stop offset="0.850" stop-color="#96d5a4"/><stop offset="0.900" stop-color="#91d3a4"/><stop offset="0.950" stop-color="#8cd1a4"/><stop offset="1.000" stop-color="#87cfa5"/></linearGradient><linearGradient id="b12" x1="0" y1="0" x2="0" y2="1"><stop offset="0.000" stop-color="#a10443"/><stop offset="0.040" stop-color="#a70b44"/><stop offset="0.080" stop-color="#ae1246"/><stop offset="0.120" stop-color="#b41947"/><stop offset="0.160" stop-color="#ba2049"/><stop offset="0.200" stop-color="#c1284a"/><stop offset="0.240" stop-color="#d7414e"/><stop offset="0.280" stop-color="#e85a48"/><stop offset="0.320" stop-color="#f67e4b"/><stop offset="0.360" stop-color="#fdac60"/><stop offset="0.400" stop-color="#fecd7b"/><stop offset="0.440" stop-color="#fee899"/><stop offset="0.480" stop-color="#fffab6"/><stop offset="0.520" stop-color="#eff8a5"/><stop offset="0.560" stop-color="#dcf19a"/><stop offset="0.600" stop-color="#ccea9d"/><stop offset="0.650" stop-color="#bbe4a1"/><stop offset="0.700" stop-color="#b1dfa3"/><stop offset="0.750" stop-color="#a6dba4"/><stop offset="0.800" stop-color="#9dd7a4"/><stop offset="0.850" stop-color="#98d6a4"/><stop offset="0.900" stop-color="#93d4a4"/><stop offset="0.950" stop-color="#8ed2a4"/><stop offset="1.000" stop-color="#8ad0a4"/></linearGradient><linearGradient id="b13" x1="0" y1="0" x2="0" y2="1"><stop offset="0.000" stop-color="#a00343"/><stop offset="0.040" stop-color="#a60a44"/><stop offset="0.080" stop-color="#ad1145"/><stop offset="0.120" stop-color="#b31847"/><stop offset="0.160" stop-color="#b91f48"/><stop offset="0.200" stop-color="#bf264a"/><stop offset="0.240" stop-color="#d0384e"/><stop offset="0.280" stop-color="#e3534a"/><stop offset="0.320" stop-color="#f57145"/><stop offset="0.360" stop-color="#fb9f5a"/><stop offset="0.400" stop-color="#fdc575"/><stop offset="0.440" stop-color="#fee593"/><stop offset="0.480" stop-color="#fff7b1"/><stop offset="0.520" stop-color="#f2faaa"/><stop offset="0.560" stop-color="#def29a"/><stop offset="0.600" stop-color="#cdeb9d"/><stop offset="0.650" stop-color="#bbe4a1"/><stop offset="0.700" stop-color="#b1e0a3"/><stop offset="0.750" stop-color="#a6dba4"/><stop offset="0.800" stop-color="#9dd7a4"/><stop offset="0.850" stop-color="#98d6a4"/><stop offset="0.900" stop-color="#93d4a4"/><stop offset="0.950" stop-color="#8fd2a4"/><stop offset="1.000" stop-color="#8ad0a4"/></linearGradient><linearGradient id="b14" x1="0" y1="0" x2="0" y2="1"><stop offset="0.000" stop-color="#a20543"/><stop offset="0.040" stop-color="#a80c44"/><stop offset="0.080" stop-color="#ae1346"/><stop offset="0.120" stop-color="#b41947"/><stop offset="0.160" stop-color="#ba2049"/><stop offset="0.200" stop-color="#c0274a"/><stop offset="0.240" stop-color="#cd354d"/><stop offset="0.280" stop-color="#e1514a"/><stop offset="0.320" stop-color="#f46c43"/><stop offset="0.360" stop-color="#fa9a58"/><stop offset="0.400" stop-color="#fdc272"/><stop offset="0.440" stop-color="#fee491"/><stop offset="0.480" stop-color="#fff6b0"/><stop offset="0.520" stop-color="#f3faac"/><stop offset="0.560" stop-color="#ddf19a"/><stop offset="0.600" stop-color="#ccea9d"/><stop offset="0.650" stop-color="#bae3a1"/><stop offset="0.700" stop-color="#afdfa3"/><stop offset="0.750" stop-color="#a4daa4"/><stop offset="0.800" stop-color="#9ad6a4"/><stop offset="0.850" stop-color="#96d5a4"/><stop offset="0.900" stop-color="#91d3a4"/><stop offset="0.950" stop-color="#8dd1a4"/><stop offset="1.000" stop-color="#88cfa5"/></linearGradient><linearGradient id="b15" x1="0" y1="0" x2="0" y2="1"><stop offset="0.000" stop-color="#a20543"/><stop offset="0.040" stop-color="#a80c44"/><stop offset="0.080" stop-color="#ae1346"/><stop offset="0.120" stop-color="#b51a47"/><stop offset="0.160" stop-color="#bb2149"/><stop offset="0.200" stop-color="#c1284a"/><stop offset="0.240" stop-color="#d13a4e"/><stop offset="0.280" stop-color="#e45549"/><stop offset="0.320" stop-color="#f57346"/><stop offset="0.360" stop-color="#fba15b"/><stop offset="0.400" stop-color="#fec877"/><stop offset="0.440" stop-color="#fee797"/><stop offset="0.480" stop-color="#fff8b4"/><stop offset="0.520" stop-color="#f0f9a8"/><stop offset="0.560" stop-color="#dbf19a"/><stop offset="0.600" stop-color="#cbea9e"/><stop offset="0.650" stop-color="#b9e3a1"/><stop offset="0.700" stop-color="#afdfa3"/><stop offset="0.750" stop-color="#a4daa4"/><stop offset="0.800" stop-color="#9ad6a4"/><stop offset="0.850" stop-color="#96d5a4"/><stop offset="0.900" stop-color="#91d3a4"/><stop offset="0.950" stop-color="#8dd1a4"/><stop offset="1.000" stop-color="#88cfa5"/></linearGradient><linearGradient id="b16" x1="0" y1="0" x2="0" y2="1"><stop offset="0.000" stop-color="#a00343"/><stop offset="0.040" stop-color="#a70a44"/><stop offset="0.080" stop-color="#ad1146"/><stop offset="0.120" stop-color="#b31947"/><stop offset="0.160" stop-color="#ba2049"/><stop offset="0.200" stop-color="#c0274a"/><stop offset="0.240" stop-color="#d43d4f"/><stop offset="0.280" stop-color="#e65749"/><stop offset="0.320" stop-color="#f67848"/><stop offset="0.360" stop-color="#fca65d"/><stop offset="0.400" stop-color="#fecb7a"/><stop offset="0.440" stop-color="#fee899"/><stop offset="0.480" stop-color="#fff9b5"/><stop offset="0.520" stop-color="#eef8a5"/><stop offset="0.560" stop-color="#dcf19a"/><stop offset="0.600" stop-color="#ccea9d"/><stop offset="0.650" stop-color="#bbe4a1"/><stop offset="0.700" stop-color="#b1dfa3"/><stop offset="0.750" stop-color="#a6dba4"/><stop offset="0.800" stop-color="#9dd7a4"/><stop offset="0.850" stop-color="#98d6a4"/><stop offset="0.900" stop-color="#94d4a4"/><stop offset="0.950" stop-color="#8fd2a4"/><stop offset="1.000" stop-color="#8bd0a4"/></linearGradient><linearGradient id="b17" x1="0" y1="0" x2="0" y2="1"><stop offset="0.000" stop-color="#a00342"/><stop offset="0.040" stop-color="#a60a44"/><stop offset="0.080" stop-color="#ad1145"/><stop offset="0.120" stop-color="#b31847"/><stop offset="0.160" stop-color="#b91f48"/><stop offset="0.200" stop-color="#c0274a"/><stop offset="0.240" stop-color="#d7404e"/><stop offset="0.280" stop-color="#e85a48"/><stop offset="0.320" stop-color="#f67e4b"/><stop offset="0.360" stop-color="#fdac60"/><stop offset="0.400" stop-color="#fed07e"/><stop offset="0.440" stop-color="#feea9c"/><stop offset="0.480" stop-color="#fffbb8"/><stop offset="0.520" stop-color="#ecf8a2"/><stop offset="0.560" stop-color="#dcf19a"/><stop offset="0.600" stop-color="#ccea9d"/><stop offset="0.650" stop-color="#bce4a1"/><stop offset="0.700" stop-color="#b1e0a3"/><stop offset="0.750" stop-color="#a6dba4"/><stop offset="0.800" stop-color="#9ed8a4"/><stop offset="0.850" stop-color="#99d6a4"/><stop offset="0.900" stop-color="#95d4a4"/><stop offset="0.950" stop-color="#90d3a4"/><stop offset="1.000" stop-color="#8cd1a4"/></linearGradient><linearGradient id="b18" x1="0" y1="0" x2="0" y2="1"><stop offset="0.000" stop-color="#a20543"/><stop offset="0.040" stop-color="#a80c44"/><stop offset="0.080" stop-color="#af1446"/><stop offset="0.120" stop-color="#b51b48"/><stop offset="0.160" stop-color="#bc2249"/><stop offset="0.200" stop-color="#c32a4b"/><stop offset="0.240" stop-color="#da464d"/><stop offset="0.280" stop-color="#eb6046"/><stop offset="0.320" stop-color="#f8884f"/><stop offset="0.360" stop-color="#fdb466"/><stop offset="0.400" stop-color="#fed784"/><stop offset="0.440" stop-color="#feeea2"/><stop offset="0.480" stop-color="#fffdbc"/><stop offset="0.520" stop-color="#e9f69c"/><stop offset="0.560" stop-color="#d8ef9b"/><stop offset="0.600" stop-color="#c9e99e"/><stop offset="0.650" stop-color="#b9e3a1"/><stop offset="0.700" stop-color="#afdfa3"/><stop offset="0.750" stop-color="#a4daa4"/><stop offset="0.800" stop-color="#9bd7a4"/><stop offset="0.850" stop-color="#97d5a4"/><stop offset="0.900" stop-color="#93d3a4"/><stop offset="0.950" stop-color="#8ed2a4"/><stop offset="1.000" stop-color="#8ad0a4"/></linearGradient><linearGradient id="b19" x1="0" y1="0" x2="0" y2="1"><stop offset="0.000" stop-color="#a30643"/><stop offset="0.040" stop-color="#a90e45"/><stop offset="0.080" stop-color="#b01546"/><stop offset="0.120" stop-color="#b71d48"/><stop offset="0.160" stop-color="#be2449"/><stop offset="0.200" stop-color="#c62d4b"/><stop offset="0.240" stop-color="#dd4b4c"/><stop offset="0.280" stop-color="#ef6545"/><stop offset="0.320" stop-color="#f99053"/><stop offset="0.360" stop-color="#fdba6b"/><stop offset="0.400" stop-color="#fede89"/><stop offset="0.440" stop-color="#fff0a6"/><stop offset="0.480" stop-color="#ffffbe"/><stop offset="0.520" stop-color="#e6f598"/><stop offset="0.560" stop-color="#d6ef9b"/><stop offset="0.600" stop-color="#c7e89e"/><stop offset="0.650" stop-color="#b8e2a1"/><stop offset="0.700" stop-color="#aedea3"/><stop offset="0.750" stop-color="#a2daa4"/><stop offset="0.800" stop-color="#9ad6a4"/><stop offset="0.850" stop-color="#96d5a4"/><stop offset="0.900" stop-color="#92d3a4"/><stop offset="0.950" stop-color="#8dd1a4"/><stop offset="1.000" stop-color="#89d0a4"/></linearGradient><linearGradient id="b20" x1="0" y1="0" x2="0" y2="1"><stop offset="0.000" stop-color="#a10443"/><stop offset="0.040" stop-color="#a80c44"/><stop offset="0.080" stop-color="#af1446"/><stop offset="0.120" stop-color="#b61b48"/><stop offset="0.160" stop-color="#bd2349"/><stop offset="0.200" stop-color="#c8304c"/><stop offset="0.240" stop-color="#df4d4b"/><stop offset="0.280" stop-color="#f16844"/><stop offset="0.320" stop-color="#f99555"/><stop offset="0.360" stop-color="#fdbe6e"/><stop offset="0.400" stop-color="#fee18c"/><stop offset="0.440" stop-color="#fff1a8"/><stop offset="0.480" stop-color="#fdfebc"/><stop offset="0.520" stop-color="#e6f598"/><stop offset="0.560" stop-color="#d7ef9b"/><stop offset="0.600" stop-color="#c8e99e"/><stop offset="0.650" stop-color="#bae3a1"/><stop offset="0.700" stop-color="#b0dfa3"/><stop offset="0.750" stop-color="#a4daa4"/><stop offset="0.800" stop-color="#9cd7a4"/><stop offset="0.850" stop-color="#98d6a4"/><stop offset="0.900" stop-color="#94d4a4"/><stop offset="0.950" stop-color="#90d2a4"/><stop offset="1.000" stop-color="#8bd1a4"/></linearGradient><linearGradient id="b21" x1="0" y1="0" x2="0" y2="1"><stop offset="0.000" stop-color="#a40743"/><stop offset="0.040" stop-color="#ab0f45"/><stop offset="0.080" stop-color="#b21747"/><stop offset="0.120" stop-color="#b91f48"/><stop offset="0.160" stop-color="#c0274a"/><stop offset="0.200" stop-color="#d33c4f"/><stop offset="0.240" stop-color="#e55649"/><stop offset="0.280" stop-color="#f57747"/><stop offset="0.320" stop-color="#fca55d"/><stop offset="0.360" stop-color="#feca79"/><stop offset="0.400" stop-color="#fee898"/><stop offset="0.440" stop-color="#fff6b1"/><stop offset="0.480" stop-color="#f6fbb1"/><stop offset="0.520" stop-color="#e2f399"/><stop offset="0.560" stop-color="#d4ed9c"/><stop offset="0.600" stop-color="#c5e89f"/><stop offset="0.650" stop-color="#b8e2a1"/><stop offset="0.700" stop-color="#aedea3"/><stop offset="0.750" stop-color="#a2daa4"/><stop offset="0.800" stop-color="#9ad7a4"/><stop offset="0.850" stop-color="#96d5a4"/><stop offset="0.900" stop-color="#92d3a4"/><stop offset="0.950" stop-color="#8ed2a4"/><stop offset="1.000" stop-color="#89d0a4"/></linearGradient><linearGradient id="b22" x1="0" y1="0" x2="0" y2="1"><stop offset="0.000" stop-color="#a40743"/><stop offset="0.040" stop-color="#ab1045"/><stop offset="0.080" stop-color="#b31847"/><stop offset="0.120" stop-color="#ba2049"/><stop offset="0.160" stop-color="#c1284a"/><stop offset="0.200" stop-color="#d9444d"/><stop offset="0.240" stop-color="#ea5e47"/><stop offset="0.280" stop-color="#f7854e"/><stop offset="0.320" stop-color="#fdb264"/><stop offset="0.360" stop-color="#fed582"/><stop offset="0.400" stop-color="#feec9f"/><stop offset="0.440" stop-color="#fffbb8"/><stop offset="0.480" stop-color="#f1faaa"/><stop offset="0.520" stop-color="#e1f399"/><stop offset="0.560" stop-color="#d3ed9c"/><stop offset="0.600" stop-color="#c5e89f"/><stop offset="0.650" stop-color="#b8e2a1"/><stop offset="0.700" stop-color="#aedea3"/><stop offset="0.750" stop-color="#a3daa4"/><stop offset="0.800" stop-color="#9cd7a4"/><stop offset="0.850" stop-color="#98d5a4"/><stop offset="0.900" stop-color="#93d4a4"/><stop offset="0.950" stop-color="#8fd2a4"/><stop offset="1.000" stop-color="#8bd0a4"/></linearGradient><linearGradient id="b23" x1="0" y1="0" x2="0" y2="1"><stop offset="0.000" stop-color="#a40743"/><stop offset="0.040" stop-color="#ac1045"/><stop offset="0.080" stop-color="#b41947"/><stop offset="0.120" stop-color="#bb2249"/><stop offset="0.160" stop-color="#c82f4c"/><stop offset="0.200" stop-color="#df4c4b"/><stop offset="0.240" stop-color="#f06844"/><stop offset="0.280" stop-color="#f99455"/><stop offset="0.320" stop-color="#fdbd6e"/><stop offset="0.360" stop-color="#fee08c"/><stop offset="0.400" stop-color="#fff1a7"/><stop offset="0.440" stop-color="#feffbe"/><stop offset="0.480" stop-color="#eef8a4"/><stop offset="0.520" stop-color="#e0f299"/><stop offset="0.560" stop-color="#d2ed9c"/><stop offset="0.600" stop-color="#c5e79f"/><stop offset="0.650" stop-color="#b9e3a1"/><stop offset="0.700" stop-color="#afdfa3"/><stop offset="0.750" stop-color="#a4daa4"/><stop offset="0.800" stop-color="#9dd8a4"/><stop offset="0.850" stop-color="#99d6a4"/><stop offset="0.900" stop-color="#95d4a4"/><stop offset="0.950" stop-color="#90d3a4"/><stop offset="1.000" stop-color="#8cd1a4"/></linearGradient><linearGradient id="b24" x1="0" y1="0" x2="0" y2="1"><stop offset="0.000" stop-color="#a60a44"/><stop offset="0.040" stop-color="#ae1346"/><stop offset="0.080" stop-color="#b71c48"/><stop offset="0.120" stop-color="#bf254a"/><stop offset="0.160" stop-color="#d33c4f"/><stop offset="0.200" stop-color="#e55649"/><stop offset="0.240" stop-color="#f57647"/><stop offset="0.280" stop-color="#fca55d"/><stop offset="0.320" stop-color="#feca79"/><stop offset="0.360" stop-color="#fee898"/><stop offset="0.400" stop-color="#fff6b0"/><stop offset="0.440" stop-color="#f9fdb5"/><stop offset="0.480" stop-color="#eaf79e"/><stop offset="0.520" stop-color="#ddf19a"/><stop offset="0.560" stop-color="#cfec9d"/><stop offset="0.600" stop-color="#c2e69f"/><stop offset="0.650" stop-color="#b7e2a2"/><stop offset="0.700" stop-color="#aedea3"/><stop offset="0.750" stop-color="#a3daa4"/><stop offset="0.800" stop-color="#9cd7a4"/><stop offset="0.850" stop-color="#97d5a4"/><stop offset="0.900" stop-color="#93d4a4"/><stop offset="0.950" stop-color="#8fd2a4"/><stop offset="1.000" stop-color="#8bd0a4"/></linearGradient><linearGradient id="b25" x1="0" y1="0" x2="0" y2="1"><stop offset="0.000" stop-color="#a80c44"/><stop offset="0.040" stop-color="#b11646"/><stop offset="0.080" stop-color="#ba2049"/><stop offset="0.120" stop-color="#c3294b"/><stop offset="0.160" stop-color="#db474d"/><stop offset="0.200" stop-color="#ed6246"/><stop offset="0.240" stop-color="#f88a50"/><stop offset="0.280" stop-color="#fdb466"/><stop offset="0.320" stop-color="#fed683"/><stop offset="0.360" stop-color="#feec9f"/><stop offset="0.400" stop-color="#fffab6"/><stop offset="0.440" stop-color="#f6fbb1"/><stop offset="0.480" stop-color="#e7f69a"/><stop offset="0.520" stop-color="#daf09a"/><stop offset="0.560" stop-color="#cdeb9d"/><stop offset="0.600" stop-color="#c0e6a0"/><stop offset="0.650" stop-color="#b6e1a2"/><stop offset="0.700" stop-color="#addea4"/><stop offset="0.750" stop-color="#a2d9a4"/><stop offset="0.800" stop-color="#9bd7a4"/><stop offset="0.850" stop-color="#97d5a4"/><stop offset="0.900" stop-color="#92d3a4"/><stop offset="0.950" stop-color="#8ed2a4"/><stop offset="1.000" stop-color="#8ad0a4"/></linearGradient><linearGradient id="b26" x1="0" y1="0" x2="0" y2="1"><stop offset="0.000" stop-color="#a90d45"/><stop offset="0.040" stop-color="#b21747"/><stop offset="0.080" stop-color="#bc2249"/><stop offset="0.120" stop-color="#cc344d"/><stop offset="0.160" stop-color="#e2524a"/><stop offset="0.200" stop-color="#f47044"/><stop offset="0.240" stop-color="#fa9b58"/><stop offset="0.280" stop-color="#fdc070"/><stop offset="0.320" stop-color="#fee08c"/><stop offset="0.360" stop-color="#feefa4"/><stop offset="0.400" stop-color="#fffcb9"/><stop offset="0.440" stop-color="#f4fbae"/><stop offset="0.480" stop-color="#e6f598"/><stop offset="0.520" stop-color="#d9f09b"/><stop offset="0.560" stop-color="#cdeb9d"/><stop offset="0.600" stop-color="#c0e6a0"/><stop offset="0.650" stop-color="#b6e2a2"/><stop offset="0.700" stop-color="#addea4"/><stop offset="0.750" stop-color="#a2d9a4"/><stop offset="0.800" stop-color="#9bd7a4"/><stop offset="0.850" stop-color="#97d5a4"/><stop offset="0.900" stop-color="#93d4a4"/><stop offset="0.950" stop-color="#8fd2a4"/><stop offset="1.000" stop-color="#8bd0a4"/></linearGradient><linearGradient id="b27" x1="0" y1="0" x2="0" y2="1"><stop offset="0.000" stop-color="#ac1045"/><stop offset="0.040" stop-color="#b61c48"/><stop offset="0.080" stop-color="#c1274a"/><stop offset="0.120" stop-color="#d8434e"/><stop offset="0.160" stop-color="#eb6046"/><stop offset="0.200" stop-color="#f7844d"/><stop offset="0.240" stop-color="#fdad60"/><stop offset="0.280" stop-color="#fecc7a"/><stop offset="0.320" stop-color="#fee797"/><stop offset="0.360" stop-color="#fff3aa"/><stop offset="0.400" stop-color="#fffebe"/><stop offset="0.440" stop-color="#f1f9a9"/><stop offset="0.480" stop-color="#e3f499"/><stop offset="0.520" stop-color="#d6ef9b"/><stop offset="0.560" stop-color="#caea9e"/><stop offset="0.600" stop-color="#bee5a0"/><stop offset="0.650" stop-color="#b4e1a2"/><stop offset="0.700" stop-color="#aadda4"/><stop offset="0.750" stop-color="#9fd8a4"/><stop offset="0.800" stop-color="#99d6a4"/><stop offset="0.850" stop-color="#95d4a4"/><stop offset="0.900" stop-color="#91d3a4"/><stop offset="0.950" stop-color="#8dd1a4"/><stop offset="1.000" stop-color="#89d0a4"/></linearGradient><linearGradient id="b28" x1="0" y1="0" x2="0" y2="1"><stop offset="0.000" stop-color="#ad1145"/><stop offset="0.040" stop-color="#b81e48"/><stop offset="0.080" stop-color="#c52c4b"/><stop offset="0.120" stop-color="#e04f4b"/><stop offset="0.160" stop-color="#f46c43"/><stop offset="0.200" stop-color="#f99455"/><stop offset="0.240" stop-color="#fdb869"/><stop offset="0.280" stop-color="#fed683"/><stop offset="0.320" stop-color="#feea9c"/><stop offset="0.360" stop-color="#fff5ae"/><stop offset="0.400" stop-color="#feffbd"/><stop offset="0.440" stop-color="#eff9a6"/><stop offset="0.480" stop-color="#e1f399"/><stop offset="0.520" stop-color="#d5ee9b"/><stop offset="0.560" stop-color="#c9e99e"/><stop offset="0.600" stop-color="#bde4a0"/><stop offset="0.650" stop-color="#b4e1a2"/><stop offset="0.700" stop-color="#aadda4"/><stop offset="0.750" stop-color="#9fd8a4"/><stop offset="0.800" stop-color="#9ad6a4"/><stop offset="0.850" stop-color="#96d5a4"/><stop offset="0.900" stop-color="#92d3a4"/><stop offset="0.950" stop-color="#8ed2a4"/><stop offset="1.000" stop-color="#8ad0a4"/></linearGradient><linearGradient id="b29" x1="0" y1="0" x2="0" y2="1"><stop offset="0.000" stop-color="#ae1346"/><stop offset="0.040" stop-color="#bb2149"/><stop offset="0.080" stop-color="#cd354d"/><stop offset="0.120" stop-color="#e55649"/><stop offset="0.160" stop-color="#f57547"/><stop offset="0.200" stop-color="#fa9b58"/><stop offset="0.240" stop-color="#fdbd6e"/><stop offset="0.280" stop-color="#fedb87"/><stop offset="0.320" stop-color="#feec9e"/><stop offset="0.360" stop-color="#fff6b0"/><stop offset="0.400" stop-color="#fdfebb"/><stop offset="0.440" stop-color="#eef8a4"/><stop offset="0.480" stop-color="#e0f299"/><stop offset="0.520" stop-color="#d4ee9c"/><stop offset="0.560" stop-color="#c8e99e"/><stop offset="0.600" stop-color="#bce4a0"/><stop offset="0.650" stop-color="#b3e0a2"/><stop offset="0.700" stop-color="#a9dca4"/><stop offset="0.750" stop-color="#9ed8a4"/><stop offset="0.800" stop-color="#99d6a4"/><stop offset="0.850" stop-color="#95d4a4"/><stop offset="0.900" stop-color="#91d3a4"/><stop offset="0.950" stop-color="#8dd1a4"/><stop offset="1.000" stop-color="#89d0a4"/></linearGradient><linearGradient id="b30" x1="0" y1="0" x2="0" y2="1"><stop offset="0.000" stop-color="#ad1246"/><stop offset="0.040" stop-color="#ba2049"/><stop offset="0.080" stop-color="#cb334d"/><stop offset="0.120" stop-color="#e2514a"/><stop offset="0.160" stop-color="#f46e43"/><stop offset="0.200" stop-color="#f99455"/><stop offset="0.240" stop-color="#fdb869"/><stop offset="0.280" stop-color="#fed683"/><stop offset="0.320" stop-color="#feea9c"/><stop offset="0.360" stop-color="#fff5ae"/><stop offset="0.400" stop-color="#fdfebd"/><stop offset="0.440" stop-color="#eef8a5"/><stop offset="0.480" stop-color="#e0f399"/><stop offset="0.520" stop-color="#d4ee9c"/><stop offset="0.560" stop-color="#c8e99e"/><stop offset="0.600" stop-color="#bde4a0"/><stop offset="0.650" stop-color="#b3e0a2"/><stop offset="0.700" stop-color="#a9dca4"/><stop offset="0.750" stop-color="#9ed8a4"/><stop offset="0.800" stop-color="#99d6a4"/><stop offset="0.850" stop-color="#95d5a4"/><stop offset="0.900" stop-color="#91d3a4"/><stop offset="0.950" stop-color="#8dd1a4"/><stop offset="1.000" stop-color="#89d0a4"/></linearGradient><linearGradient id="b31" x1="0" y1="0" x2="0" y2="1"><stop offset="0.000" stop-color="#ad1246"/><stop offset="0.040" stop-color="#ba2049"/><stop offset="0.080" stop-color="#c9314c"/><stop offset="0.120" stop-color="#e04e4b"/><stop offset="0.160" stop-color="#f16944"/><stop offset="0.200" stop-color="#f98e52"/><stop offset="0.240" stop-color="#fdb365"/><stop offset="0.280" stop-color="#fed27f"/><stop offset="0.320" stop-color="#fee99a"/><stop offset="0.360" stop-color="#fff4ad"/><stop offset="0.400" stop-color="#feffbd"/><stop offset="0.440" stop-color="#eef8a5"/><stop offset="0.480" stop-color="#e0f299"/><stop offset="0.520" stop-color="#d4ed9c"/><stop offset="0.560" stop-color="#c7e99e"/><stop offset="0.600" stop-color="#bce4a1"/><stop offset="0.650" stop-color="#b2e0a2"/><stop offset="0.700" stop-color="#a9dca4"/><stop offset="0.750" stop-color="#9ed8a4"/><stop offset="0.800" stop-color="#99d6a4"/><stop offset="0.850" stop-color="#95d4a4"/><stop offset="0.900" stop-color="#91d3a4"/><stop offset="0.950" stop-color="#8cd1a4"/><stop offset="1.000" stop-color="#88cfa5"/></linearGradient><linearGradient id="b32" x1="0" y1="0" x2="0" y2="1"><stop offset="0.000" stop-color="#ad1145"/><stop offset="0.040" stop-color="#b91f48"/><stop offset="0.080" stop-color="#c72f4c"/><stop offset="0.120" stop-color="#de4b4c"/><stop offset="0.160" stop-color="#ee6445"/><stop offset="0.200" stop-color="#f8874f"/><stop offset="0.240" stop-color="#fdad61"/><stop offset="0.280" stop-color="#fecd7b"/><stop offset="0.320" stop-color="#fee797"/><stop offset="0.360" stop-color="#fff3ab"/><stop offset="0.400" stop-color="#ffffbf"/><stop offset="0.440" stop-color="#eff8a5"/><stop offset="0.480" stop-color="#e0f399"/><stop offset="0.520" stop-color="#d4ee9c"/><stop offset="0.560" stop-color="#c7e89e"/><stop offset="0.600" stop-color="#bce4a1"/><stop offset="0.650" stop-color="#b3e0a2"/><stop offset="0.700" stop-color="#a9dca4"/><stop offset="0.750" stop-color="#9ed8a4"/><stop offset="0.800" stop-color="#99d6a4"/><stop offset="0.850" stop-color="#95d4a4"/><stop offset="0.900" stop-color="#91d3a4"/><stop offset="0.950" stop-color="#8dd1a4"/><stop offset="1.000" stop-color="#88cfa5"/></linearGradient><linearGradient id="b33" x1="0" y1="0" x2="0" y2="1"><stop offset="0.000" stop-color="#ad1145"/><stop offset="0.040" stop-color="#b91f48"/><stop offset="0.080" stop-color="#c62e4c"/><stop offset="0.120" stop-color="#dc494c"/><stop offset="0.160" stop-color="#eb6046"/><stop offset="0.200" stop-color="#f7814c"/><stop offset="0.240" stop-color="#fca75e"/><stop offset="0.280" stop-color="#fec977"/><stop offset="0.320" stop-color="#fee695"/><stop offset="0.360" stop-color="#fff2aa"/><stop offset="0.400" stop-color="#ffffbf"/><stop offset="0.440" stop-color="#eff8a6"/><stop offset="0.480" stop-color="#e0f299"/><stop offset="0.520" stop-color="#d3ed9c"/><stop offset="0.560" stop-color="#c7e89e"/><stop offset="0.600" stop-color="#bbe4a1"/><stop offset="0.650" stop-color="#b2e0a3"/><stop offset="0.700" stop-color="#a8dca4"/><stop offset="0.750" stop-color="#9dd8a4"/><stop offset="0.800" stop-color="#99d6a4"/><stop offset="0.850" stop-color="#94d4a4"/><stop offset="0.900" stop-color="#90d3a4"/><stop offset="0.950" stop-color="#8cd1a4"/><stop offset="1.000" stop-color="#88cfa5"/></linearGradient><linearGradient id="b34" x1="0" y1="0" x2="0" y2="1"><stop offset="0.000" stop-color="#ac1045"/><stop offset="0.040" stop-color="#b81e48"/><stop offset="0.080" stop-color="#c42c4b"/><stop offset="0.120" stop-color="#da464d"/><stop offset="0.160" stop-color="#e95c47"/><stop offset="0.200" stop-color="#f67949"/><stop offset="0.240" stop-color="#fba05a"/><stop offset="0.280" stop-color="#fdc373"/><stop offset="0.320" stop-color="#fee390"/><stop offset="0.360" stop-color="#fff1a7"/><stop offset="0.400" stop-color="#fffebd"/><stop offset="0.440" stop-color="#eff9a6"/><stop offset="0.480" stop-color="#e0f399"/><stop offset="0.520" stop-color="#d3ed9c"/><stop offset="0.560" stop-color="#c7e89e"/><stop offset="0.600" stop-color="#bce4a1"/><stop offset="0.650" stop-color="#b2e0a3"/><stop offset="0.700" stop-color="#a8dca4"/><stop offset="0.750" stop-color="#9dd8a4"/><stop offset="0.800" stop-color="#99d6a4"/><stop offset="0.850" stop-color="#95d4a4"/><stop offset="0.900" stop-color="#91d3a4"/><stop offset="0.950" stop-color="#8cd1a4"/><stop offset="1.000" stop-color="#88cfa5"/></linearGradient><linearGradient id="b35" x1="0" y1="0" x2="0" y2="1"><stop offset="0.000" stop-color="#ac1045"/><stop offset="0.040" stop-color="#b71d48"/><stop offset="0.080" stop-color="#c32a4b"/><stop offset="0.120" stop-color="#d9444d"/><stop offset="0.160" stop-color="#e75948"/><stop offset="0.200" stop-color="#f57346"/><stop offset="0.240" stop-color="#fa9957"/><stop offset="0.280" stop-color="#fdbe6e"/><stop offset="0.320" stop-color="#fee08b"/><stop offset="0.360" stop-color="#fff0a5"/><stop offset="0.400" stop-color="#fffdbc"/><stop offset="0.440" stop-color="#eff9a7"/><stop offset="0.480" stop-color="#e0f399"/><stop offset="0.520" stop-color="#d3ed9c"/><stop offset="0.560" stop-color="#c6e89e"/><stop offset="0.600" stop-color="#bbe4a1"/><stop offset="0.650" stop-color="#b2e0a3"/><stop offset="0.700" stop-color="#a8dca4"/><stop offset="0.750" stop-color="#9dd8a4"/><stop offset="0.800" stop-color="#99d6a4"/><stop offset="0.850" stop-color="#95d4a4"/><stop offset="0.900" stop-color="#90d3a4"/><stop offset="0.950" stop-color="#8cd1a4"/><stop offset="1.000" stop-color="#88cfa5"/></linearGradient><linearGradient id="b36" x1="0" y1="0" x2="0" y2="1"><stop offset="0.000" stop-color="#ab0f45"/><stop offset="0.040" stop-color="#b71d48"/><stop offset="0.080" stop-color="#c32a4b"/><stop offset="0.120" stop-color="#d8424e"/><stop offset="0.160" stop-color="#e55649"/><stop offset="0.200" stop-color="#f46c43"/><stop offset="0.240" stop-color="#f99254"/><stop offset="0.280" stop-color="#fdb869"/><stop offset="0.320" stop-color="#fedb87"/><stop offset="0.360" stop-color="#feeea3"/><stop offset="0.400" stop-color="#fffdbb"/><stop offset="0.440" stop-color="#f0f9a7"/><stop offset="0.480" stop-color="#e0f399"/><stop offset="0.520" stop-color="#d3ed9c"/><stop offset="0.560" stop-color="#c6e89e"/><stop offset="0.600" stop-color="#bbe4a1"/><stop offset="0.650" stop-color="#b2e0a3"/><stop offset="0.700" stop-color="#a8dca4"/><stop offset="0.750" stop-color="#9dd8a4"/><stop offset="0.800" stop-color="#99d6a4"/><stop offset="0.850" stop-color="#95d4a4"/><stop offset="0.900" stop-color="#90d3a4"/><stop offset="0.950" stop-color="#8cd1a4"/><stop offset="1.000" stop-color="#88cfa5"/></linearGradient><linearGradient id="b37" x1="0" y1="0" x2="0" y2="1"><stop offset="0.000" stop-color="#aa0e45"/><stop offset="0.040" stop-color="#b51b48"/><stop offset="0.080" stop-color="#c1284a"/><stop offset="0.120" stop-color="#d7404e"/><stop offset="0.160" stop-color="#e45449"/><stop offset="0.200" stop-color="#f26a44"/><stop offset="0.240" stop-color="#f98f53"/><stop offset="0.280" stop-color="#fdb567"/><stop offset="0.320" stop-color="#fed884"/><stop offset="0.360" stop-color="#feeda1"/><stop offset="0.400" stop-color="#fffcba"/><stop offset="0.440" stop-color="#f0f9a7"/><stop offset="0.480" stop-color="#e1f399"/><stop offset="0.520" stop-color="#d4ee9c"/><stop offset="0.560" stop-color="#c6e89e"/><stop offset="0.600" stop-color="#bce4a1"/><stop offset="0.650" stop-color="#b2e0a2"/><stop offset="0.700" stop-color="#a9dca4"/><stop offset="0.750" stop-color="#9fd8a4"/><stop offset="0.800" stop-color="#9ad6a4"/><stop offset="0.850" stop-color="#96d5a4"/><stop offset="0.900" stop-color="#91d3a4"/><stop offset="0.950" stop-color="#8dd1a4"/><stop offset="1.000" stop-color="#89d0a4"/></linearGradient><linearGradient id="b38" x1="0" y1="0" x2="0" y2="1"><stop offset="0.000" stop-color="#ad1246"/><stop offset="0.040" stop-color="#b91f48"/><stop offset="0.080" stop-color="#c52c4b"/><stop offset="0.120" stop-color="#d9444d"/><stop offset="0.160" stop-color="#e65948"/><stop offset="0.200" stop-color="#f47044"/><stop offset="0.240" stop-color="#fa9656"/><stop offset="0.280" stop-color="#fdba6b"/><stop offset="0.320" stop-color="#fedc88"/><stop offset="0.360" stop-color="#fff0a5"/><stop offset="0.400" stop-color="#ffffbf"/><stop offset="0.440" stop-color="#edf8a2"/><stop offset="0.480" stop-color="#dcf19a"/><stop offset="0.520" stop-color="#cfeb9d"/><stop offset="0.560" stop-color="#c1e69f"/><stop offset="0.600" stop-color="#b7e2a1"/><stop offset="0.650" stop-color="#aedea3"/><stop offset="0.700" stop-color="#a3daa4"/><stop offset="0.750" stop-color="#9ad6a4"/><stop offset="0.800" stop-color="#96d5a4"/><stop offset="0.850" stop-color="#91d3a4"/><stop offset="0.900" stop-color="#8dd1a4"/><stop offset="0.950" stop-color="#88cfa5"/><stop offset="1.000" stop-color="#84cea5"/></linearGradient><linearGradient id="b39" x1="0" y1="0" x2="0" y2="1"><stop offset="0.000" stop-color="#aa0e45"/><stop offset="0.040" stop-color="#b61c48"/><stop offset="0.080" stop-color="#c2294b"/><stop offset="0.120" stop-color="#d8434e"/><stop offset="0.160" stop-color="#e65848"/><stop offset="0.200" stop-color="#f47044"/><stop offset="0.240" stop-color="#fa9555"/><stop offset="0.280" stop-color="#fdb96a"/><stop offset="0.320" stop-color="#fedb87"/><stop offset="0.360" stop-color="#feefa3"/><stop offset="0.400" stop-color="#fffebd"/><stop offset="0.440" stop-color="#ecf7a2"/><stop offset="0.480" stop-color="#def29a"/><stop offset="0.520" stop-color="#d0ec9c"/><stop offset="0.560" stop-color="#c3e79f"/><stop offset="0.600" stop-color="#bae3a1"/><stop offset="0.650" stop-color="#b0dfa3"/><stop offset="0.700" stop-color="#a6dba4"/><stop offset="0.750" stop-color="#9dd8a4"/><stop offset="0.800" stop-color="#99d6a4"/><stop offset="0.850" stop-color="#94d4a4"/><stop offset="0.900" stop-color="#90d2a4"/><stop offset="0.950" stop-color="#8bd1a4"/><stop offset="1.000" stop-color="#87cfa5"/></linearGradient><linearGradient id="b40" x1="0" y1="0" x2="0" y2="1"><stop offset="0.000" stop-color="#ab1045"/><stop offset="0.040" stop-color="#b81e48"/><stop offset="0.080" stop-color="#c52c4b"/><stop offset="0.120" stop-color="#da464d"/><stop offset="0.160" stop-color="#e85b48"/><stop offset="0.200" stop-color="#f57647"/><stop offset="0.240" stop-color="#fa9a58"/><stop offset="0.280" stop-color="#fdbd6d"/><stop offset="0.320" stop-color="#fede89"/><stop offset="0.360" stop-color="#fff0a6"/><stop offset="0.400" stop-color="#feffbd"/><stop offset="0.440" stop-color="#eaf69e"/><stop offset="0.480" stop-color="#dbf09a"/><stop offset="0.520" stop-color="#cdeb9d"/><stop offset="0.560" stop-color="#bfe5a0"/><stop offset="0.600" stop-color="#b7e2a2"/><stop offset="0.650" stop-color="#addea4"/><stop offset="0.700" stop-color="#a3daa4"/><stop offset="0.750" stop-color="#9bd7a4"/><stop offset="0.800" stop-color="#96d5a4"/><stop offset="0.850" stop-color="#92d3a4"/><stop offset="0.900" stop-color="#8dd1a4"/><stop offset="0.950" stop-color="#88cfa5"/><stop offset="1.000" stop-color="#84cea5"/></linearGradient><linearGradient id="b41" x1="0" y1="0" x2="0" y2="1"><stop offset="0.000" stop-color="#ad1145"/><stop offset="0.040" stop-color="#b91f48"/><stop offset="0.080" stop-color="#c72f4c"/><stop offset="0.120" stop-color="#dc484c"/><stop offset="0.160" stop-color="#ea5e47"/><stop offset="0.200" stop-color="#f67a49"/><stop offset="0.240" stop-color="#fb9e5a"/><stop offset="0.280" stop-color="#fdc070"/><stop offset="0.320" stop-color="#fee08b"/><stop offset="0.360" stop-color="#fff2a9"/><stop offset="0.400" stop-color="#fcfeba"/><stop offset="0.440" stop-color="#e7f59a"/><stop offset="0.480" stop-color="#d8ef9b"/><stop offset="0.520" stop-color="#caea9e"/><stop offset="0.560" stop-color="#bce4a0"/><stop offset="0.600" stop-color="#b5e1a2"/><stop offset="0.650" stop-color="#abdda4"/><stop offset="0.700" stop-color="#a0d9a4"/><stop offset="0.750" stop-color="#99d6a4"/><stop offset="0.800" stop-color="#94d4a4"/><stop offset="0.850" stop-color="#90d2a4"/><stop offset="0.900" stop-color="#8bd0a4"/><stop offset="0.950" stop-color="#86cfa5"/><stop offset="1.000" stop-color="#82cda5"/></linearGradient><linearGradient id="b42" x1="0" y1="0" x2="0" y2="1"><stop offset="0.000" stop-color="#ab1045"/><stop offset="0.040" stop-color="#b81e48"/><stop offset="0.080" stop-color="#c72e4c"/><stop offset="0.120" stop-color="#dc484c"/><stop offset="0.160" stop-color="#eb5f47"/><stop offset="0.200" stop-color="#f67c4a"/><stop offset="0.240" stop-color="#fb9f5a"/><stop offset="0.280" stop-color="#fdc071"/><stop offset="0.320" stop-color="#fee08b"/><stop offset="0.360" stop-color="#fff2a9"/><stop offset="0.400" stop-color="#fbfdb9"/><stop offset="0.440" stop-color="#e5f598"/><stop offset="0.480" stop-color="#d7ef9b"/><stop offset="0.520" stop-color="#c9e99e"/><stop offset="0.560" stop-color="#bce4a0"/><stop offset="0.600" stop-color="#b5e1a2"/><stop offset="0.650" stop-color="#abdda4"/><stop offset="0.700" stop-color="#a0d9a4"/><stop offset="0.750" stop-color="#9ad6a4"/><stop offset="0.800" stop-color="#95d4a4"/><stop offset="0.850" stop-color="#90d3a4"/><stop offset="0.900" stop-color="#8cd1a4"/><stop offset="0.950" stop-color="#87cfa5"/><stop offset="1.000" stop-color="#82cda5"/></linearGradient><linearGradient id="b43" x1="0" y1="0" x2="0" y2="1"><stop offset="0.000" stop-color="#ab1045"/><stop offset="0.040" stop-color="#b81e48"/><stop offset="0.080" stop-color="#c82f4c"/><stop offset="0.120" stop-color="#dd4a4c"/><stop offset="0.160" stop-color="#ec6146"/><stop offset="0.200" stop-color="#f67f4b"/><stop offset="0.240" stop-color="#fba15b"/><stop offset="0.280" stop-color="#fdc272"/><stop offset="0.320" stop-color="#fee18c"/><stop offset="0.360" stop-color="#fff2aa"/><stop offset="0.400" stop-color="#f9fdb6"/><stop offset="0.440" stop-color="#e4f498"/><stop offset="0.480" stop-color="#d6ef9b"/><stop offset="0.520" stop-color="#c8e99e"/><stop offset="0.560" stop-color="#bce4a1"/><stop offset="0.600" stop-color="#b4e1a2"/><stop offset="0.650" stop-color="#abdda4"/><stop offset="0.700" stop-color="#a0d9a4"/><stop offset="0.750" stop-color="#9ad6a4"/><stop offset="0.800" stop-color="#95d4a4"/><stop offset="0.850" stop-color="#90d2a4"/><stop offset="0.900" stop-color="#8bd1a4"/><stop offset="0.950" stop-color="#87cfa5"/><stop offset="1.000" stop-color="#82cda5"/></linearGradient><linearGradient id="b44" x1="0" y1="0" x2="0" y2="1"><stop offset="0.000" stop-color="#aa0e45"/><stop offset="0.040" stop-color="#b71d48"/><stop offset="0.080" stop-color="#c82f4c"/><stop offset="0.120" stop-color="#dd4a4c"/><stop offset="0.160" stop-color="#ed6246"/><stop offset="0.200" stop-color="#f7814c"/><stop offset="0.240" stop-color="#fba35c"/><stop offset="0.280" stop-color="#fdc372"/><stop offset="0.320" stop-color="#fee18d"/><stop offset="0.360" stop-color="#fff3aa"/><stop offset="0.400" stop-color="#f8fcb4"/><stop offset="0.440" stop-color="#e4f498"/><stop offset="0.480" stop-color="#d6ee9b"/><stop offset="0.520" stop-color="#c7e89e"/><stop offset="0.560" stop-color="#bce4a1"/><stop offset="0.600" stop-color="#b4e1a2"/><stop offset="0.650" stop-color="#abdda4"/><stop offset="0.700" stop-color="#a0d9a4"/><stop offset="0.750" stop-color="#9ad6a4"/><stop offset="0.800" stop-color="#96d5a4"/><stop offset="0.850" stop-color="#91d3a4"/><stop offset="0.900" stop-color="#8cd1a4"/><stop offset="0.950" stop-color="#87cfa5"/><stop offset="1.000" stop-color="#82cda5"/></linearGradient><linearGradient id="b45" x1="0" y1="0" x2="0" y2="1"><stop offset="0.000" stop-color="#ac1145"/><stop offset="0.040" stop-color="#ba2049"/><stop offset="0.080" stop-color="#cb334d"/><stop offset="0.120" stop-color="#e04e4b"/><stop offset="0.160" stop-color="#f06745"/><stop offset="0.200" stop-color="#f7864f"/><stop offset="0.240" stop-color="#fca85e"/><stop offset="0.280" stop-color="#fdc776"/><stop offset="0.320" stop-color="#fee390"/><stop offset="0.360" stop-color="#fff5ae"/><stop offset="0.400" stop-color="#f5fbb0"/><stop offset="0.440" stop-color="#e0f399"/><stop offset="0.480" stop-color="#d1ed9c"/><stop offset="0.520" stop-color="#c3e79f"/><stop offset="0.560" stop-color="#b8e2a1"/><stop offset="0.600" stop-color="#b1dfa3"/><stop offset="0.650" stop-color="#a7dba4"/><stop offset="0.700" stop-color="#9cd7a4"/><stop offset="0.750" stop-color="#97d5a4"/><stop offset="0.800" stop-color="#92d3a4"/><stop offset="0.850" stop-color="#8dd1a4"/><stop offset="0.900" stop-color="#88cfa5"/><stop offset="0.950" stop-color="#83cea5"/><stop offset="1.000" stop-color="#7fcca5"/></linearGradient><linearGradient id="b46" x1="0" y1="0" x2="0" y2="1"><stop offset="0.000" stop-color="#ab0f45"/><stop offset="0.040" stop-color="#b91f48"/><stop offset="0.080" stop-color="#cb334d"/><stop offset="0.120" stop-color="#e04f4b"/><stop offset="0.160" stop-color="#f16844"/><stop offset="0.200" stop-color="#f8874f"/><stop offset="0.240" stop-color="#fca95f"/><stop offset="0.280" stop-color="#fdc776"/><stop offset="0.320" stop-color="#fee390"/><stop offset="0.360" stop-color="#fff5ae"/><stop offset="0.400" stop-color="#f4fbae"/><stop offset="0.440" stop-color="#e0f399"/><stop offset="0.480" stop-color="#d1ed9c"/><stop offset="0.520" stop-color="#c2e79f"/><stop offset="0.560" stop-color="#b9e3a1"/><stop offset="0.600" stop-color="#b1e0a3"/><stop offset="0.650" stop-color="#a7dca4"/><stop offset="0.700" stop-color="#9dd7a4"/><stop offset="0.750" stop-color="#98d6a4"/><stop offset="0.800" stop-color="#93d4a4"/><stop offset="0.850" stop-color="#8ed2a4"/><stop offset="0.900" stop-color="#89d0a4"/><stop offset="0.950" stop-color="#84cea5"/><stop offset="1.000" stop-color="#80cca5"/></linearGradient><linearGradient id="b47" x1="0" y1="0" x2="0" y2="1"><stop offset="0.000" stop-color="#ab0f45"/><stop offset="0.040" stop-color="#b81e48"/><stop offset="0.080" stop-color="#c8304c"/><stop offset="0.120" stop-color="#df4e4b"/><stop offset="0.160" stop-color="#f16844"/><stop offset="0.200" stop-color="#f8884f"/><stop offset="0.240" stop-color="#fcaa5f"/><stop offset="0.280" stop-color="#fec877"/><stop offset="0.320" stop-color="#fee492"/><stop offset="0.360" stop-color="#fff6b0"/><stop offset="0.400" stop-color="#f2faab"/><stop offset="0.440" stop-color="#def29a"/><stop offset="0.480" stop-color="#d0ec9d"/><stop offset="0.520" stop-color="#c1e6a0"/><stop offset="0.560" stop-color="#b8e2a1"/><stop offset="0.600" stop-color="#b0dfa3"/><stop offset="0.650" stop-color="#a6dba4"/><stop offset="0.700" stop-color="#9cd7a4"/><stop offset="0.750" stop-color="#97d5a4"/><stop offset="0.800" stop-color="#92d3a4"/><stop offset="0.850" stop-color="#8dd1a4"/><stop offset="0.900" stop-color="#88cfa5"/><stop offset="0.950" stop-color="#83cda5"/><stop offset="1.000" stop-color="#7ecca5"/></linearGradient><linearGradient id="b48" x1="0" y1="0" x2="0" y2="1"><stop offset="0.000" stop-color="#ac1045"/><stop offset="0.040" stop-color="#b81e48"/><stop offset="0.080" stop-color="#c52c4b"/><stop offset="0.120" stop-color="#dd4b4c"/><stop offset="0.160" stop-color="#ef6645"/><stop offset="0.200" stop-color="#f8884f"/><stop offset="0.240" stop-color="#fdac60"/><stop offset="0.280" stop-color="#fecb79"/><stop offset="0.320" stop-color="#fee696"/><stop offset="0.360" stop-color="#fff9b4"/><stop offset="0.400" stop-color="#eff9a7"/><stop offset="0.440" stop-color="#dbf19a"/><stop offset="0.480" stop-color="#cdeb9d"/><stop offset="0.520" stop-color="#bee5a0"/><stop offset="0.560" stop-color="#b5e1a2"/><stop offset="0.600" stop-color="#addea4"/><stop offset="0.650" stop-color="#a2daa4"/><stop offset="0.700" stop-color="#99d6a4"/><stop offset="0.750" stop-color="#94d4a4"/><stop offset="0.800" stop-color="#8fd2a4"/><stop offset="0.850" stop-color="#8ad0a4"/><stop offset="0.900" stop-color="#85cea5"/><stop offset="0.950" stop-color="#80cca5"/><stop offset="1.000" stop-color="#7bcaa5"/></linearGradient><linearGradient id="b49" x1="0" y1="0" x2="0" y2="1"><stop offset="0.000" stop-color="#aa0f45"/><stop offset="0.040" stop-color="#b61c48"/><stop offset="0.080" stop-color="#c2294a"/><stop offset="0.120" stop-color="#da454d"/><stop offset="0.160" stop-color="#ed6246"/><stop offset="0.200" stop-color="#f7844e"/><stop offset="0.240" stop-color="#fdab60"/><stop offset="0.280" stop-color="#fecc7a"/><stop offset="0.320" stop-color="#fee797"/><stop offset="0.360" stop-color="#fffab6"/><stop offset="0.400" stop-color="#eef8a4"/><stop offset="0.440" stop-color="#dbf09a"/><stop offset="0.480" stop-color="#ccea9d"/><stop offset="0.520" stop-color="#bde4a0"/><stop offset="0.560" stop-color="#b5e1a2"/><stop offset="0.600" stop-color="#addea4"/><stop offset="0.650" stop-color="#a2d9a4"/><stop offset="0.700" stop-color="#99d6a4"/><stop offset="0.750" stop-color="#94d4a4"/><stop offset="0.800" stop-color="#8fd2a4"/><stop offset="0.850" stop-color="#8ad0a4"/><stop offset="0.900" stop-color="#85cea5"/><stop offset="0.950" stop-color="#80cca5"/><stop offset="1.000" stop-color="#7acaa5"/></linearGradient><linearGradient id="b50" x1="0" y1="0" x2="0" y2="1"><stop offset="0.000" stop-color="#a70b44"/><stop offset="0.040" stop-color="#b31847"/><stop offset="0.080" stop-color="#be2449"/><stop offset="0.120" stop-color="#d53f4f"/><stop offset="0.160" stop-color="#e95c47"/><stop offset="0.200" stop-color="#f67f4b"/><stop offset="0.240" stop-color="#fca85e"/><stop offset="0.280" stop-color="#fecb79"/><stop offset="0.320" stop-color="#fee798"/><stop offset="0.360" stop-color="#fffab6"/><stop offset="0.400" stop-color="#edf8a3"/><stop offset="0.440" stop-color="#dcf19a"/><stop offset="0.480" stop-color="#cdeb9d"/><stop offset="0.520" stop-color="#bee5a0"/><stop offset="0.560" stop-color="#b6e2a2"/><stop offset="0.600" stop-color="#aedea3"/><stop offset="0.650" stop-color="#a3daa4"/><stop offset="0.700" stop-color="#9bd7a4"/><stop offset="0.750" stop-color="#96d5a4"/><stop offset="0.800" stop-color="#91d3a4"/><stop offset="0.850" stop-color="#8bd1a4"/><stop offset="0.900" stop-color="#86cfa5"/><stop offset="0.950" stop-color="#81cda5"/><stop offset="1.000" stop-color="#7ccba5"/></linearGradient><linearGradient id="b51" x1="0" y1="0" x2="0" y2="1"><stop offset="0.000" stop-color="#a60a44"/><stop offset="0.040" stop-color="#b11647"/><stop offset="0.080" stop-color="#bc2249"/><stop offset="0.120" stop-color="#cf374e"/><stop offset="0.160" stop-color="#e65748"/><stop offset="0.200" stop-color="#f67b49"/><stop offset="0.240" stop-color="#fca85e"/><stop offset="0.280" stop-color="#fecc7a"/><stop offset="0.320" stop-color="#fee99a"/><stop offset="0.360" stop-color="#fffbb8"/><stop offset="0.400" stop-color="#ecf7a1"/><stop offset="0.440" stop-color="#dbf19a"/><stop offset="0.480" stop-color="#cceb9d"/><stop offset="0.520" stop-color="#bee5a0"/><stop offset="0.560" stop-color="#b6e1a2"/><stop offset="0.600" stop-color="#aedea3"/><stop offset="0.650" stop-color="#a2daa4"/><stop offset="0.700" stop-color="#9bd7a4"/><stop offset="0.750" stop-color="#95d5a4"/><stop offset="0.800" stop-color="#90d2a4"/><stop offset="0.850" stop-color="#8bd0a4"/><stop offset="0.900" stop-color="#85cea5"/><stop offset="0.950" stop-color="#80cca5"/><stop offset="1.000" stop-color="#7bcaa5"/></linearGradient><linearGradient id="b52" x1="0" y1="0" x2="0" y2="1"><stop offset="0.000" stop-color="#a50944"/><stop offset="0.040" stop-color="#af1446"/><stop offset="0.080" stop-color="#b91f48"/><stop offset="0.120" stop-color="#c72e4c"/><stop offset="0.160" stop-color="#e2514a"/><stop offset="0.200" stop-color="#f57346"/><stop offset="0.240" stop-color="#fba15b"/><stop offset="0.280" stop-color="#fec877"/><stop offset="0.320" stop-color="#fee797"/><stop offset="0.360" stop-color="#fffab6"/><stop offset="0.400" stop-color="#edf8a2"/><stop offset="0.440" stop-color="#dcf19a"/><stop offset="0.480" stop-color="#cdeb9d"/><stop offset="0.520" stop-color="#bfe5a0"/><stop offset="0.560" stop-color="#b6e2a2"/><stop offset="0.600" stop-color="#aedea3"/><stop offset="0.650" stop-color="#a2daa4"/><stop offset="0.700" stop-color="#9bd7a4"/><stop offset="0.750" stop-color="#95d5a4"/><stop offset="0.800" stop-color="#90d2a4"/><stop offset="0.850" stop-color="#8bd0a4"/><stop offset="0.900" stop-color="#85cea5"/><stop offset="0.950" stop-color="#80cca5"/><stop offset="1.000" stop-color="#7bcaa5"/></linearGradient><linearGradient id="b53" x1="0" y1="0" x2="0" y2="1"><stop offset="0.000" stop-color="#a40844"/><stop offset="0.040" stop-color="#ae1346"/><stop offset="0.080" stop-color="#b81e48"/><stop offset="0.120" stop-color="#c2294a"/><stop offset="0.160" stop-color="#dd4a4c"/><stop offset="0.200" stop-color="#f26a44"/><stop offset="0.240" stop-color="#fa9756"/><stop offset="0.280" stop-color="#fdc171"/><stop offset="0.320" stop-color="#fee492"/><stop offset="0.360" stop-color="#fff8b3"/><stop offset="0.400" stop-color="#eff9a6"/><stop offset="0.440" stop-color="#ddf19a"/><stop offset="0.480" stop-color="#ceeb9d"/><stop offset="0.520" stop-color="#bee5a0"/><stop offset="0.560" stop-color="#b6e1a2"/><stop offset="0.600" stop-color="#addea4"/><stop offset="0.650" stop-color="#a1d9a4"/><stop offset="0.700" stop-color="#9ad6a4"/><stop offset="0.750" stop-color="#95d4a4"/><stop offset="0.800" stop-color="#8fd2a4"/><stop offset="0.850" stop-color="#8ad0a4"/><stop offset="0.900" stop-color="#84cea5"/><stop offset="0.950" stop-color="#7fcca5"/><stop offset="1.000" stop-color="#79caa5"/></linearGradient><linearGradient id="b54" x1="0" y1="0" x2="0" y2="1"><stop offset="0.000" stop-color="#a40743"/><stop offset="0.040" stop-color="#ad1246"/><stop offset="0.080" stop-color="#b61c48"/><stop offset="0.120" stop-color="#c0274a"/><stop offset="0.160" stop-color="#d9444e"/><stop offset="0.200" stop-color="#ed6346"/><stop offset="0.240" stop-color="#f88d52"/><stop offset="0.280" stop-color="#fdb96a"/><stop offset="0.320" stop-color="#fee08b"/><stop offset="0.360" stop-color="#fff5af"/><stop offset="0.400" stop-color="#f2faab"/><stop offset="0.440" stop-color="#def29a"/><stop offset="0.480" stop-color="#cfeb9d"/><stop offset="0.520" stop-color="#bfe5a0"/><stop offset="0.560" stop-color="#b6e2a2"/><stop offset="0.600" stop-color="#addea3"/><stop offset="0.650" stop-color="#a1d9a4"/><stop offset="0.700" stop-color="#9ad6a4"/><stop offset="0.750" stop-color="#94d4a4"/><stop offset="0.800" stop-color="#8fd2a4"/><stop offset="0.850" stop-color="#89d0a4"/><stop offset="0.900" stop-color="#84cea5"/><stop offset="0.950" stop-color="#7ecba5"/><stop offset="1.000" stop-color="#79c9a5"/></linearGradient><linearGradient id="b55" x1="0" y1="0" x2="0" y2="1"><stop offset="0.000" stop-color="#a30643"/><stop offset="0.040" stop-color="#ac1045"/><stop offset="0.080" stop-color="#b51b47"/><stop offset="0.120" stop-color="#be254a"/><stop offset="0.160" stop-color="#d33c4f"/><stop offset="0.200" stop-color="#e95c47"/><stop offset="0.240" stop-color="#f7834d"/><stop offset="0.280" stop-color="#fdb063"/><stop offset="0.320" stop-color="#fed985"/><stop offset="0.360" stop-color="#fff3aa"/><stop offset="0.400" stop-color="#f5fbaf"/><stop offset="0.440" stop-color="#e0f299"/><stop offset="0.480" stop-color="#d0ec9d"/><stop offset="0.520" stop-color="#c0e5a0"/><stop offset="0.560" stop-color="#b6e2a2"/><stop offset="0.600" stop-color="#addea4"/><stop offset="0.650" stop-color="#a1d9a4"/><stop offset="0.700" stop-color="#99d6a4"/><stop offset="0.750" stop-color="#94d4a4"/><stop offset="0.800" stop-color="#8ed2a4"/><stop offset="0.850" stop-color="#89d0a4"/><stop offset="0.900" stop-color="#83cda5"/><stop offset="0.950" stop-color="#7dcba5"/><stop offset="1.000" stop-color="#78c9a5"/></linearGradient><linearGradient id="b56" x1="0" y1="0" x2="0" y2="1"><stop offset="0.000" stop-color="#a00443"/><stop offset="0.040" stop-color="#a90e45"/><stop offset="0.080" stop-color="#b21747"/><stop offset="0.120" stop-color="#bb2149"/><stop offset="0.160" stop-color="#ca324c"/><stop offset="0.200" stop-color="#e35449"/><stop offset="0.240" stop-color="#f57747"/><stop offset="0.280" stop-color="#fca55d"/><stop offset="0.320" stop-color="#fed07d"/><stop offset="0.360" stop-color="#feefa4"/><stop offset="0.400" stop-color="#f8fcb4"/><stop offset="0.440" stop-color="#e3f499"/><stop offset="0.480" stop-color="#d2ed9c"/><stop offset="0.520" stop-color="#c2e69f"/><stop offset="0.560" stop-color="#b8e2a1"/><stop offset="0.600" stop-color="#afdfa3"/><stop offset="0.650" stop-color="#a3daa4"/><stop offset="0.700" stop-color="#9bd7a4"/><stop offset="0.750" stop-color="#95d4a4"/><stop offset="0.800" stop-color="#90d2a4"/><stop offset="0.850" stop-color="#8ad0a4"/><stop offset="0.900" stop-color="#84cea5"/><stop offset="0.950" stop-color="#7fcca5"/><stop offset="1.000" stop-color="#79c9a5"/></linearGradient><linearGradient id="b57" x1="0" y1="0" x2="0" y2="1"><stop offset="0.000" stop-color="#a20543"/><stop offset="0.040" stop-color="#aa0f45"/><stop offset="0.080" stop-color="#b31847"/><stop offset="0.120" stop-color="#bc2249"/><stop offset="0.160" stop-color="#c42b4b"/><stop offset="0.200" stop-color="#e04f4b"/><stop offset="0.240" stop-color="#f46f44"/><stop offset="0.280" stop-color="#fb9d59"/><stop offset="0.320" stop-color="#fec978"/><stop offset="0.360" stop-color="#feeca0"/><stop offset="0.400" stop-color="#fafdb7"/><stop offset="0.440" stop-color="#e2f399"/><stop offset="0.480" stop-color="#d1ed9c"/><stop offset="0.520" stop-color="#c0e6a0"/><stop offset="0.560" stop-color="#b6e1a2"/><stop offset="0.600" stop-color="#addea4"/><stop offset="0.650" stop-color="#a0d9a4"/><stop offset="0.700" stop-color="#98d6a4"/><stop offset="0.750" stop-color="#92d3a4"/><stop offset="0.800" stop-color="#8cd1a4"/><stop offset="0.850" stop-color="#87cfa5"/><stop offset="0.900" stop-color="#81cda5"/><stop offset="0.950" stop-color="#7bcaa5"/><stop offset="1.000" stop-color="#76c8a5"/></linearGradient><linearGradient id="b58" x1="0" y1="0" x2="0" y2="1"><stop offset="0.000" stop-color="#a00443"/><stop offset="0.040" stop-color="#a90d45"/><stop offset="0.080" stop-color="#b11646"/><stop offset="0.120" stop-color="#b91f48"/><stop offset="0.160" stop-color="#c2294a"/><stop offset="0.200" stop-color="#db474d"/><stop offset="0.240" stop-color="#f06745"/><stop offset="0.280" stop-color="#f99455"/><stop offset="0.320" stop-color="#fdc272"/><stop offset="0.360" stop-color="#fee99b"/><stop offset="0.400" stop-color="#fcfebb"/><stop offset="0.440" stop-color="#e4f498"/><stop offset="0.480" stop-color="#d3ed9c"/><stop offset="0.520" stop-color="#c2e69f"/><stop offset="0.560" stop-color="#b7e2a2"/><stop offset="0.600" stop-color="#aedea3"/><stop offset="0.650" stop-color="#a1d9a4"/><stop offset="0.700" stop-color="#99d6a4"/><stop offset="0.750" stop-color="#93d4a4"/><stop offset="0.800" stop-color="#8ed2a4"/><stop offset="0.850" stop-color="#88cfa5"/><stop offset="0.900" stop-color="#82cda5"/><stop offset="0.950" stop-color="#7ccba5"/><stop offset="1.000" stop-color="#77c9a5"/></linearGradient><linearGradient id="b59" x1="0" y1="0" x2="0" y2="1"><stop offset="0.000" stop-color="#a00342"/><stop offset="0.040" stop-color="#a80c44"/><stop offset="0.080" stop-color="#b01546"/><stop offset="0.120" stop-color="#b81d48"/><stop offset="0.160" stop-color="#c0264a"/><stop offset="0.200" stop-color="#d7404e"/><stop offset="0.240" stop-color="#eb6046"/><stop offset="0.280" stop-color="#f88b51"/><stop offset="0.320" stop-color="#fdbc6d"/><stop offset="0.360" stop-color="#fee797"/><stop offset="0.400" stop-color="#feffbe"/><stop offset="0.440" stop-color="#e6f598"/><stop offset="0.480" stop-color="#d5ee9b"/><stop offset="0.520" stop-color="#c4e79f"/><stop offset="0.560" stop-color="#b8e2a1"/><stop offset="0.600" stop-color="#afdfa3"/><stop offset="0.650" stop-color="#a3daa4"/><stop offset="0.700" stop-color="#9ad6a4"/><stop offset="0.750" stop-color="#94d4a4"/><stop offset="0.800" stop-color="#8fd2a4"/><stop offset="0.850" stop-color="#89d0a4"/><stop offset="0.900" stop-color="#83cea5"/><stop offset="0.950" stop-color="#7ecba5"/><stop offset="1.000" stop-color="#78c9a5"/></linearGradient><linearGradient id="b60" x1="0" y1="0" x2="0" y2="1"><stop offset="0.000" stop-color="#a20543"/><stop offset="0.040" stop-color="#aa0e45"/><stop offset="0.080" stop-color="#b11647"/><stop offset="0.120" stop-color="#b91f48"/><stop offset="0.160" stop-color="#c0274a"/><stop offset="0.200" stop-color="#d33b4e"/><stop offset="0.240" stop-color="#e85b48"/><stop offset="0.280" stop-color="#f7854e"/><stop offset="0.320" stop-color="#fdb869"/><stop offset="0.360" stop-color="#fee797"/><stop offset="0.400" stop-color="#ffffbf"/><stop offset="0.440" stop-color="#e6f598"/><stop offset="0.480" stop-color="#d4ee9c"/><stop offset="0.520" stop-color="#c3e79f"/><stop offset="0.560" stop-color="#b7e2a2"/><stop offset="0.600" stop-color="#aedea3"/><stop offset="0.650" stop-color="#a1d9a4"/><stop offset="0.700" stop-color="#98d5a4"/><stop offset="0.750" stop-color="#92d3a4"/><stop offset="0.800" stop-color="#8cd1a4"/><stop offset="0.850" stop-color="#87cfa5"/><stop offset="0.900" stop-color="#81cda5"/><stop offset="0.950" stop-color="#7ccaa5"/><stop offset="1.000" stop-color="#76c8a5"/></linearGradient><linearGradient id="b61" x1="0" y1="0" x2="0" y2="1"><stop offset="0.000" stop-color="#9f0242"/><stop offset="0.040" stop-color="#a60a44"/><stop offset="0.080" stop-color="#ad1246"/><stop offset="0.120" stop-color="#b51a47"/><stop offset="0.160" stop-color="#bc2249"/><stop offset="0.200" stop-color="#c82f4c"/><stop offset="0.240" stop-color="#e2524a"/><stop offset="0.280" stop-color="#f57848"/><stop offset="0.320" stop-color="#fdae61"/><stop offset="0.360" stop-color="#fee390"/><stop offset="0.400" stop-color="#fffcba"/><stop offset="0.440" stop-color="#e9f69d"/><stop offset="0.480" stop-color="#d8ef9b"/><stop offset="0.520" stop-color="#c7e99e"/><stop offset="0.560" stop-color="#bbe3a1"/><stop offset="0.600" stop-color="#b2e0a3"/><stop offset="0.650" stop-color="#a5dba4"/><stop offset="0.700" stop-color="#9cd7a4"/><stop offset="0.750" stop-color="#97d5a4"/><stop offset="0.800" stop-color="#91d3a4"/><stop offset="0.850" stop-color="#8bd1a4"/><stop offset="0.900" stop-color="#86cea5"/><stop offset="0.950" stop-color="#80cca5"/><stop offset="1.000" stop-color="#7acaa5"/></linearGradient><linearGradient id="b62" x1="0" y1="0" x2="0" y2="1"><stop offset="0.000" stop-color="#a10443"/><stop offset="0.040" stop-color="#a80c44"/><stop offset="0.080" stop-color="#af1446"/><stop offset="0.120" stop-color="#b61c48"/><stop offset="0.160" stop-color="#bd2349"/><stop offset="0.200" stop-color="#c42b4b"/><stop offset="0.240" stop-color="#df4e4b"/><stop offset="0.280" stop-color="#f47044"/><stop offset="0.320" stop-color="#fca95f"/><stop offset="0.360" stop-color="#fee18d"/><stop offset="0.400" stop-color="#fffcb9"/><stop offset="0.440" stop-color="#eaf79e"/><stop offset="0.480" stop-color="#d7ef9b"/><stop offset="0.520" stop-color="#c6e89e"/><stop offset="0.560" stop-color="#b9e3a1"/><stop offset="0.600" stop-color="#b0dfa3"/><stop offset="0.650" stop-color="#a3daa4"/><stop offset="0.700" stop-color="#9ad6a4"/><stop offset="0.750" stop-color="#94d4a4"/><stop offset="0.800" stop-color="#8ed2a4"/><stop offset="0.850" stop-color="#89d0a4"/><stop offset="0.900" stop-color="#83cda5"/><stop offset="0.950" stop-color="#7ecba5"/><stop offset="1.000" stop-color="#78c9a5"/></linearGradient><linearGradient id="b63" x1="0" y1="0" x2="0" y2="1"><stop offset="0.000" stop-color="#a20543"/><stop offset="0.040" stop-color="#a90d45"/><stop offset="0.080" stop-color="#b01546"/><stop offset="0.120" stop-color="#b71c48"/><stop offset="0.160" stop-color="#be244a"/><stop offset="0.200" stop-color="#ca324c"/><stop offset="0.240" stop-color="#e3534a"/><stop offset="0.280" stop-color="#f67848"/><stop offset="0.320" stop-color="#fdaf62"/><stop offset="0.360" stop-color="#fee492"/><stop offset="0.400" stop-color="#fffcba"/><stop offset="0.440" stop-color="#ecf7a1"/><stop offset="0.480" stop-color="#daf09b"/><stop offset="0.520" stop-color="#c9e99e"/><stop offset="0.560" stop-color="#bbe3a1"/><stop offset="0.600" stop-color="#b2e0a3"/><stop offset="0.650" stop-color="#a6dba4"/><stop offset="0.700" stop-color="#9bd7a4"/><stop offset="0.750" stop-color="#96d5a4"/><stop offset="0.800" stop-color="#91d3a4"/><stop offset="0.850" stop-color="#8bd0a4"/><stop offset="0.900" stop-color="#86cea5"/><stop offset="0.950" stop-color="#80cca5"/><stop offset="1.000" stop-color="#7bcaa5"/></linearGradient><linearGradient id="b64" x1="0" y1="0" x2="0" y2="1"><stop offset="0.000" stop-color="#a20543"/><stop offset="0.040" stop-color="#a90d45"/><stop offset="0.080" stop-color="#b01546"/><stop offset="0.120" stop-color="#b71d48"/><stop offset="0.160" stop-color="#be254a"/><stop offset="0.200" stop-color="#d53e4f"/><stop offset="0.240" stop-color="#e85b48"/><stop offset="0.280" stop-color="#f7854e"/><stop offset="0.320" stop-color="#fdba6b"/><stop offset="0.360" stop-color="#fee797"/><stop offset="0.400" stop-color="#fffdbb"/><stop offset="0.440" stop-color="#eef8a4"/><stop offset="0.480" stop-color="#def29a"/><stop offset="0.520" stop-color="#ceeb9d"/><stop offset="0.560" stop-color="#bfe5a0"/><stop offset="0.600" stop-color="#b6e2a2"/><stop offset="0.650" stop-color="#acdda4"/><stop offset="0.700" stop-color="#a0d9a4"/><stop offset="0.750" stop-color="#9ad6a4"/><stop offset="0.800" stop-color="#95d4a4"/><stop offset="0.850" stop-color="#90d2a4"/><stop offset="0.900" stop-color="#8ad0a4"/><stop offset="0.950" stop-color="#85cea5"/><stop offset="1.000" stop-color="#80cca5"/></linearGradient><linearGradient id="b65" x1="0" y1="0" x2="0" y2="1"><stop offset="0.000" stop-color="#a70b44"/><stop offset="0.040" stop-color="#ae1346"/><stop offset="0.080" stop-color="#b61b48"/><stop offset="0.120" stop-color="#bd2449"/><stop offset="0.160" stop-color="#c52d4b"/><stop offset="0.200" stop-color="#de4c4b"/><stop offset="0.240" stop-color="#f16844"/><stop offset="0.280" stop-color="#fa9857"/><stop offset="0.320" stop-color="#fec877"/><stop offset="0.360" stop-color="#feeca0"/><stop offset="0.400" stop-color="#feffbd"/><stop offset="0.440" stop-color="#edf8a3"/><stop offset="0.480" stop-color="#dcf19a"/><stop offset="0.520" stop-color="#cdeb9d"/><stop offset="0.560" stop-color="#bde4a0"/><stop offset="0.600" stop-color="#b5e1a2"/><stop offset="0.650" stop-color="#aadda4"/><stop offset="0.700" stop-color="#9dd8a4"/><stop offset="0.750" stop-color="#97d5a4"/><stop offset="0.800" stop-color="#92d3a4"/><stop offset="0.850" stop-color="#8dd1a4"/><stop offset="0.900" stop-color="#88cfa5"/><stop offset="0.950" stop-color="#83cda5"/><stop offset="1.000" stop-color="#7ecba5"/></linearGradient><linearGradient id="b66" x1="0" y1="0" x2="0" y2="1"><stop offset="0.000" stop-color="#a90d45"/><stop offset="0.040" stop-color="#b11646"/><stop offset="0.080" stop-color="#b81e48"/><stop offset="0.120" stop-color="#c0274a"/><stop offset="0.160" stop-color="#d23b4e"/><stop offset="0.200" stop-color="#e55649"/><stop offset="0.240" stop-color="#f57647"/><stop offset="0.280" stop-color="#fca55d"/><stop offset="0.320" stop-color="#fed27f"/><stop offset="0.360" stop-color="#feefa4"/><stop offset="0.400" stop-color="#fdfebb"/><stop offset="0.440" stop-color="#eef8a4"/><stop offset="0.480" stop-color="#def29a"/><stop offset="0.520" stop-color="#cfec9d"/><stop offset="0.560" stop-color="#c0e6a0"/><stop offset="0.600" stop-color="#b7e2a2"/><stop offset="0.650" stop-color="#acdda4"/><stop offset="0.700" stop-color="#a0d9a4"/><stop offset="0.750" stop-color="#99d6a4"/><stop offset="0.800" stop-color="#94d4a4"/><stop offset="0.850" stop-color="#8fd2a4"/><stop offset="0.900" stop-color="#8ad0a4"/><stop offset="0.950" stop-color="#85cea5"/><stop offset="1.000" stop-color="#80cca5"/></linearGradient><linearGradient id="b67" x1="0" y1="0" x2="0" y2="1"><stop offset="0.000" stop-color="#a90d44"/><stop offset="0.040" stop-color="#b01546"/><stop offset="0.080" stop-color="#b81e48"/><stop offset="0.120" stop-color="#c0274a"/><stop offset="0.160" stop-color="#d8424e"/><stop offset="0.200" stop-color="#e95c47"/><stop offset="0.240" stop-color="#f77f4c"/><stop offset="0.280" stop-color="#fdac60"/><stop offset="0.320" stop-color="#fed582"/><stop offset="0.360" stop-color="#feeea2"/><stop offset="0.400" stop-color="#ffffbf"/><stop offset="0.440" stop-color="#f0f9a8"/><stop offset="0.480" stop-color="#e3f499"/><stop offset="0.520" stop-color="#d4ee9c"/><stop offset="0.560" stop-color="#c6e89f"/><stop offset="0.600" stop-color="#bbe4a1"/><stop offset="0.650" stop-color="#b1dfa3"/><stop offset="0.700" stop-color="#a6dba4"/><stop offset="0.750" stop-color="#9dd8a4"/><stop offset="0.800" stop-color="#99d6a4"/><stop offset="0.850" stop-color="#94d4a4"/><stop offset="0.900" stop-color="#8fd2a4"/><stop offset="0.950" stop-color="#8ad0a4"/><stop offset="1.000" stop-color="#86cea5"/></linearGradient><linearGradient id="b68" x1="0" y1="0" x2="0" y2="1"><stop offset="0.000" stop-color="#ad1246"/><stop offset="0.040" stop-color="#b51b48"/><stop offset="0.080" stop-color="#be2449"/><stop offset="0.120" stop-color="#c9314c"/><stop offset="0.160" stop-color="#df4d4b"/><stop offset="0.200" stop-color="#ef6545"/><stop offset="0.240" stop-color="#f88d52"/><stop offset="0.280" stop-color="#fdb768"/><stop offset="0.320" stop-color="#feda86"/><stop offset="0.360" stop-color="#feefa4"/><stop offset="0.400" stop-color="#fffebe"/><stop offset="0.440" stop-color="#f1f9a9"/><stop offset="0.480" stop-color="#e2f399"/><stop offset="0.520" stop-color="#d4ee9c"/><stop offset="0.560" stop-color="#c6e89e"/><stop offset="0.600" stop-color="#bae3a1"/><stop offset="0.650" stop-color="#b0dfa3"/><stop offset="0.700" stop-color="#a5dba4"/><stop offset="0.750" stop-color="#9bd7a4"/><stop offset="0.800" stop-color="#97d5a4"/><stop offset="0.850" stop-color="#92d3a4"/><stop offset="0.900" stop-color="#8ed2a4"/><stop offset="0.950" stop-color="#89d0a4"/><stop offset="1.000" stop-color="#85cea5"/></linearGradient><linearGradient id="b69" x1="0" y1="0" x2="0" y2="1"><stop offset="0.000" stop-color="#ae1346"/><stop offset="0.040" stop-color="#b71d48"/><stop offset="0.080" stop-color="#c0264a"/><stop offset="0.120" stop-color="#d23b4e"/><stop offset="0.160" stop-color="#e3534a"/><stop offset="0.200" stop-color="#f46d43"/><stop offset="0.240" stop-color="#fa9656"/><stop offset="0.280" stop-color="#fdbc6c"/><stop offset="0.320" stop-color="#fedb87"/><stop offset="0.360" stop-color="#feeea2"/><stop offset="0.400" stop-color="#fffcba"/><stop offset="0.440" stop-color="#f3faad"/><stop offset="0.480" stop-color="#e4f498"/><stop offset="0.520" stop-color="#d7ef9b"/><stop offset="0.560" stop-color="#caea9e"/><stop offset="0.600" stop-color="#bde4a0"/><stop offset="0.650" stop-color="#b3e0a2"/><stop offset="0.700" stop-color="#a9dca4"/><stop offset="0.750" stop-color="#9ed8a4"/><stop offset="0.800" stop-color="#99d6a4"/><stop offset="0.850" stop-color="#95d4a4"/><stop offset="0.900" stop-color="#91d3a4"/><stop offset="0.950" stop-color="#8dd1a4"/><stop offset="1.000" stop-color="#89d0a4"/></linearGradient><linearGradient id="b70" x1="0" y1="0" x2="0" y2="1"><stop offset="0.000" stop-color="#af1446"/><stop offset="0.040" stop-color="#b81e48"/><stop offset="0.080" stop-color="#c1284a"/><stop offset="0.120" stop-color="#d8424e"/><stop offset="0.160" stop-color="#e75948"/><stop offset="0.200" stop-color="#f57647"/><stop offset="0.240" stop-color="#fb9e5a"/><stop offset="0.280" stop-color="#fdbf6f"/><stop offset="0.320" stop-color="#fedc87"/><stop offset="0.360" stop-color="#feeda0"/><stop offset="0.400" stop-color="#fffab7"/><stop offset="0.440" stop-color="#f6fbb0"/><stop offset="0.480" stop-color="#e7f599"/><stop offset="0.520" stop-color="#dbf09a"/><stop offset="0.560" stop-color="#ceeb9d"/><stop offset="0.600" stop-color="#c2e69f"/><stop offset="0.650" stop-color="#b7e2a2"/><stop offset="0.700" stop-color="#addea4"/><stop offset="0.750" stop-color="#a2daa4"/><stop offset="0.800" stop-color="#9cd7a4"/><stop offset="0.850" stop-color="#98d6a4"/><stop offset="0.900" stop-color="#94d4a4"/><stop offset="0.950" stop-color="#90d3a4"/><stop offset="1.000" stop-color="#8dd1a4"/></linearGradient><linearGradient id="b71" x1="0" y1="0" x2="0" y2="1"><stop offset="0.000" stop-color="#b11646"/><stop offset="0.040" stop-color="#bb2149"/><stop offset="0.080" stop-color="#c82f4c"/><stop offset="0.120" stop-color="#dc494c"/><stop offset="0.160" stop-color="#eb6046"/><stop offset="0.200" stop-color="#f7804c"/><stop offset="0.240" stop-color="#fca75e"/><stop offset="0.280" stop-color="#fdc373"/><stop offset="0.320" stop-color="#fedd88"/><stop offset="0.360" stop-color="#feeca0"/><stop offset="0.400" stop-color="#fff9b4"/><stop offset="0.440" stop-color="#f8fcb4"/><stop offset="0.480" stop-color="#e9f69c"/><stop offset="0.520" stop-color="#ddf19a"/><stop offset="0.560" stop-color="#d1ec9c"/><stop offset="0.600" stop-color="#c5e79f"/><stop offset="0.650" stop-color="#b9e3a1"/><stop offset="0.700" stop-color="#afdfa3"/><stop offset="0.750" stop-color="#a5dba4"/><stop offset="0.800" stop-color="#9dd7a4"/><stop offset="0.850" stop-color="#99d6a4"/><stop offset="0.900" stop-color="#96d5a4"/><stop offset="0.950" stop-color="#93d3a4"/><stop offset="1.000" stop-color="#8fd2a4"/></linearGradient><linearGradient id="b72" x1="0" y1="0" x2="0" y2="1"><stop offset="0.000" stop-color="#b11747"/><stop offset="0.040" stop-color="#bc2249"/><stop offset="0.080" stop-color="#cb334d"/><stop offset="0.120" stop-color="#de4c4c"/><stop offset="0.160" stop-color="#ed6246"/><stop offset="0.200" stop-color="#f7834d"/><stop offset="0.240" stop-color="#fca95f"/><stop offset="0.280" stop-color="#fdc473"/><stop offset="0.320" stop-color="#fedd88"/><stop offset="0.360" stop-color="#feec9f"/><stop offset="0.400" stop-color="#fff8b3"/><stop offset="0.440" stop-color="#f9fdb6"/><stop offset="0.480" stop-color="#ebf79f"/><stop offset="0.520" stop-color="#def29a"/><stop offset="0.560" stop-color="#d3ed9c"/><stop offset="0.600" stop-color="#c7e89e"/><stop offset="0.650" stop-color="#bbe3a1"/><stop offset="0.700" stop-color="#b1e0a3"/><stop offset="0.750" stop-color="#a7dca4"/><stop offset="0.800" stop-color="#9ed8a4"/><stop offset="0.850" stop-color="#9ad7a4"/><stop offset="0.900" stop-color="#97d5a4"/><stop offset="0.950" stop-color="#94d4a4"/><stop offset="1.000" stop-color="#91d3a4"/></linearGradient><linearGradient id="b73" x1="0" y1="0" x2="0" y2="1"><stop offset="0.000" stop-color="#b21747"/><stop offset="0.040" stop-color="#bc2349"/><stop offset="0.080" stop-color="#cd354d"/><stop offset="0.120" stop-color="#df4d4b"/><stop offset="0.160" stop-color="#ee6345"/><stop offset="0.200" stop-color="#f7844e"/><stop offset="0.240" stop-color="#fca95f"/><stop offset="0.280" stop-color="#fdc473"/><stop offset="0.320" stop-color="#fedd89"/><stop offset="0.360" stop-color="#feec9f"/><stop offset="0.400" stop-color="#fff8b2"/><stop offset="0.440" stop-color="#fafdb7"/><stop offset="0.480" stop-color="#ecf7a1"/><stop offset="0.520" stop-color="#e0f299"/><stop offset="0.560" stop-color="#d4ee9c"/><stop offset="0.600" stop-color="#c9e99e"/><stop offset="0.650" stop-color="#bce4a1"/><stop offset="0.700" stop-color="#b2e0a2"/><stop offset="0.750" stop-color="#a9dca4"/><stop offset="0.800" stop-color="#9ed8a4"/><stop offset="0.850" stop-color="#9bd7a4"/><stop offset="0.900" stop-color="#98d5a4"/><stop offset="0.950" stop-color="#95d4a4"/><stop offset="1.000" stop-color="#92d3a4"/></linearGradient><linearGradient id="b74" x1="0" y1="0" x2="0" y2="1"><stop offset="0.000" stop-color="#b11647"/><stop offset="0.040" stop-color="#bc2249"/><stop offset="0.080" stop-color="#cd354d"/><stop offset="0.120" stop-color="#df4e4b"/><stop offset="0.160" stop-color="#ee6445"/><stop offset="0.200" stop-color="#f7844e"/><stop offset="0.240" stop-color="#fca85e"/><stop offset="0.280" stop-color="#fdc373"/><stop offset="0.320" stop-color="#fedc88"/><stop offset="0.360" stop-color="#feeb9e"/><stop offset="0.400" stop-color="#fff6b1"/><stop offset="0.440" stop-color="#fbfeb9"/><stop offset="0.480" stop-color="#eef8a4"/><stop offset="0.520" stop-color="#e2f399"/><stop offset="0.560" stop-color="#d7ef9b"/><stop offset="0.600" stop-color="#ccea9d"/><stop offset="0.650" stop-color="#bee5a0"/><stop offset="0.700" stop-color="#b5e1a2"/><stop offset="0.750" stop-color="#acdda4"/><stop offset="0.800" stop-color="#a1d9a4"/><stop offset="0.850" stop-color="#9dd7a4"/><stop offset="0.900" stop-color="#9ad6a4"/><stop offset="0.950" stop-color="#97d5a4"/><stop offset="1.000" stop-color="#94d4a4"/></linearGradient><linearGradient id="b75" x1="0" y1="0" x2="0" y2="1"><stop offset="0.000" stop-color="#b21747"/><stop offset="0.040" stop-color="#bd2349"/><stop offset="0.080" stop-color="#cf374e"/><stop offset="0.120" stop-color="#e04f4b"/><stop offset="0.160" stop-color="#ef6645"/><stop offset="0.200" stop-color="#f7864e"/><stop offset="0.240" stop-color="#fca85e"/><stop offset="0.280" stop-color="#fdc373"/><stop offset="0.320" stop-color="#fedd88"/><stop offset="0.360" stop-color="#feeb9e"/><stop offset="0.400" stop-color="#fff6b0"/><stop offset="0.440" stop-color="#fcfeba"/><stop offset="0.480" stop-color="#eff9a6"/><stop offset="0.520" stop-color="#e3f499"/><stop offset="0.560" stop-color="#d8ef9b"/><stop offset="0.600" stop-color="#cdeb9d"/><stop offset="0.650" stop-color="#bfe5a0"/><stop offset="0.700" stop-color="#b6e1a2"/><stop offset="0.750" stop-color="#addea4"/><stop offset="0.800" stop-color="#a3daa4"/><stop offset="0.850" stop-color="#9dd7a4"/><stop offset="0.900" stop-color="#9ad6a4"/><stop offset="0.950" stop-color="#97d5a4"/><stop offset="1.000" stop-color="#94d4a4"/></linearGradient><linearGradient id="b76" x1="0" y1="0" x2="0" y2="1"><stop offset="0.000" stop-color="#b31847"/><stop offset="0.040" stop-color="#be244a"/><stop offset="0.080" stop-color="#d1394e"/><stop offset="0.120" stop-color="#e1514a"/><stop offset="0.160" stop-color="#f06744"/><stop offset="0.200" stop-color="#f8874f"/><stop offset="0.240" stop-color="#fca95f"/><stop offset="0.280" stop-color="#fdc473"/><stop offset="0.320" stop-color="#fedd88"/><stop offset="0.360" stop-color="#feeb9e"/><stop offset="0.400" stop-color="#fff6b0"/><stop offset="0.440" stop-color="#fdfebb"/><stop offset="0.480" stop-color="#f0f9a7"/><stop offset="0.520" stop-color="#e4f498"/><stop offset="0.560" stop-color="#d9f09b"/><stop offset="0.600" stop-color="#ceeb9d"/><stop offset="0.650" stop-color="#c0e6a0"/><stop offset="0.700" stop-color="#b7e2a2"/><stop offset="0.750" stop-color="#aedea3"/><stop offset="0.800" stop-color="#a4daa4"/><stop offset="0.850" stop-color="#9dd7a4"/><stop offset="0.900" stop-color="#9ad6a4"/><stop offset="0.950" stop-color="#97d5a4"/><stop offset="1.000" stop-color="#95d4a4"/></linearGradient><linearGradient id="b77" x1="0" y1="0" x2="0" y2="1"><stop offset="0.000" stop-color="#b51a47"/><stop offset="0.040" stop-color="#c0264a"/><stop offset="0.080" stop-color="#d43d4f"/><stop offset="0.120" stop-color="#e3534a"/><stop offset="0.160" stop-color="#f26a44"/><stop offset="0.200" stop-color="#f88a50"/><stop offset="0.240" stop-color="#fdab60"/><stop offset="0.280" stop-color="#fdc574"/><stop offset="0.320" stop-color="#fede8a"/><stop offset="0.360" stop-color="#feec9f"/><stop offset="0.400" stop-color="#fff7b1"/><stop offset="0.440" stop-color="#fdfebc"/><stop offset="0.480" stop-color="#f0f9a8"/><stop offset="0.520" stop-color="#e4f498"/><stop offset="0.560" stop-color="#d9f09b"/><stop offset="0.600" stop-color="#ceeb9d"/><stop offset="0.650" stop-color="#c1e6a0"/><stop offset="0.700" stop-color="#b7e2a2"/><stop offset="0.750" stop-color="#aedea3"/><stop offset="0.800" stop-color="#a4daa4"/><stop offset="0.850" stop-color="#9cd7a4"/><stop offset="0.900" stop-color="#99d6a4"/><stop offset="0.950" stop-color="#96d5a4"/><stop offset="1.000" stop-color="#94d4a4"/></linearGradient><linearGradient id="b78" x1="0" y1="0" x2="0" y2="1"><stop offset="0.000" stop-color="#b51a47"/><stop offset="0.040" stop-color="#c0274a"/><stop offset="0.080" stop-color="#d43d4f"/><stop offset="0.120" stop-color="#e3534a"/><stop offset="0.160" stop-color="#f26944"/><stop offset="0.200" stop-color="#f88950"/><stop offset="0.240" stop-color="#fcaa5f"/><stop offset="0.280" stop-color="#fdc473"/><stop offset="0.320" stop-color="#fedd89"/><stop offset="0.360" stop-color="#feec9e"/><stop offset="0.400" stop-color="#fff6b0"/><stop offset="0.440" stop-color="#fdfebc"/><stop offset="0.480" stop-color="#f1faaa"/><stop offset="0.520" stop-color="#e5f498"/><stop offset="0.560" stop-color="#daf09a"/><stop offset="0.600" stop-color="#cfec9d"/><stop offset="0.650" stop-color="#c2e69f"/><stop offset="0.700" stop-color="#b8e2a1"/><stop offset="0.750" stop-color="#afdfa3"/><stop offset="0.800" stop-color="#a5dba4"/><stop offset="0.850" stop-color="#9cd7a4"/><stop offset="0.900" stop-color="#99d6a4"/><stop offset="0.950" stop-color="#97d5a4"/><stop offset="1.000" stop-color="#95d4a4"/></linearGradient><linearGradient id="b79" x1="0" y1="0" x2="0" y2="1"><stop offset="0.000" stop-color="#b61c48"/><stop offset="0.040" stop-color="#c1284a"/><stop offset="0.080" stop-color="#d53e4f"/><stop offset="0.120" stop-color="#e3534a"/><stop offset="0.160" stop-color="#f26944"/><stop offset="0.200" stop-color="#f88950"/><stop offset="0.240" stop-color="#fcaa5f"/><stop offset="0.280" stop-color="#fdc474"/><stop offset="0.320" stop-color="#fedd89"/><stop offset="0.360" stop-color="#feec9f"/><stop offset="0.400" stop-color="#fff6b0"/><stop offset="0.440" stop-color="#fdfebc"/><stop offset="0.480" stop-color="#f2faaa"/><stop offset="0.520" stop-color="#e5f598"/><stop offset="0.560" stop-color="#daf09a"/><stop offset="0.600" stop-color="#cfec9d"/><stop offset="0.650" stop-color="#c2e69f"/><stop offset="0.700" stop-color="#b7e2a2"/><stop offset="0.750" stop-color="#aedea3"/><stop offset="0.800" stop-color="#a5dba4"/><stop offset="0.850" stop-color="#9bd7a4"/><stop offset="0.900" stop-color="#98d6a4"/><stop offset="0.950" stop-color="#96d5a4"/><stop offset="1.000" stop-color="#94d4a4"/></linearGradient><linearGradient id="b80" x1="0" y1="0" x2="0" y2="1"><stop offset="0.000" stop-color="#b31947"/><stop offset="0.040" stop-color="#be254a"/><stop offset="0.080" stop-color="#d23a4e"/><stop offset="0.120" stop-color="#e1504a"/><stop offset="0.160" stop-color="#ef6645"/><stop offset="0.200" stop-color="#f7844e"/><stop offset="0.240" stop-color="#fca55d"/><stop offset="0.280" stop-color="#fdc070"/><stop offset="0.320" stop-color="#feda86"/><stop offset="0.360" stop-color="#feea9b"/><stop offset="0.400" stop-color="#fff4ad"/><stop offset="0.440" stop-color="#ffffbf"/><stop offset="0.480" stop-color="#f4faad"/><stop offset="0.520" stop-color="#e8f69b"/><stop offset="0.560" stop-color="#def29a"/><stop offset="0.600" stop-color="#d3ed9c"/><stop offset="0.650" stop-color="#c6e89e"/><stop offset="0.700" stop-color="#bbe4a1"/><stop offset="0.750" stop-color="#b2e0a2"/><stop offset="0.800" stop-color="#a9dca4"/><stop offset="0.850" stop-color="#9fd8a4"/><stop offset="0.900" stop-color="#9cd7a4"/><stop offset="0.950" stop-color="#9ad6a4"/><stop offset="1.000" stop-color="#98d6a4"/></linearGradient><linearGradient id="b81" x1="0" y1="0" x2="0" y2="1"><stop offset="0.000" stop-color="#b61c48"/><stop offset="0.040" stop-color="#c1284a"/><stop offset="0.080" stop-color="#d43d4f"/><stop offset="0.120" stop-color="#e2524a"/><stop offset="0.160" stop-color="#f06745"/><stop offset="0.200" stop-color="#f7864e"/><stop offset="0.240" stop-color="#fca75e"/><stop offset="0.280" stop-color="#fdc272"/><stop offset="0.320" stop-color="#fedb87"/><stop offset="0.360" stop-color="#feeb9d"/><stop offset="0.400" stop-color="#fff5af"/><stop offset="0.440" stop-color="#feffbe"/><stop offset="0.480" stop-color="#f3faac"/><stop offset="0.520" stop-color="#e8f69b"/><stop offset="0.560" stop-color="#dcf19a"/><stop offset="0.600" stop-color="#d2ed9c"/><stop offset="0.650" stop-color="#c5e79f"/><stop offset="0.700" stop-color="#b9e3a1"/><stop offset="0.750" stop-color="#b0dfa3"/><stop offset="0.800" stop-color="#a7dba4"/><stop offset="0.850" stop-color="#9dd7a4"/><stop offset="0.900" stop-color="#99d6a4"/><stop offset="0.950" stop-color="#97d5a4"/><stop offset="1.000" stop-color="#95d4a4"/></linearGradient><linearGradient id="b82" x1="0" y1="0" x2="0" y2="1"><stop offset="0.000" stop-color="#b31847"/><stop offset="0.040" stop-color="#be254a"/><stop offset="0.080" stop-color="#d13a4e"/><stop offset="0.120" stop-color="#e04f4b"/><stop offset="0.160" stop-color="#ee6345"/><stop offset="0.200" stop-color="#f7814c"/><stop offset="0.240" stop-color="#fba25b"/><stop offset="0.280" stop-color="#fdbe6e"/><stop offset="0.320" stop-color="#fed784"/><stop offset="0.360" stop-color="#fee99a"/><stop offset="0.400" stop-color="#fff3ab"/><stop offset="0.440" stop-color="#fffebd"/><stop offset="0.480" stop-color="#f5fbb0"/><stop offset="0.520" stop-color="#eaf79e"/><stop offset="0.560" stop-color="#e0f399"/><stop offset="0.600" stop-color="#d6ee9b"/><stop offset="0.650" stop-color="#c9e99e"/><stop offset="0.700" stop-color="#bde4a0"/><stop offset="0.750" stop-color="#b5e1a2"/><stop offset="0.800" stop-color="#acdda4"/><stop offset="0.850" stop-color="#a2d9a4"/><stop offset="0.900" stop-color="#9dd8a4"/><stop offset="0.950" stop-color="#9bd7a4"/><stop offset="1.000" stop-color="#9ad6a4"/></linearGradient><linearGradient id="b83" x1="0" y1="0" x2="0" y2="1"><stop offset="0.000" stop-color="#b21747"/><stop offset="0.040" stop-color="#bd2349"/><stop offset="0.080" stop-color="#d0384e"/><stop offset="0.120" stop-color="#df4d4b"/><stop offset="0.160" stop-color="#ec6146"/><stop offset="0.200" stop-color="#f67e4b"/><stop offset="0.240" stop-color="#fb9f5a"/><stop offset="0.280" stop-color="#fdbc6c"/><stop offset="0.320" stop-color="#fed582"/><stop offset="0.360" stop-color="#fee898"/><stop offset="0.400" stop-color="#fff2a9"/><stop offset="0.440" stop-color="#fffdbb"/><stop offset="0.480" stop-color="#f6fcb2"/><stop offset="0.520" stop-color="#ebf7a1"/><stop offset="0.560" stop-color="#e2f399"/><stop offset="0.600" stop-color="#d8ef9b"/><stop offset="0.650" stop-color="#ccea9d"/><stop offset="0.700" stop-color="#bfe5a0"/><stop offset="0.750" stop-color="#b7e2a2"/><stop offset="0.800" stop-color="#aedea3"/><stop offset="0.850" stop-color="#a4daa4"/><stop offset="0.900" stop-color="#9fd8a4"/><stop offset="0.950" stop-color="#9dd8a4"/><stop offset="1.000" stop-color="#9cd7a4"/></linearGradient><linearGradient id="b84" x1="0" y1="0" x2="0" y2="1"><stop offset="0.000" stop-color="#b51b47"/><stop offset="0.040" stop-color="#c0274a"/><stop offset="0.080" stop-color="#d33b4e"/><stop offset="0.120" stop-color="#e1504a"/><stop offset="0.160" stop-color="#ee6345"/><stop offset="0.200" stop-color="#f7804c"/><stop offset="0.240" stop-color="#fba15b"/><stop offset="0.280" stop-color="#fdbd6e"/><stop offset="0.320" stop-color="#fed783"/><stop offset="0.360" stop-color="#fee99a"/><stop offset="0.400" stop-color="#fff3ac"/><stop offset="0.440" stop-color="#fffebd"/><stop offset="0.480" stop-color="#f6fbb0"/><stop offset="0.520" stop-color="#ebf7a0"/><stop offset="0.560" stop-color="#e0f299"/><stop offset="0.600" stop-color="#d6ee9b"/><stop offset="0.650" stop-color="#c9e99e"/><stop offset="0.700" stop-color="#bde4a0"/><stop offset="0.750" stop-color="#b4e1a2"/><stop offset="0.800" stop-color="#abdda4"/><stop offset="0.850" stop-color="#a1d9a4"/><stop offset="0.900" stop-color="#9bd7a4"/><stop offset="0.950" stop-color="#9ad6a4"/><stop offset="1.000" stop-color="#98d6a4"/></linearGradient><linearGradient id="b85" x1="0" y1="0" x2="0" y2="1"><stop offset="0.000" stop-color="#b51a47"/><stop offset="0.040" stop-color="#c0264a"/><stop offset="0.080" stop-color="#d23a4e"/><stop offset="0.120" stop-color="#e04f4b"/><stop offset="0.160" stop-color="#ed6246"/><stop offset="0.200" stop-color="#f67e4b"/><stop offset="0.240" stop-color="#fb9f5a"/><stop offset="0.280" stop-color="#fdbc6d"/><stop offset="0.320" stop-color="#fed582"/><stop offset="0.360" stop-color="#fee899"/><stop offset="0.400" stop-color="#fff3aa"/><stop offset="0.440" stop-color="#fffdbc"/><stop offset="0.480" stop-color="#f6fcb2"/><stop offset="0.520" stop-color="#ecf7a1"/><stop offset="0.560" stop-color="#e1f399"/><stop offset="0.600" stop-color="#d7ef9b"/><stop offset="0.650" stop-color="#cbea9e"/><stop offset="0.700" stop-color="#bee5a0"/><stop offset="0.750" stop-color="#b5e1a2"/><stop offset="0.800" stop-color="#addea4"/><stop offset="0.850" stop-color="#a3daa4"/><stop offset="0.900" stop-color="#9cd7a4"/><stop offset="0.950" stop-color="#9bd7a4"/><stop offset="1.000" stop-color="#9ad6a4"/></linearGradient><linearGradient id="b86" x1="0" y1="0" x2="0" y2="1"><stop offset="0.000" stop-color="#b51a47"/><stop offset="0.040" stop-color="#bf264a"/><stop offset="0.080" stop-color="#d0394e"/><stop offset="0.120" stop-color="#df4e4b"/><stop offset="0.160" stop-color="#ec6146"/><stop offset="0.200" stop-color="#f67c4a"/><stop offset="0.240" stop-color="#fb9d59"/><stop offset="0.280" stop-color="#fdbb6c"/><stop offset="0.320" stop-color="#fed481"/><stop offset="0.360" stop-color="#fee898"/><stop offset="0.400" stop-color="#fff2a9"/><stop offset="0.440" stop-color="#fffdbb"/><stop offset="0.480" stop-color="#f7fcb2"/><stop offset="0.520" stop-color="#ecf8a2"/><stop offset="0.560" stop-color="#e2f399"/><stop offset="0.600" stop-color="#d8ef9b"/><stop offset="0.650" stop-color="#ccea9d"/><stop offset="0.700" stop-color="#bfe5a0"/><stop offset="0.750" stop-color="#b6e1a2"/><stop offset="0.800" stop-color="#addea4"/><stop offset="0.850" stop-color="#a3daa4"/><stop offset="0.900" stop-color="#9cd7a4"/><stop offset="0.950" stop-color="#9bd7a4"/><stop offset="1.000" stop-color="#9ad6a4"/></linearGradient><linearGradient id="b87" x1="0" y1="0" x2="0" y2="1"><stop offset="0.000" stop-color="#b31847"/><stop offset="0.040" stop-color="#bd2449"/><stop offset="0.080" stop-color="#ce364d"/><stop offset="0.120" stop-color="#de4b4c"/><stop offset="0.160" stop-color="#eb5f47"/><stop offset="0.200" stop-color="#f67949"/><stop offset="0.240" stop-color="#fa9a58"/><stop offset="0.280" stop-color="#fdb869"/><stop offset="0.320" stop-color="#fed17f"/><stop offset="0.360" stop-color="#fee696"/><stop offset="0.400" stop-color="#fff1a7"/><stop offset="0.440" stop-color="#fffbb9"/><stop offset="0.480" stop-color="#f8fcb4"/><stop offset="0.520" stop-color="#eef8a4"/><stop offset="0.560" stop-color="#e4f498"/><stop offset="0.600" stop-color="#daf09a"/><stop offset="0.650" stop-color="#ceeb9d"/><stop offset="0.700" stop-color="#c1e69f"/><stop offset="0.750" stop-color="#b8e2a1"/><stop offset="0.800" stop-color="#afdfa3"/><stop offset="0.850" stop-color="#a6dba4"/><stop offset="0.900" stop-color="#9ed8a4"/><stop offset="0.950" stop-color="#9dd8a4"/><stop offset="1.000" stop-color="#9cd7a4"/></linearGradient><linearGradient id="b88" x1="0" y1="0" x2="0" y2="1"><stop offset="0.000" stop-color="#b51a47"/><stop offset="0.040" stop-color="#bf264a"/><stop offset="0.080" stop-color="#cf374e"/><stop offset="0.120" stop-color="#de4c4b"/><stop offset="0.160" stop-color="#eb6046"/><stop offset="0.200" stop-color="#f67a49"/><stop offset="0.240" stop-color="#fa9b58"/><stop offset="0.280" stop-color="#fdb96a"/><stop offset="0.320" stop-color="#fed27f"/><stop offset="0.360" stop-color="#fee797"/><stop offset="0.400" stop-color="#fff1a8"/><stop offset="0.440" stop-color="#fffcba"/><stop offset="0.480" stop-color="#f8fcb4"/><stop offset="0.520" stop-color="#edf8a3"/><stop offset="0.560" stop-color="#e2f399"/><stop offset="0.600" stop-color="#d8ef9b"/><stop offset="0.650" stop-color="#ccea9d"/><stop offset="0.700" stop-color="#c0e5a0"/><stop offset="0.750" stop-color="#b6e2a2"/><stop offset="0.800" stop-color="#addea4"/><stop offset="0.850" stop-color="#a4daa4"/><stop offset="0.900" stop-color="#9cd7a4"/><stop offset="0.950" stop-color="#9bd7a4"/><stop offset="1.000" stop-color="#9ad7a4"/></linearGradient><linearGradient id="b89" x1="0" y1="0" x2="0" y2="1"><stop offset="0.000" stop-color="#b41a47"/><stop offset="0.040" stop-color="#be244a"/><stop offset="0.080" stop-color="#cd354d"/><stop offset="0.120" stop-color="#dd4b4c"/><stop offset="0.160" stop-color="#ea5e47"/><stop offset="0.200" stop-color="#f57848"/><stop offset="0.240" stop-color="#fa9857"/><stop offset="0.280" stop-color="#fdb768"/><stop offset="0.320" stop-color="#fed07e"/><stop offset="0.360" stop-color="#fee695"/><stop offset="0.400" stop-color="#fff0a7"/><stop offset="0.440" stop-color="#fffbb8"/><stop offset="0.480" stop-color="#f9fcb5"/><stop offset="0.520" stop-color="#eef8a4"/><stop offset="0.560" stop-color="#e4f499"/><stop offset="0.600" stop-color="#daf09b"/><stop offset="0.650" stop-color="#cdeb9d"/><stop offset="0.700" stop-color="#c1e6a0"/><stop offset="0.750" stop-color="#b7e2a2"/><stop offset="0.800" stop-color="#afdea3"/><stop offset="0.850" stop-color="#a5dba4"/><stop offset="0.900" stop-color="#9dd7a4"/><stop offset="0.950" stop-color="#9cd7a4"/><stop offset="1.000" stop-color="#9cd7a4"/></linearGradient><linearGradient id="b90" x1="0" y1="0" x2="0" y2="1"><stop offset="0.000" stop-color="#b51a47"/><stop offset="0.040" stop-color="#be254a"/><stop offset="0.080" stop-color="#cc344d"/><stop offset="0.120" stop-color="#dd4a4c"/><stop offset="0.160" stop-color="#ea5e47"/><stop offset="0.200" stop-color="#f57747"/><stop offset="0.240" stop-color="#fa9757"/><stop offset="0.280" stop-color="#fdb668"/><stop offset="0.320" stop-color="#fecf7d"/><stop offset="0.360" stop-color="#fee594"/><stop offset="0.400" stop-color="#fff0a6"/><stop offset="0.440" stop-color="#fffbb8"/><stop offset="0.480" stop-color="#f9fdb5"/><stop offset="0.520" stop-color="#eef8a5"/><stop offset="0.560" stop-color="#e3f499"/><stop offset="0.600" stop-color="#daf09b"/><stop offset="0.650" stop-color="#cdeb9d"/><stop offset="0.700" stop-color="#c1e6a0"/><stop offset="0.750" stop-color="#b7e2a2"/><stop offset="0.800" stop-color="#aedea3"/><stop offset="0.850" stop-color="#a5dba4"/><stop offset="0.900" stop-color="#9cd7a4"/><stop offset="0.950" stop-color="#9cd7a4"/><stop offset="1.000" stop-color="#9cd7a4"/></linearGradient><linearGradient id="b91" x1="0" y1="0" x2="0" y2="1"><stop offset="0.000" stop-color="#b41a47"/><stop offset="0.040" stop-color="#bd2449"/><stop offset="0.080" stop-color="#cb334d"/><stop offset="0.120" stop-color="#dc494c"/><stop offset="0.160" stop-color="#e95c47"/><stop offset="0.200" stop-color="#f57547"/><stop offset="0.240" stop-color="#fa9656"/><stop offset="0.280" stop-color="#fdb567"/><stop offset="0.320" stop-color="#fece7c"/><stop offset="0.360" stop-color="#fee493"/><stop offset="0.400" stop-color="#fff0a5"/><stop offset="0.440" stop-color="#fffab7"/><stop offset="0.480" stop-color="#f9fdb6"/><stop offset="0.520" stop-color="#eff9a6"/><stop offset="0.560" stop-color="#e4f498"/><stop offset="0.600" stop-color="#daf09a"/><stop offset="0.650" stop-color="#ceeb9d"/><stop offset="0.700" stop-color="#c2e69f"/><stop offset="0.750" stop-color="#b8e2a1"/><stop offset="0.800" stop-color="#afdfa3"/><stop offset="0.850" stop-color="#a6dba4"/><stop offset="0.900" stop-color="#9dd7a4"/><stop offset="0.950" stop-color="#9dd7a4"/><stop offset="1.000" stop-color="#9cd7a4"/></linearGradient><linearGradient id="b92" x1="0" y1="0" x2="0" y2="1"><stop offset="0.000" stop-color="#b31847"/><stop offset="0.040" stop-color="#bc2249"/><stop offset="0.080" stop-color="#c8304c"/><stop offset="0.120" stop-color="#db474d"/><stop offset="0.160" stop-color="#e85a48"/><stop offset="0.200" stop-color="#f57145"/><stop offset="0.240" stop-color="#f99254"/><stop offset="0.280" stop-color="#fdb264"/><stop offset="0.320" stop-color="#fecb7a"/><stop offset="0.360" stop-color="#fee390"/><stop offset="0.400" stop-color="#feeea3"/><stop offset="0.440" stop-color="#fff9b4"/><stop offset="0.480" stop-color="#fbfdb8"/><stop offset="0.520" stop-color="#f0f9a8"/><stop offset="0.560" stop-color="#e6f598"/><stop offset="0.600" stop-color="#ddf19a"/><stop offset="0.650" stop-color="#d0ec9c"/><stop offset="0.700" stop-color="#c4e79f"/><stop offset="0.750" stop-color="#bae3a1"/><stop offset="0.800" stop-color="#b1e0a3"/><stop offset="0.850" stop-color="#a8dca4"/><stop offset="0.900" stop-color="#9fd8a4"/><stop offset="0.950" stop-color="#9fd8a4"/><stop offset="1.000" stop-color="#9fd8a4"/></linearGradient><linearGradient id="b93" x1="0" y1="0" x2="0" y2="1"><stop offset="0.000" stop-color="#b51b47"/><stop offset="0.040" stop-color="#be244a"/><stop offset="0.080" stop-color="#cb334d"/><stop offset="0.120" stop-color="#dc494c"/><stop offset="0.160" stop-color="#e95c47"/><stop offset="0.200" stop-color="#f57446"/><stop offset="0.240" stop-color="#fa9555"/><stop offset="0.280" stop-color="#fdb466"/><stop offset="0.320" stop-color="#fecd7b"/><stop offset="0.360" stop-color="#fee492"/><stop offset="0.400" stop-color="#fff0a5"/><stop offset="0.440" stop-color="#fffab7"/><stop offset="0.480" stop-color="#fafdb7"/><stop offset="0.520" stop-color="#eff9a6"/><stop offset="0.560" stop-color="#e4f498"/><stop offset="0.600" stop-color="#daf09a"/><stop offset="0.650" stop-color="#ceeb9d"/><stop offset="0.700" stop-color="#c1e69f"/><stop offset="0.750" stop-color="#b7e2a2"/><stop offset="0.800" stop-color="#afdea3"/><stop offset="0.850" stop-color="#a5dba4"/><stop offset="0.900" stop-color="#9cd7a4"/><stop offset="0.950" stop-color="#9cd7a4"/><stop offset="1.000" stop-color="#9cd7a4"/></linearGradient><linearGradient id="b94" x1="0" y1="0" x2="0" y2="1"><stop offset="0.000" stop-color="#b41947"/><stop offset="0.040" stop-color="#bd2349"/><stop offset="0.080" stop-color="#ca314c"/><stop offset="0.120" stop-color="#db484d"/><stop offset="0.160" stop-color="#e85b48"/><stop offset="0.200" stop-color="#f57346"/><stop offset="0.240" stop-color="#f99455"/><stop offset="0.280" stop-color="#fdb365"/><stop offset="0.320" stop-color="#fecc7a"/><stop offset="0.360" stop-color="#fee491"/><stop offset="0.400" stop-color="#feefa4"/><stop offset="0.440" stop-color="#fff9b6"/><stop offset="0.480" stop-color="#fafdb7"/><stop offset="0.520" stop-color="#f0f9a7"/><stop offset="0.560" stop-color="#e5f598"/><stop offset="0.600" stop-color="#dbf19a"/><stop offset="0.650" stop-color="#cfec9d"/><stop offset="0.700" stop-color="#c3e79f"/><stop offset="0.750" stop-color="#b8e2a1"/><stop offset="0.800" stop-color="#b0dfa3"/><stop offset="0.850" stop-color="#a6dba4"/><stop offset="0.900" stop-color="#9dd8a4"/><stop offset="0.950" stop-color="#9dd8a4"/><stop offset="1.000" stop-color="#9dd8a4"/></linearGradient><linearGradient id="b95" x1="0" y1="0" x2="0" y2="1"><stop offset="0.000" stop-color="#b41947"/><stop offset="0.040" stop-color="#bd2349"/><stop offset="0.080" stop-color="#c9314c"/><stop offset="0.120" stop-color="#db474d"/><stop offset="0.160" stop-color="#e85b48"/><stop offset="0.200" stop-color="#f57245"/><stop offset="0.240" stop-color="#f99355"/><stop offset="0.280" stop-color="#fdb365"/><stop offset="0.320" stop-color="#fecc7a"/><stop offset="0.360" stop-color="#fee391"/><stop offset="0.400" stop-color="#feefa4"/><stop offset="0.440" stop-color="#fff9b5"/><stop offset="0.480" stop-color="#fafdb8"/><stop offset="0.520" stop-color="#f0f9a7"/><stop offset="0.560" stop-color="#e5f598"/><stop offset="0.600" stop-color="#dbf19a"/><stop offset="0.650" stop-color="#cfec9d"/><stop offset="0.700" stop-color="#c3e79f"/><stop offset="0.750" stop-color="#b9e3a1"/><stop offset="0.800" stop-color="#b0dfa3"/><stop offset="0.850" stop-color="#a7dba4"/><stop offset="0.900" stop-color="#9ed8a4"/><stop offset="0.950" stop-color="#9ed8a4"/><stop offset="1.000" stop-color="#9ed8a4"/></linearGradient><linearGradient id="cb" x1="0" y1="0" x2="0" y2="1"><stop offset="0.00" stop-color="#9e0142"/><stop offset="0.10" stop-color="#d53e4f"/><stop offset="0.20" stop-color="#f46d43"/><stop offset="0.30" stop-color="#fdae61"/><stop offset="0.40" stop-color="#fee08b"/><stop offset="0.50" stop-color="#ffffbf"/><stop offset="0.60" stop-color="#e6f598"/><stop offset="0.70" stop-color="#abdda4"/><stop offset="0.80" stop-color="#66c2a5"/><stop offset="0.90" stop-color="#3288bd"/><stop offset="1.00" stop-color="#5e4fa2"/></linearGradient></defs>
<rect x="19.20" y="27.80" width="2.61" height="73.40" fill="url(#a0)"/><rect x="21.21" y="27.80" width="2.61" height="73.40" fill="url(#a1)"/><rect x="23.23" y="27.80" width="2.61" height="73.40" fill="url(#a2)"/><rect x="25.24" y="27.80" width="2.61" height="73.40" fill="url(#a3)"/><rect x="27.25" y="27.80" width="2.61" height="73.40" fill="url(#a4)"/><rect x="29.27" y="27.80" width="2.61" height="73.40" fill="url(#a5)"/><rect x="31.28" y="27.80" width="2.61" height="73.40" fill="url(#a6)"/><rect x="33.29" y="27.80" width="2.61" height="73.40" fill="url(#a7)"/><rect x="35.31" y="27.80" width="2.61" height="73.40" fill="url(#a8)"/><rect x="37.32" y="27.80" width="2.61" height="73.40" fill="url(#a9)"/><rect x="39.34" y="27.80" width="2.61" height="73.40" fill="url(#a10)"/><rect x="41.35" y="27.80" width="2.61" height="73.40" fill="url(#a11)"/><rect x="43.36" y="27.80" width="2.61" height="73.40" fill="url(#a12)"/><rect x="45.38" y="27.80" width="2.61" height="73.40" fill="url(#a13)"/><rect x="47.39" y="27.80" width="2.61" height="73.40" fill="url(#a14)"/><rect x="49.40" y="27.80" width="2.61" height="73.40" fill="url(#a15)"/><rect x="51.42" y="27.80" width="2.61" height="73.40" fill="url(#a16)"/><rect x="53.43" y="27.80" width="2.61" height="73.40" fill="url(#a17)"/><rect x="55.44" y="27.80" width="2.61" height="73.40" fill="url(#a18)"/><rect x="57.46" y="27.80" width="2.61" height="73.40" fill="url(#a19)"/><rect x="59.47" y="27.80" width="2.61" height="73.40" fill="url(#a20)"/><rect x="61.48" y="27.80" width="2.61" height="73.40" fill="url(#a21)"/><rect x="63.50" y="27.80" width="2.61" height="73.40" fill="url(#a22)"/><rect x="65.51" y="27.80" width="2.61" height="73.40" fill="url(#a23)"/><rect x="67.53" y="27.80" width="2.61" height="73.40" fill="url(#a24)"/><rect x="69.54" y="27.80" width="2.61" height="73.40" fill="url(#a25)"/><rect x="71.55" y="27.80" width="2.61" height="73.40" fill="url(#a26)"/><rect x="73.57" y="27.80" width="2.61" height="73.40" fill="url(#a27)"/><rect x="75.58" y="27.80" width="2.61" height="73.40" fill="url(#a28)"/><rect x="77.59" y="27.80" width="2.61" height="73.40" fill="url(#a29)"/><rect x="79.61" y="27.80" width="2.61" height="73.40" fill="url(#a30)"/><rect x="81.62" y="27.80" width="2.61" height="73.40" fill="url(#a31)"/><rect x="83.63" y="27.80" width="2.61" height="73.40" fill="url(#a32)"/><rect x="85.65" y="27.80" width="2.61" height="73.40" fill="url(#a33)"/><rect x="87.66" y="27.80" width="2.61" height="73.40" fill="url(#a34)"/><rect x="89.67" y="27.80" width="2.61" height="73.40" fill="url(#a35)"/><rect x="91.69" y="27.80" width="2.61" height="73.40" fill="url(#a36)"/><rect x="93.70" y="27.80" width="2.61" height="73.40" fill="url(#a37)"/><rect x="95.71" y="27.80" width="2.61" height="73.40" fill="url(#a38)"/><rect x="97.73" y="27.80" width="2.61" height="73.40" fill="url(#a39)"/><rect x="99.74" y="27.80" width="2.61" height="73.40" fill="url(#a40)"/><rect x="101.76" y="27.80" width="2.61" height="73.40" fill="url(#a41)"/><rect x="103.77" y="27.80" width="2.61" height="73.40" fill="url(#a42)"/><rect x="105.78" y="27.80" width="2.61" height="73.40" fill="url(#a43)"/><rect x="107.80" y="27.80" width="2.61" height="73.40" fill="url(#a44)"/><rect x="109.81" y="27.80" width="2.61" height="73.40" fill="url(#a45)"/><rect x="111.82" y="27.80" width="2.61" height="73.40" fill="url(#a46)"/><rect x="113.84" y="27.80" width="2.61" height="73.40" fill="url(#a47)"/><rect x="115.85" y="27.80" width="2.61" height="73.40" fill="url(#a48)"/><rect x="117.86" y="27.80" width="2.61" height="73.40" fill="url(#a49)"/><rect x="119.88" y="27.80" width="2.61" height="73.40" fill="url(#a50)"/><rect x="121.89" y="27.80" width="2.61" height="73.40" fill="url(#a51)"/><rect x="123.90" y="27.80" width="2.61" height="73.40" fill="url(#a52)"/><rect x="125.92" y="27.80" width="2.61" height="73.40" fill="url(#a53)"/><rect x="127.93" y="27.80" width="2.61" height="73.40" fill="url(#a54)"/><rect x="129.94" y="27.80" width="2.61" height="73.40" fill="url(#a55)"/><rect x="131.96" y="27.80" width="2.61" height="73.40" fill="url(#a56)"/><rect x="133.97" y="27.80" width="2.61" height="73.40" fill="url(#a57)"/><rect x="135.99" y="27.80" width="2.61" height="73.40" fill="url(#a58)"/><rect x="138.00" y="27.80" width="2.61" height="73.40" fill="url(#a59)"/><rect x="140.01" y="27.80" width="2.61" height="73.40" fill="url(#a60)"/><rect x="142.03" y="27.80" width="2.61" height="73.40" fill="url(#a61)"/><rect x="144.04" y="27.80" width="2.61" height="73.40" fill="url(#a62)"/><rect x="146.05" y="27.80" width="2.61" height="73.40" fill="url(#a63)"/><rect x="148.07" y="27.80" width="2.61" height="73.40" fill="url(#a64)"/><rect x="150.08" y="27.80" width="2.61" height="73.40" fill="url(#a65)"/><rect x="152.09" y="27.80" width="2.61" height="73.40" fill="url(#a66)"/><rect x="154.11" y="27.80" width="2.61" height="73.40" fill="url(#a67)"/><rect x="156.12" y="27.80" width="2.61" height="73.40" fill="url(#a68)"/><rect x="158.13" y="27.80" width="2.61" height="73.40" fill="url(#a69)"/><rect x="160.15" y="27.80" width="2.61" height="73.40" fill="url(#a70)"/><rect x="162.16" y="27.80" width="2.61" height="73.40" fill="url(#a71)"/><rect x="164.18" y="27.80" width="2.61" height="73.40" fill="url(#a72)"/><rect x="166.19" y="27.80" width="2.61" height="73.40" fill="url(#a73)"/><rect x="168.20" y="27.80" width="2.61" height="73.40" fill="url(#a74)"/><rect x="170.22" y="27.80" width="2.61" height="73.40" fill="url(#a75)"/><rect x="172.23" y="27.80" width="2.61" height="73.40" fill="url(#a76)"/><rect x="174.24" y="27.80" width="2.61" height="73.40" fill="url(#a77)"/><rect x="176.26" y="27.80" width="2.61" height="73.40" fill="url(#a78)"/><rect x="178.27" y="27.80" width="2.61" height="73.40" fill="url(#a79)"/><rect x="180.28" y="27.80" width="2.61" height="73.40" fill="url(#a80)"/><rect x="182.30" y="27.80" width="2.61" height="73.40" fill="url(#a81)"/><rect x="184.31" y="27.80" width="2.61" height="73.40" fill="url(#a82)"/><rect x="186.32" y="27.80" width="2.61" height="73.40" fill="url(#a83)"/><rect x="188.34" y="27.80" width="2.61" height="73.40" fill="url(#a84)"/><rect x="190.35" y="27.80" width="2.61" height="73.40" fill="url(#a85)"/><rect x="192.36" y="27.80" width="2.61" height="73.40" fill="url(#a86)"/><rect x="194.38" y="27.80" width="2.61" height="73.40" fill="url(#a87)"/><rect x="196.39" y="27.80" width="2.61" height="73.40" fill="url(#a88)"/><rect x="198.41" y="27.80" width="2.61" height="73.40" fill="url(#a89)"/><rect x="200.42" y="27.80" width="2.61" height="73.40" fill="url(#a90)"/><rect x="202.43" y="27.80" width="2.61" height="73.40" fill="url(#a91)"/><rect x="204.45" y="27.80" width="2.61" height="73.40" fill="url(#a92)"/><rect x="206.46" y="27.80" width="2.61" height="73.40" fill="url(#a93)"/><rect x="208.47" y="27.80" width="2.61" height="73.40" fill="url(#a94)"/><rect x="210.49" y="27.80" width="2.61" height="73.40" fill="url(#a95)"/>
<path d="M19.60 27.80V32.80M19.60 38.75V43.75M19.60 49.70V54.70M19.60 60.65V65.65M19.60 71.60V76.60M19.60 82.55V87.55M19.60 93.50V98.50" stroke="#111" stroke-width="1.60" fill="none"/>
<path d="M147.90 27.80V32.80M147.90 38.75V43.75M147.90 49.70V54.70M147.90 60.65V65.65M147.90 71.60V76.60M147.90 82.55V87.55M147.90 93.50V98.50" stroke="#111" stroke-width="1.60" fill="none"/>
<path d="M156.10 27.80V32.80M156.10 38.75V43.75M156.10 49.70V54.70M156.10 60.65V65.65M156.10 71.60V76.60M156.10 82.55V87.55M156.10 93.50V98.50" stroke="#111" stroke-width="1.60" fill="none"/>
<path d="M212.30 27.80V32.80M212.30 38.75V43.75M212.30 49.70V54.70M212.30 60.65V65.65M212.30 71.60V76.60M212.30 82.55V87.55M212.30 93.50V98.50" stroke="#111" stroke-width="1.60" fill="none"/>
<path d="M19.50 22.80Q19.50 16.30 20.70 16.30H210.30Q211.50 16.30 211.50 22.80" stroke="#7a7a7a" stroke-width="0.7" fill="none"/><path d="M59.40 16.30V10.70" stroke="#7a7a7a" stroke-width="0.7"/>
<path d="M147.9 16.3V22.7M156.2 16.3V22.7M152.1 16.3V10.7M197 16.3V10.3" stroke="#8a8a8a" stroke-width="0.7"/>
<text x="57.90" y="8.60" font-size="9.40" font-family="'Liberation Serif', 'Times New Roman', serif" fill="#1a1a1a" text-anchor="middle" >Train</text>
<text x="152.40" y="8.60" font-size="9.40" font-family="'Liberation Serif', 'Times New Roman', serif" fill="#1a1a1a" text-anchor="middle" >Validate</text>
<text x="196.90" y="8.60" font-size="9.40" font-family="'Liberation Serif', 'Times New Roman', serif" fill="#1a1a1a" text-anchor="middle" >Test</text>
<text x="17.60" y="29.60" font-size="4.40" font-family="'Liberation Sans', Arial, sans-serif" fill="#444" text-anchor="end" >0</text>
<text x="17.60" y="42.40" font-size="4.40" font-family="'Liberation Sans', Arial, sans-serif" fill="#444" text-anchor="end" >100</text>
<text x="17.60" y="55.20" font-size="4.40" font-family="'Liberation Sans', Arial, sans-serif" fill="#444" text-anchor="end" >200</text>
<text x="17.60" y="68.00" font-size="4.40" font-family="'Liberation Sans', Arial, sans-serif" fill="#444" text-anchor="end" >300</text>
<text x="17.60" y="80.80" font-size="4.40" font-family="'Liberation Sans', Arial, sans-serif" fill="#444" text-anchor="end" >400</text>
<text x="17.60" y="93.60" font-size="4.40" font-family="'Liberation Sans', Arial, sans-serif" fill="#444" text-anchor="end" >500</text>
<text x="0.00" y="0.00" font-size="5.20" font-family="'Liberation Sans', Arial, sans-serif" fill="#444" text-anchor="middle" transform="translate(6.8 64.7) rotate(-90)">Depth (m)</text>
<text x="19.40" y="108.60" font-size="4.40" font-family="'Liberation Sans', Arial, sans-serif" fill="#444" text-anchor="middle" >Sep-12 0000</text>
<text x="67.70" y="108.60" font-size="4.40" font-family="'Liberation Sans', Arial, sans-serif" fill="#444" text-anchor="middle" >Sep-12 1200</text>
<text x="116.00" y="108.60" font-size="4.40" font-family="'Liberation Sans', Arial, sans-serif" fill="#444" text-anchor="middle" >Sep-13 0000</text>
<text x="164.30" y="108.60" font-size="4.40" font-family="'Liberation Sans', Arial, sans-serif" fill="#444" text-anchor="middle" >Sep-13 1200</text>
<text x="212.60" y="108.60" font-size="4.40" font-family="'Liberation Sans', Arial, sans-serif" fill="#444" text-anchor="middle" >Sep-14 0000</text>
<rect x="229.8" y="28.1" width="7.2" height="73" fill="url(#cb)"/>
<text x="239.30" y="30.60" font-size="4.40" font-family="'Liberation Sans', Arial, sans-serif" fill="#444" text-anchor="start" >1510</text>
<text x="239.30" y="44.80" font-size="4.40" font-family="'Liberation Sans', Arial, sans-serif" fill="#444" text-anchor="start" >1505</text>
<text x="239.30" y="59.00" font-size="4.40" font-family="'Liberation Sans', Arial, sans-serif" fill="#444" text-anchor="start" >1500</text>
<text x="239.30" y="73.20" font-size="4.40" font-family="'Liberation Sans', Arial, sans-serif" fill="#444" text-anchor="start" >1495</text>
<text x="239.30" y="87.40" font-size="4.40" font-family="'Liberation Sans', Arial, sans-serif" fill="#444" text-anchor="start" >1490</text>
<text x="239.30" y="101.60" font-size="4.40" font-family="'Liberation Sans', Arial, sans-serif" fill="#444" text-anchor="start" >1485</text>
<text x="0.00" y="0.00" font-size="4.60" font-family="'Liberation Sans', Arial, sans-serif" fill="#444" text-anchor="middle" transform="translate(254.0 65.5) rotate(-90)">c (m/s)</text>
<text x="128.90" y="125.00" font-size="10.40" font-family="'Liberation Serif', 'Times New Roman', serif" fill="#222" text-anchor="middle" font-weight="bold">(a)</text>
<rect x="283.30" y="26.90" width="2.62" height="73.90" fill="url(#b0)"/><rect x="285.32" y="26.90" width="2.62" height="73.90" fill="url(#b1)"/><rect x="287.33" y="26.90" width="2.62" height="73.90" fill="url(#b2)"/><rect x="289.35" y="26.90" width="2.62" height="73.90" fill="url(#b3)"/><rect x="291.37" y="26.90" width="2.62" height="73.90" fill="url(#b4)"/><rect x="293.38" y="26.90" width="2.62" height="73.90" fill="url(#b5)"/><rect x="295.40" y="26.90" width="2.62" height="73.90" fill="url(#b6)"/><rect x="297.42" y="26.90" width="2.62" height="73.90" fill="url(#b7)"/><rect x="299.43" y="26.90" width="2.62" height="73.90" fill="url(#b8)"/><rect x="301.45" y="26.90" width="2.62" height="73.90" fill="url(#b9)"/><rect x="303.47" y="26.90" width="2.62" height="73.90" fill="url(#b10)"/><rect x="305.48" y="26.90" width="2.62" height="73.90" fill="url(#b11)"/><rect x="307.50" y="26.90" width="2.62" height="73.90" fill="url(#b12)"/><rect x="309.52" y="26.90" width="2.62" height="73.90" fill="url(#b13)"/><rect x="311.53" y="26.90" width="2.62" height="73.90" fill="url(#b14)"/><rect x="313.55" y="26.90" width="2.62" height="73.90" fill="url(#b15)"/><rect x="315.57" y="26.90" width="2.62" height="73.90" fill="url(#b16)"/><rect x="317.58" y="26.90" width="2.62" height="73.90" fill="url(#b17)"/><rect x="319.60" y="26.90" width="2.62" height="73.90" fill="url(#b18)"/><rect x="321.62" y="26.90" width="2.62" height="73.90" fill="url(#b19)"/><rect x="323.63" y="26.90" width="2.62" height="73.90" fill="url(#b20)"/><rect x="325.65" y="26.90" width="2.62" height="73.90" fill="url(#b21)"/><rect x="327.67" y="26.90" width="2.62" height="73.90" fill="url(#b22)"/><rect x="329.68" y="26.90" width="2.62" height="73.90" fill="url(#b23)"/><rect x="331.70" y="26.90" width="2.62" height="73.90" fill="url(#b24)"/><rect x="333.72" y="26.90" width="2.62" height="73.90" fill="url(#b25)"/><rect x="335.73" y="26.90" width="2.62" height="73.90" fill="url(#b26)"/><rect x="337.75" y="26.90" width="2.62" height="73.90" fill="url(#b27)"/><rect x="339.77" y="26.90" width="2.62" height="73.90" fill="url(#b28)"/><rect x="341.78" y="26.90" width="2.62" height="73.90" fill="url(#b29)"/><rect x="343.80" y="26.90" width="2.62" height="73.90" fill="url(#b30)"/><rect x="345.82" y="26.90" width="2.62" height="73.90" fill="url(#b31)"/><rect x="347.83" y="26.90" width="2.62" height="73.90" fill="url(#b32)"/><rect x="349.85" y="26.90" width="2.62" height="73.90" fill="url(#b33)"/><rect x="351.87" y="26.90" width="2.62" height="73.90" fill="url(#b34)"/><rect x="353.88" y="26.90" width="2.62" height="73.90" fill="url(#b35)"/><rect x="355.90" y="26.90" width="2.62" height="73.90" fill="url(#b36)"/><rect x="357.92" y="26.90" width="2.62" height="73.90" fill="url(#b37)"/><rect x="359.93" y="26.90" width="2.62" height="73.90" fill="url(#b38)"/><rect x="361.95" y="26.90" width="2.62" height="73.90" fill="url(#b39)"/><rect x="363.97" y="26.90" width="2.62" height="73.90" fill="url(#b40)"/><rect x="365.98" y="26.90" width="2.62" height="73.90" fill="url(#b41)"/><rect x="368.00" y="26.90" width="2.62" height="73.90" fill="url(#b42)"/><rect x="370.02" y="26.90" width="2.62" height="73.90" fill="url(#b43)"/><rect x="372.03" y="26.90" width="2.62" height="73.90" fill="url(#b44)"/><rect x="374.05" y="26.90" width="2.62" height="73.90" fill="url(#b45)"/><rect x="376.07" y="26.90" width="2.62" height="73.90" fill="url(#b46)"/><rect x="378.08" y="26.90" width="2.62" height="73.90" fill="url(#b47)"/><rect x="380.10" y="26.90" width="2.62" height="73.90" fill="url(#b48)"/><rect x="382.12" y="26.90" width="2.62" height="73.90" fill="url(#b49)"/><rect x="384.13" y="26.90" width="2.62" height="73.90" fill="url(#b50)"/><rect x="386.15" y="26.90" width="2.62" height="73.90" fill="url(#b51)"/><rect x="388.17" y="26.90" width="2.62" height="73.90" fill="url(#b52)"/><rect x="390.18" y="26.90" width="2.62" height="73.90" fill="url(#b53)"/><rect x="392.20" y="26.90" width="2.62" height="73.90" fill="url(#b54)"/><rect x="394.22" y="26.90" width="2.62" height="73.90" fill="url(#b55)"/><rect x="396.23" y="26.90" width="2.62" height="73.90" fill="url(#b56)"/><rect x="398.25" y="26.90" width="2.62" height="73.90" fill="url(#b57)"/><rect x="400.27" y="26.90" width="2.62" height="73.90" fill="url(#b58)"/><rect x="402.28" y="26.90" width="2.62" height="73.90" fill="url(#b59)"/><rect x="404.30" y="26.90" width="2.62" height="73.90" fill="url(#b60)"/><rect x="406.32" y="26.90" width="2.62" height="73.90" fill="url(#b61)"/><rect x="408.33" y="26.90" width="2.62" height="73.90" fill="url(#b62)"/><rect x="410.35" y="26.90" width="2.62" height="73.90" fill="url(#b63)"/><rect x="412.37" y="26.90" width="2.62" height="73.90" fill="url(#b64)"/><rect x="414.38" y="26.90" width="2.62" height="73.90" fill="url(#b65)"/><rect x="416.40" y="26.90" width="2.62" height="73.90" fill="url(#b66)"/><rect x="418.42" y="26.90" width="2.62" height="73.90" fill="url(#b67)"/><rect x="420.43" y="26.90" width="2.62" height="73.90" fill="url(#b68)"/><rect x="422.45" y="26.90" width="2.62" height="73.90" fill="url(#b69)"/><rect x="424.47" y="26.90" width="2.62" height="73.90" fill="url(#b70)"/><rect x="426.48" y="26.90" width="2.62" height="73.90" fill="url(#b71)"/><rect x="428.50" y="26.90" width="2.62" height="73.90" fill="url(#b72)"/><rect x="430.52" y="26.90" width="2.62" height="73.90" fill="url(#b73)"/><rect x="432.53" y="26.90" width="2.62" height="73.90" fill="url(#b74)"/><rect x="434.55" y="26.90" width="2.62" height="73.90" fill="url(#b75)"/><rect x="436.57" y="26.90" width="2.62" height="73.90" fill="url(#b76)"/><rect x="438.58" y="26.90" width="2.62" height="73.90" fill="url(#b77)"/><rect x="440.60" y="26.90" width="2.62" height="73.90" fill="url(#b78)"/><rect x="442.62" y="26.90" width="2.62" height="73.90" fill="url(#b79)"/><rect x="444.63" y="26.90" width="2.62" height="73.90" fill="url(#b80)"/><rect x="446.65" y="26.90" width="2.62" height="73.90" fill="url(#b81)"/><rect x="448.67" y="26.90" width="2.62" height="73.90" fill="url(#b82)"/><rect x="450.68" y="26.90" width="2.62" height="73.90" fill="url(#b83)"/><rect x="452.70" y="26.90" width="2.62" height="73.90" fill="url(#b84)"/><rect x="454.72" y="26.90" width="2.62" height="73.90" fill="url(#b85)"/><rect x="456.73" y="26.90" width="2.62" height="73.90" fill="url(#b86)"/><rect x="458.75" y="26.90" width="2.62" height="73.90" fill="url(#b87)"/><rect x="460.77" y="26.90" width="2.62" height="73.90" fill="url(#b88)"/><rect x="462.78" y="26.90" width="2.62" height="73.90" fill="url(#b89)"/><rect x="464.80" y="26.90" width="2.62" height="73.90" fill="url(#b90)"/><rect x="466.82" y="26.90" width="2.62" height="73.90" fill="url(#b91)"/><rect x="468.83" y="26.90" width="2.62" height="73.90" fill="url(#b92)"/><rect x="470.85" y="26.90" width="2.62" height="73.90" fill="url(#b93)"/><rect x="472.87" y="26.90" width="2.62" height="73.90" fill="url(#b94)"/><rect x="474.88" y="26.90" width="2.62" height="73.90" fill="url(#b95)"/>
<path d="M283.60 28.00V33.00M283.60 38.95V43.95M283.60 49.90V54.90M283.60 60.85V65.85M283.60 71.80V76.80M283.60 82.75V87.75M283.60 93.70V98.70" stroke="#111" stroke-width="1.60" fill="none"/>
<path d="M412.30 28.00V33.00M412.30 38.95V43.95M412.30 49.90V54.90M412.30 60.85V65.85M412.30 71.80V76.80M412.30 82.75V87.75M412.30 93.70V98.70" stroke="#111" stroke-width="1.60" fill="none"/>
<path d="M420.40 28.00V33.00M420.40 38.95V43.95M420.40 49.90V54.90M420.40 60.85V65.85M420.40 71.80V76.80M420.40 82.75V87.75M420.40 93.70V98.70" stroke="#111" stroke-width="1.60" fill="none"/>
<path d="M476.70 28.00V33.00M476.70 38.95V43.95M476.70 49.90V54.90M476.70 60.85V65.85M476.70 71.80V76.80M476.70 82.75V87.75M476.70 93.70V98.70" stroke="#111" stroke-width="1.60" fill="none"/>
<path d="M283.60 21.10Q283.60 14.60 284.80 14.60H474.00Q475.20 14.60 475.20 21.10" stroke="#7a7a7a" stroke-width="0.7" fill="none"/><path d="M324.00 14.60V9.00" stroke="#7a7a7a" stroke-width="0.7"/>
<path d="M412.4 14.6V21M420.2 14.6V21M416.5 14.6V9M461.5 14.6V9" stroke="#8a8a8a" stroke-width="0.7"/>
<text x="322.50" y="6.80" font-size="9.40" font-family="'Liberation Serif', 'Times New Roman', serif" fill="#1a1a1a" text-anchor="middle" >Train</text>
<text x="416.90" y="6.80" font-size="9.40" font-family="'Liberation Serif', 'Times New Roman', serif" fill="#1a1a1a" text-anchor="middle" >Validate</text>
<text x="461.40" y="6.80" font-size="9.40" font-family="'Liberation Serif', 'Times New Roman', serif" fill="#1a1a1a" text-anchor="middle" >Test</text>
<text x="281.50" y="28.90" font-size="4.40" font-family="'Liberation Sans', Arial, sans-serif" fill="#444" text-anchor="end" >0</text>
<text x="281.50" y="43.70" font-size="4.40" font-family="'Liberation Sans', Arial, sans-serif" fill="#444" text-anchor="end" >20</text>
<text x="281.50" y="58.50" font-size="4.40" font-family="'Liberation Sans', Arial, sans-serif" fill="#444" text-anchor="end" >40</text>
<text x="281.50" y="73.30" font-size="4.40" font-family="'Liberation Sans', Arial, sans-serif" fill="#444" text-anchor="end" >60</text>
<text x="281.50" y="88.10" font-size="4.40" font-family="'Liberation Sans', Arial, sans-serif" fill="#444" text-anchor="end" >80</text>
<text x="281.50" y="102.90" font-size="4.40" font-family="'Liberation Sans', Arial, sans-serif" fill="#444" text-anchor="end" >100</text>
<text x="0.00" y="0.00" font-size="5.20" font-family="'Liberation Sans', Arial, sans-serif" fill="#444" text-anchor="middle" transform="translate(271.2 63.3) rotate(-90)">Depth (m)</text>
<text x="283.40" y="107.60" font-size="4.40" font-family="'Liberation Sans', Arial, sans-serif" fill="#444" text-anchor="middle" >Sep-12 0000</text>
<text x="331.80" y="107.60" font-size="4.40" font-family="'Liberation Sans', Arial, sans-serif" fill="#444" text-anchor="middle" >Sep-12 1200</text>
<text x="380.20" y="107.60" font-size="4.40" font-family="'Liberation Sans', Arial, sans-serif" fill="#444" text-anchor="middle" >Sep-13 0000</text>
<text x="428.60" y="107.60" font-size="4.40" font-family="'Liberation Sans', Arial, sans-serif" fill="#444" text-anchor="middle" >Sep-13 1200</text>
<text x="477.00" y="107.60" font-size="4.40" font-family="'Liberation Sans', Arial, sans-serif" fill="#444" text-anchor="middle" >Sep-14 0000</text>
<rect x="493.8" y="27.1" width="7.6" height="73.8" fill="url(#cb)"/>
<text x="503.30" y="29.70" font-size="4.40" font-family="'Liberation Sans', Arial, sans-serif" fill="#444" text-anchor="start" >1510</text>
<text x="503.30" y="43.85" font-size="4.40" font-family="'Liberation Sans', Arial, sans-serif" fill="#444" text-anchor="start" >1505</text>
<text x="503.30" y="58.00" font-size="4.40" font-family="'Liberation Sans', Arial, sans-serif" fill="#444" text-anchor="start" >1500</text>
<text x="503.30" y="72.15" font-size="4.40" font-family="'Liberation Sans', Arial, sans-serif" fill="#444" text-anchor="start" >1495</text>
<text x="503.30" y="86.30" font-size="4.40" font-family="'Liberation Sans', Arial, sans-serif" fill="#444" text-anchor="start" >1490</text>
<text x="503.30" y="100.45" font-size="4.40" font-family="'Liberation Sans', Arial, sans-serif" fill="#444" text-anchor="start" >1485</text>
<text x="0.00" y="0.00" font-size="4.60" font-family="'Liberation Sans', Arial, sans-serif" fill="#444" text-anchor="middle" transform="translate(517.8 63.5) rotate(-90)">c (m/s)</text>
<text x="400.00" y="125.00" font-size="10.40" font-family="'Liberation Serif', 'Times New Roman', serif" fill="#222" text-anchor="middle" font-weight="bold">(b)</text>
<rect x="21.50" y="161.20" width="218.50" height="106.80" fill="#b2ebec"/><path d="M35.20 161.20V268.00M69.40 161.20V268.00M103.60 161.20V268.00M137.80 161.20V268.00M172.00 161.20V268.00M206.20 161.20V268.00M21.50 180.25H240.00M21.50 198.60H240.00M21.50 216.95H240.00M21.50 235.30H240.00M21.50 253.65H240.00" stroke="#9fd9dc" stroke-width="0.6" fill="none"/><rect x="21.50" y="268.00" width="218.50" height="26.60" fill="#c3b687"/><path d="M21.50 268.00H240.00" stroke="#8f8a62" stroke-width="0.5"/><path d="M21.50 161.70H240.00" stroke="#7f9fd0" stroke-width="0.8" stroke-dasharray="1.3 1.2"/><rect x="136.6" y="252.3" width="95.4" height="15.9" rx="1.2" fill="#2626fa"/><rect x="136.75" y="251.8" width="1.9" height="16.4" rx="0.95" fill="#0000a6"/><rect x="140.19" y="251.8" width="1.9" height="16.4" rx="0.95" fill="#0000a6"/><rect x="143.62" y="251.8" width="1.9" height="16.4" rx="0.95" fill="#0000a6"/><rect x="147.06" y="251.8" width="1.9" height="16.4" rx="0.95" fill="#0000a6"/><rect x="150.50" y="251.8" width="1.9" height="16.4" rx="0.95" fill="#0000a6"/><rect x="153.94" y="251.8" width="1.9" height="16.4" rx="0.95" fill="#0000a6"/><rect x="157.37" y="251.8" width="1.9" height="16.4" rx="0.95" fill="#0000a6"/><rect x="160.81" y="251.8" width="1.9" height="16.4" rx="0.95" fill="#0000a6"/><rect x="164.25" y="251.8" width="1.9" height="16.4" rx="0.95" fill="#0000a6"/><rect x="167.68" y="251.8" width="1.9" height="16.4" rx="0.95" fill="#0000a6"/><rect x="171.12" y="251.8" width="1.9" height="16.4" rx="0.95" fill="#0000a6"/><rect x="174.56" y="251.8" width="1.9" height="16.4" rx="0.95" fill="#0000a6"/><rect x="177.99" y="251.8" width="1.9" height="16.4" rx="0.95" fill="#0000a6"/><rect x="181.43" y="251.8" width="1.9" height="16.4" rx="0.95" fill="#0000a6"/><rect x="184.87" y="251.8" width="1.9" height="16.4" rx="0.95" fill="#0000a6"/><rect x="188.31" y="251.8" width="1.9" height="16.4" rx="0.95" fill="#0000a6"/><rect x="191.74" y="251.8" width="1.9" height="16.4" rx="0.95" fill="#0000a6"/><rect x="195.18" y="251.8" width="1.9" height="16.4" rx="0.95" fill="#0000a6"/><rect x="198.62" y="251.8" width="1.9" height="16.4" rx="0.95" fill="#0000a6"/><rect x="202.05" y="251.8" width="1.9" height="16.4" rx="0.95" fill="#0000a6"/><rect x="205.49" y="251.8" width="1.9" height="16.4" rx="0.95" fill="#0000a6"/><rect x="208.93" y="251.8" width="1.9" height="16.4" rx="0.95" fill="#0000a6"/><rect x="212.36" y="251.8" width="1.9" height="16.4" rx="0.95" fill="#0000a6"/><rect x="215.80" y="251.8" width="1.9" height="16.4" rx="0.95" fill="#0000a6"/><rect x="219.24" y="251.8" width="1.9" height="16.4" rx="0.95" fill="#0000a6"/><rect x="222.68" y="251.8" width="1.9" height="16.4" rx="0.95" fill="#0000a6"/><rect x="226.11" y="251.8" width="1.9" height="16.4" rx="0.95" fill="#0000a6"/><rect x="229.55" y="251.8" width="1.9" height="16.4" rx="0.95" fill="#0000a6"/><path d="M34.6 163 L38 161.6 Q98 186 206.5 257.5" stroke="#6cc07a" stroke-width="1.50" fill="none" stroke-linecap="round" stroke-linejoin="round"/><path d="M34.6 163 Q100 203 190.5 268 L206.5 257.5" stroke="#3f7ea6" stroke-width="1.50" fill="none" stroke-linecap="round" stroke-linejoin="round"/><path d="M34.6 163 Q92 188 206.5 257.5" stroke="#d04a55" stroke-width="2.00" fill="none" stroke-linecap="round" stroke-linejoin="round"/><circle cx="34.60" cy="163.00" r="1.4" fill="#6a1830"/><circle cx="206.50" cy="257.50" r="1.6" fill="#f5f05a"/><circle cx="206.50" cy="257.50" r="0.8" fill="#fffcaa"/><rect x="180.60" y="165.20" width="55.60" height="36.00" fill="#fbfefe" stroke="#9a9a9a" stroke-width="0.4"/><circle cx="189.90" cy="169.10" r="1.35" fill="#b01538"/><text x="198.60" y="170.60" font-size="5.10" font-family="'Liberation Serif', 'Times New Roman', serif" fill="#3a3a3a" text-anchor="start" >Source</text><path d="M181.80 174.72H197.20" stroke="#80c48a" stroke-width="1.3"/><text x="198.60" y="176.22" font-size="5.10" font-family="'Liberation Serif', 'Times New Roman', serif" fill="#3a3a3a" text-anchor="start" >Surface reflection</text><path d="M181.80 180.34H197.20" stroke="#d45a64" stroke-width="1.3"/><text x="198.60" y="181.84" font-size="5.10" font-family="'Liberation Serif', 'Times New Roman', serif" fill="#3a3a3a" text-anchor="start" >Direct path</text><path d="M181.80 185.96H197.20" stroke="#4f82a6" stroke-width="1.3"/><text x="198.60" y="187.46" font-size="5.10" font-family="'Liberation Serif', 'Times New Roman', serif" fill="#3a3a3a" text-anchor="start" >Bottom reflection</text><circle cx="189.90" cy="191.58" r="1.35" fill="#9a9860"/><text x="198.60" y="193.08" font-size="5.10" font-family="'Liberation Serif', 'Times New Roman', serif" fill="#3a3a3a" text-anchor="start" >Arbitrary receiver</text><circle cx="189.90" cy="197.20" r="1.35" fill="#08089a"/><text x="198.60" y="198.70" font-size="5.10" font-family="'Liberation Serif', 'Times New Roman', serif" fill="#3a3a3a" text-anchor="start" >All receivers</text><text x="19.70" y="163.50" font-size="4.60" font-family="'Liberation Sans', Arial, sans-serif" fill="#444" text-anchor="end" >0</text><text x="19.70" y="181.85" font-size="4.60" font-family="'Liberation Sans', Arial, sans-serif" fill="#444" text-anchor="end" >100</text><text x="19.70" y="200.20" font-size="4.60" font-family="'Liberation Sans', Arial, sans-serif" fill="#444" text-anchor="end" >200</text><text x="19.70" y="218.55" font-size="4.60" font-family="'Liberation Sans', Arial, sans-serif" fill="#444" text-anchor="end" >300</text><text x="19.70" y="236.90" font-size="4.60" font-family="'Liberation Sans', Arial, sans-serif" fill="#444" text-anchor="end" >400</text><text x="19.70" y="255.25" font-size="4.60" font-family="'Liberation Sans', Arial, sans-serif" fill="#444" text-anchor="end" >500</text><text x="19.70" y="273.60" font-size="4.60" font-family="'Liberation Sans', Arial, sans-serif" fill="#444" text-anchor="end" >600</text><text x="19.70" y="291.95" font-size="4.60" font-family="'Liberation Sans', Arial, sans-serif" fill="#444" text-anchor="end" >700</text><text x="35.20" y="301.40" font-size="4.60" font-family="'Liberation Sans', Arial, sans-serif" fill="#444" text-anchor="middle" >0</text><text x="69.40" y="301.40" font-size="4.60" font-family="'Liberation Sans', Arial, sans-serif" fill="#444" text-anchor="middle" >0.5</text><text x="103.60" y="301.40" font-size="4.60" font-family="'Liberation Sans', Arial, sans-serif" fill="#444" text-anchor="middle" >1</text><text x="137.80" y="301.40" font-size="4.60" font-family="'Liberation Sans', Arial, sans-serif" fill="#444" text-anchor="middle" >1.5</text><text x="172.00" y="301.40" font-size="4.60" font-family="'Liberation Sans', Arial, sans-serif" fill="#444" text-anchor="middle" >2</text><text x="206.20" y="301.40" font-size="4.60" font-family="'Liberation Sans', Arial, sans-serif" fill="#444" text-anchor="middle" >2.5</text><text x="240.40" y="301.40" font-size="4.60" font-family="'Liberation Sans', Arial, sans-serif" fill="#444" text-anchor="middle" >3</text><text x="0.00" y="0.00" font-size="7.60" font-family="'Liberation Serif', 'Times New Roman', serif" fill="#444" text-anchor="middle" transform="translate(7.50 227) rotate(-90)">Depth (m)</text><text x="131.00" y="310.40" font-size="8.20" font-family="'Liberation Serif', 'Times New Roman', serif" fill="#444" text-anchor="middle" >Range (km)</text><text x="131.00" y="157.50" font-size="10.50" font-family="'Liberation Serif', 'Times New Roman', serif" fill="#222" text-anchor="middle" stroke="#222" stroke-width="0.2">Geometry 1</text><text x="42.30" y="288.40" font-size="7.6" font-family="'Liberation Serif', 'Times New Roman', serif" fill="#2e2e22" font-weight="bold" textLength="147.00" lengthAdjust="spacingAndGlyphs"><tspan font-style="italic">c</tspan><tspan font-size="4.5" dy="1.2">b</tspan><tspan dy="-1.2"> = 1452 m/s, </tspan><tspan font-style="italic">ρ</tspan><tspan font-size="4.5" dy="1.2">b</tspan><tspan dy="-1.2"> = 1.3 g/cm</tspan><tspan font-size="4.5" dy="-2.5">3</tspan><tspan dy="2.5">, </tspan><tspan font-style="italic">α</tspan><tspan font-size="4.5" dy="1.2">b</tspan><tspan dy="-1.2"> = 0.6 dB/λ</tspan></text>
<text x="128.90" y="324.20" font-size="10.40" font-family="'Liberation Serif', 'Times New Roman', serif" fill="#222" text-anchor="middle" font-weight="bold">(c)</text>
<rect x="287.50" y="160.60" width="219.00" height="106.70" fill="#b2ebec"/><path d="M301.20 160.60V267.30M335.45 160.60V267.30M369.70 160.60V267.30M403.95 160.60V267.30M438.20 160.60V267.30M472.45 160.60V267.30M287.50 179.85H506.50M287.50 198.20H506.50M287.50 216.55H506.50M287.50 234.90H506.50M287.50 253.25H506.50" stroke="#9fd9dc" stroke-width="0.6" fill="none"/><rect x="287.50" y="267.30" width="219.00" height="27.10" fill="#c3b687"/><path d="M287.50 267.30H506.50" stroke="#8f8a62" stroke-width="0.5"/><path d="M287.50 161.10H506.50" stroke="#7f9fd0" stroke-width="0.8" stroke-dasharray="1.3 1.2"/><path d="M438.5 175.6V264" stroke="#00007a" stroke-width="3.4" stroke-linecap="round"/><path d="M438.5 176.2V263.4" stroke="#0a0ad6" stroke-width="2.0" stroke-linecap="round"/><path d="M301.20 198.20L362.77 161.50L438.20 206.46" stroke="#6cc07a" stroke-width="1.50" fill="none" stroke-linecap="round" stroke-linejoin="round"/><path d="M301.20 198.20L374.06 267.20L438.20 206.46" stroke="#3f7ea6" stroke-width="1.50" fill="none" stroke-linecap="round" stroke-linejoin="round"/><path d="M301.20 234.90L386.16 161.50L438.20 206.46" stroke="#6cc07a" stroke-width="1.50" fill="none" stroke-linecap="round" stroke-linejoin="round"/><path d="M301.20 234.90L348.76 267.20L438.20 206.46" stroke="#3f7ea6" stroke-width="1.50" fill="none" stroke-linecap="round" stroke-linejoin="round"/><path d="M301.20 198.20L438.20 206.46" stroke="#d04a55" stroke-width="2.00" fill="none" stroke-linecap="round" stroke-linejoin="round"/><path d="M301.20 234.90L438.20 206.46" stroke="#d04a55" stroke-width="2.00" fill="none" stroke-linecap="round" stroke-linejoin="round"/><circle cx="301.20" cy="198.20" r="1.4" fill="#6a1830"/><circle cx="301.20" cy="234.90" r="1.4" fill="#6a1830"/><circle cx="438.20" cy="206.46" r="1.6" fill="#f5f05a"/><circle cx="438.20" cy="206.46" r="0.8" fill="#fffcaa"/><rect x="447.30" y="164.40" width="55.10" height="35.80" fill="#fbfefe" stroke="#9a9a9a" stroke-width="0.4"/><circle cx="456.60" cy="168.30" r="1.35" fill="#b01538"/><text x="465.30" y="169.80" font-size="5.10" font-family="'Liberation Serif', 'Times New Roman', serif" fill="#3a3a3a" text-anchor="start" >Source</text><path d="M448.50 173.92H463.90" stroke="#80c48a" stroke-width="1.3"/><text x="465.30" y="175.42" font-size="5.10" font-family="'Liberation Serif', 'Times New Roman', serif" fill="#3a3a3a" text-anchor="start" >Surface reflection</text><path d="M448.50 179.54H463.90" stroke="#d45a64" stroke-width="1.3"/><text x="465.30" y="181.04" font-size="5.10" font-family="'Liberation Serif', 'Times New Roman', serif" fill="#3a3a3a" text-anchor="start" >Direct path</text><path d="M448.50 185.16H463.90" stroke="#4f82a6" stroke-width="1.3"/><text x="465.30" y="186.66" font-size="5.10" font-family="'Liberation Serif', 'Times New Roman', serif" fill="#3a3a3a" text-anchor="start" >Bottom reflection</text><circle cx="456.60" cy="190.78" r="1.35" fill="#9a9860"/><text x="465.30" y="192.28" font-size="5.10" font-family="'Liberation Serif', 'Times New Roman', serif" fill="#3a3a3a" text-anchor="start" font-style="italic">Arbitrary receiver</text><circle cx="456.60" cy="196.40" r="1.35" fill="#08089a"/><text x="465.30" y="197.90" font-size="5.10" font-family="'Liberation Serif', 'Times New Roman', serif" fill="#3a3a3a" text-anchor="start" font-style="italic">All receivers</text><text x="285.70" y="163.10" font-size="4.60" font-family="'Liberation Sans', Arial, sans-serif" fill="#444" text-anchor="end" >0</text><text x="285.70" y="181.45" font-size="4.60" font-family="'Liberation Sans', Arial, sans-serif" fill="#444" text-anchor="end" >100</text><text x="285.70" y="199.80" font-size="4.60" font-family="'Liberation Sans', Arial, sans-serif" fill="#444" text-anchor="end" >200</text><text x="285.70" y="218.15" font-size="4.60" font-family="'Liberation Sans', Arial, sans-serif" fill="#444" text-anchor="end" >300</text><text x="285.70" y="236.50" font-size="4.60" font-family="'Liberation Sans', Arial, sans-serif" fill="#444" text-anchor="end" >400</text><text x="285.70" y="254.85" font-size="4.60" font-family="'Liberation Sans', Arial, sans-serif" fill="#444" text-anchor="end" >500</text><text x="285.70" y="273.20" font-size="4.60" font-family="'Liberation Sans', Arial, sans-serif" fill="#444" text-anchor="end" >600</text><text x="285.70" y="291.55" font-size="4.60" font-family="'Liberation Sans', Arial, sans-serif" fill="#444" text-anchor="end" >700</text><text x="301.20" y="301.40" font-size="4.60" font-family="'Liberation Sans', Arial, sans-serif" fill="#444" text-anchor="middle" >0</text><text x="335.45" y="301.40" font-size="4.60" font-family="'Liberation Sans', Arial, sans-serif" fill="#444" text-anchor="middle" >0.5</text><text x="369.70" y="301.40" font-size="4.60" font-family="'Liberation Sans', Arial, sans-serif" fill="#444" text-anchor="middle" >1</text><text x="403.95" y="301.40" font-size="4.60" font-family="'Liberation Sans', Arial, sans-serif" fill="#444" text-anchor="middle" >1.5</text><text x="438.20" y="301.40" font-size="4.60" font-family="'Liberation Sans', Arial, sans-serif" fill="#444" text-anchor="middle" >2</text><text x="472.45" y="301.40" font-size="4.60" font-family="'Liberation Sans', Arial, sans-serif" fill="#444" text-anchor="middle" >2.5</text><text x="506.70" y="301.40" font-size="4.60" font-family="'Liberation Sans', Arial, sans-serif" fill="#444" text-anchor="middle" >3</text><text x="0.00" y="0.00" font-size="7.60" font-family="'Liberation Serif', 'Times New Roman', serif" fill="#444" text-anchor="middle" transform="translate(273.50 227) rotate(-90)">Depth (m)</text><text x="397.60" y="310.40" font-size="8.20" font-family="'Liberation Serif', 'Times New Roman', serif" fill="#444" text-anchor="middle" >Range (km)</text><text x="397.60" y="157.50" font-size="10.50" font-family="'Liberation Serif', 'Times New Roman', serif" fill="#222" text-anchor="middle" stroke="#222" stroke-width="0.2">Geometry 2</text><text x="307.70" y="287.80" font-size="7.6" font-family="'Liberation Serif', 'Times New Roman', serif" fill="#2e2e22" font-weight="bold" textLength="145.50" lengthAdjust="spacingAndGlyphs"><tspan font-style="italic">c</tspan><tspan font-size="4.5" dy="1.2">b</tspan><tspan dy="-1.2"> = 1452 m/s, </tspan><tspan font-style="italic">ρ</tspan><tspan font-size="4.5" dy="1.2">b</tspan><tspan dy="-1.2"> = 1.3 g/cm</tspan><tspan font-size="4.5" dy="-2.5">3</tspan><tspan dy="2.5">, </tspan><tspan font-style="italic">α</tspan><tspan font-size="4.5" dy="1.2">b</tspan><tspan dy="-1.2"> = 0.6 dB/λ</tspan></text>
<text x="399.70" y="324.00" font-size="10.40" font-family="'Liberation Serif', 'Times New Roman', serif" fill="#222" text-anchor="middle" font-weight="bold">(d)</text>
</svg>
</body></html>
